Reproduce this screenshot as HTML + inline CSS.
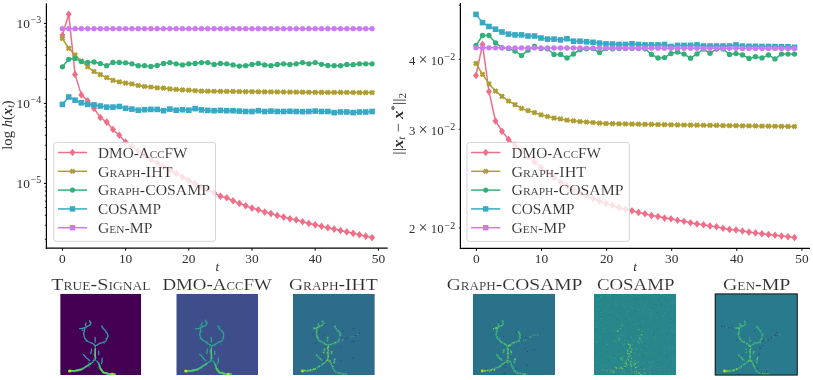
<!DOCTYPE html>
<html><head><meta charset="utf-8"><style>
html,body{margin:0;padding:0;background:#fff;width:813px;height:380px;overflow:hidden}
svg{display:block;filter:blur(0.3px)}
text{font-family:"Liberation Serif",serif;fill:#2e2e2e}
.tk{font-size:13.4px}
.sup{font-size:10px}
.lg{font-size:14.5px;stroke:#fff;stroke-width:0.1px}
.tt{font-size:17.2px;stroke:#fff;stroke-width:0.12px}
.xl{font-size:13px;font-style:italic}
.yl{font-size:15px}
.sc{font-size:10.5px}
.sct{font-size:11.6px}
</style></head><body>
<svg width="813" height="380" viewBox="0 0 813 380">
<line x1="46.4" y1="3.2" x2="46.4" y2="248.79999999999998" stroke="#000" stroke-width="1.2"/>
<line x1="45.8" y1="248.2" x2="387.7" y2="248.2" stroke="#000" stroke-width="1.2"/>
<line x1="62.40" y1="248.2" x2="62.40" y2="250.7" stroke="#000" stroke-width="1"/>
<text x="62.40" y="262.7" text-anchor="middle" class="tk">0</text>
<line x1="125.60" y1="248.2" x2="125.60" y2="250.7" stroke="#000" stroke-width="1"/>
<text x="125.60" y="262.7" text-anchor="middle" class="tk">10</text>
<line x1="188.80" y1="248.2" x2="188.80" y2="250.7" stroke="#000" stroke-width="1"/>
<text x="188.80" y="262.7" text-anchor="middle" class="tk">20</text>
<line x1="252.00" y1="248.2" x2="252.00" y2="250.7" stroke="#000" stroke-width="1"/>
<text x="252.00" y="262.7" text-anchor="middle" class="tk">30</text>
<line x1="315.20" y1="248.2" x2="315.20" y2="250.7" stroke="#000" stroke-width="1"/>
<text x="315.20" y="262.7" text-anchor="middle" class="tk">40</text>
<line x1="378.40" y1="248.2" x2="378.40" y2="250.7" stroke="#000" stroke-width="1"/>
<text x="378.40" y="262.7" text-anchor="middle" class="tk">50</text>
<line x1="43.9" y1="23.40" x2="46.4" y2="23.40" stroke="#000" stroke-width="1"/>
<line x1="43.9" y1="103.40" x2="46.4" y2="103.40" stroke="#000" stroke-width="1"/>
<line x1="43.9" y1="183.40" x2="46.4" y2="183.40" stroke="#000" stroke-width="1"/>
<line x1="44.8" y1="79.32" x2="46.4" y2="79.32" stroke="#000" stroke-width="0.8"/>
<line x1="44.8" y1="65.23" x2="46.4" y2="65.23" stroke="#000" stroke-width="0.8"/>
<line x1="44.8" y1="55.24" x2="46.4" y2="55.24" stroke="#000" stroke-width="0.8"/>
<line x1="44.8" y1="47.48" x2="46.4" y2="47.48" stroke="#000" stroke-width="0.8"/>
<line x1="44.8" y1="41.15" x2="46.4" y2="41.15" stroke="#000" stroke-width="0.8"/>
<line x1="44.8" y1="35.79" x2="46.4" y2="35.79" stroke="#000" stroke-width="0.8"/>
<line x1="44.8" y1="31.15" x2="46.4" y2="31.15" stroke="#000" stroke-width="0.8"/>
<line x1="44.8" y1="27.06" x2="46.4" y2="27.06" stroke="#000" stroke-width="0.8"/>
<line x1="44.8" y1="159.32" x2="46.4" y2="159.32" stroke="#000" stroke-width="0.8"/>
<line x1="44.8" y1="145.23" x2="46.4" y2="145.23" stroke="#000" stroke-width="0.8"/>
<line x1="44.8" y1="135.24" x2="46.4" y2="135.24" stroke="#000" stroke-width="0.8"/>
<line x1="44.8" y1="127.48" x2="46.4" y2="127.48" stroke="#000" stroke-width="0.8"/>
<line x1="44.8" y1="121.15" x2="46.4" y2="121.15" stroke="#000" stroke-width="0.8"/>
<line x1="44.8" y1="115.79" x2="46.4" y2="115.79" stroke="#000" stroke-width="0.8"/>
<line x1="44.8" y1="111.15" x2="46.4" y2="111.15" stroke="#000" stroke-width="0.8"/>
<line x1="44.8" y1="107.06" x2="46.4" y2="107.06" stroke="#000" stroke-width="0.8"/>
<line x1="44.8" y1="239.32" x2="46.4" y2="239.32" stroke="#000" stroke-width="0.8"/>
<line x1="44.8" y1="225.23" x2="46.4" y2="225.23" stroke="#000" stroke-width="0.8"/>
<line x1="44.8" y1="215.24" x2="46.4" y2="215.24" stroke="#000" stroke-width="0.8"/>
<line x1="44.8" y1="207.48" x2="46.4" y2="207.48" stroke="#000" stroke-width="0.8"/>
<line x1="44.8" y1="201.15" x2="46.4" y2="201.15" stroke="#000" stroke-width="0.8"/>
<line x1="44.8" y1="195.79" x2="46.4" y2="195.79" stroke="#000" stroke-width="0.8"/>
<line x1="44.8" y1="191.15" x2="46.4" y2="191.15" stroke="#000" stroke-width="0.8"/>
<line x1="44.8" y1="187.06" x2="46.4" y2="187.06" stroke="#000" stroke-width="0.8"/>
<text x="30" y="27.90" text-anchor="end" class="tk">10</text><text x="30.6" y="23.40" class="sup">−3</text>
<text x="30" y="107.90" text-anchor="end" class="tk">10</text><text x="30.6" y="103.40" class="sup">−4</text>
<text x="30" y="187.90" text-anchor="end" class="tk">10</text><text x="30.6" y="183.40" class="sup">−5</text>
<path d="M62.40 35.20L68.72 14.20L75.04 74.40L81.36 94.90L87.68 100.80L94.00 108.40L100.32 117.50L106.64 122.10L112.96 129.50L119.28 135.20L125.60 142.00L131.92 146.50L138.24 151.00L144.56 155.00L150.88 159.00L157.20 163.00L163.52 166.50L169.84 170.00L176.16 173.50L182.48 177.00L188.80 180.50L195.12 183.50L201.44 187.00L207.76 190.00L214.08 192.80L220.40 196.20L226.72 197.80L233.04 200.70L239.36 203.40L245.68 205.70L252.00 208.10L258.32 209.70L264.64 212.00L270.96 213.60L277.28 215.50L283.60 217.10L289.92 218.70L296.24 219.90L302.56 221.80L308.88 223.40L315.20 224.82L321.52 226.24L327.84 227.66L334.16 229.08L340.48 230.50L346.80 231.92L353.12 233.34L359.44 234.76L365.76 236.18L372.08 237.60" fill="none" stroke="#ef6f89" stroke-width="1.5" stroke-linejoin="round"/>
<path d="M62.40 31.39L65.42 35.20L62.40 39.01L59.38 35.20Z" fill="#ef6f89"/>
<path d="M68.72 10.39L71.74 14.20L68.72 18.01L65.70 14.20Z" fill="#ef6f89"/>
<path d="M75.04 70.59L78.06 74.40L75.04 78.21L72.02 74.40Z" fill="#ef6f89"/>
<path d="M81.36 91.09L84.38 94.90L81.36 98.71L78.34 94.90Z" fill="#ef6f89"/>
<path d="M87.68 96.99L90.70 100.80L87.68 104.61L84.66 100.80Z" fill="#ef6f89"/>
<path d="M94.00 104.59L97.02 108.40L94.00 112.21L90.98 108.40Z" fill="#ef6f89"/>
<path d="M100.32 113.69L103.34 117.50L100.32 121.31L97.30 117.50Z" fill="#ef6f89"/>
<path d="M106.64 118.29L109.66 122.10L106.64 125.91L103.62 122.10Z" fill="#ef6f89"/>
<path d="M112.96 125.69L115.98 129.50L112.96 133.31L109.94 129.50Z" fill="#ef6f89"/>
<path d="M119.28 131.39L122.30 135.20L119.28 139.01L116.26 135.20Z" fill="#ef6f89"/>
<path d="M125.60 138.19L128.62 142.00L125.60 145.81L122.58 142.00Z" fill="#ef6f89"/>
<path d="M131.92 142.69L134.94 146.50L131.92 150.31L128.90 146.50Z" fill="#ef6f89"/>
<path d="M138.24 147.19L141.26 151.00L138.24 154.81L135.22 151.00Z" fill="#ef6f89"/>
<path d="M144.56 151.19L147.58 155.00L144.56 158.81L141.54 155.00Z" fill="#ef6f89"/>
<path d="M150.88 155.19L153.90 159.00L150.88 162.81L147.86 159.00Z" fill="#ef6f89"/>
<path d="M157.20 159.19L160.22 163.00L157.20 166.81L154.18 163.00Z" fill="#ef6f89"/>
<path d="M163.52 162.69L166.54 166.50L163.52 170.31L160.50 166.50Z" fill="#ef6f89"/>
<path d="M169.84 166.19L172.86 170.00L169.84 173.81L166.82 170.00Z" fill="#ef6f89"/>
<path d="M176.16 169.69L179.18 173.50L176.16 177.31L173.14 173.50Z" fill="#ef6f89"/>
<path d="M182.48 173.19L185.50 177.00L182.48 180.81L179.46 177.00Z" fill="#ef6f89"/>
<path d="M188.80 176.69L191.82 180.50L188.80 184.31L185.78 180.50Z" fill="#ef6f89"/>
<path d="M195.12 179.69L198.14 183.50L195.12 187.31L192.10 183.50Z" fill="#ef6f89"/>
<path d="M201.44 183.19L204.46 187.00L201.44 190.81L198.42 187.00Z" fill="#ef6f89"/>
<path d="M207.76 186.19L210.78 190.00L207.76 193.81L204.74 190.00Z" fill="#ef6f89"/>
<path d="M214.08 188.99L217.10 192.80L214.08 196.61L211.06 192.80Z" fill="#ef6f89"/>
<path d="M220.40 192.39L223.42 196.20L220.40 200.01L217.38 196.20Z" fill="#ef6f89"/>
<path d="M226.72 193.99L229.74 197.80L226.72 201.61L223.70 197.80Z" fill="#ef6f89"/>
<path d="M233.04 196.89L236.06 200.70L233.04 204.51L230.02 200.70Z" fill="#ef6f89"/>
<path d="M239.36 199.59L242.38 203.40L239.36 207.21L236.34 203.40Z" fill="#ef6f89"/>
<path d="M245.68 201.89L248.70 205.70L245.68 209.51L242.66 205.70Z" fill="#ef6f89"/>
<path d="M252.00 204.29L255.02 208.10L252.00 211.91L248.98 208.10Z" fill="#ef6f89"/>
<path d="M258.32 205.89L261.34 209.70L258.32 213.51L255.30 209.70Z" fill="#ef6f89"/>
<path d="M264.64 208.19L267.66 212.00L264.64 215.81L261.62 212.00Z" fill="#ef6f89"/>
<path d="M270.96 209.79L273.98 213.60L270.96 217.41L267.94 213.60Z" fill="#ef6f89"/>
<path d="M277.28 211.69L280.30 215.50L277.28 219.31L274.26 215.50Z" fill="#ef6f89"/>
<path d="M283.60 213.29L286.62 217.10L283.60 220.91L280.58 217.10Z" fill="#ef6f89"/>
<path d="M289.92 214.89L292.94 218.70L289.92 222.51L286.90 218.70Z" fill="#ef6f89"/>
<path d="M296.24 216.09L299.26 219.90L296.24 223.71L293.22 219.90Z" fill="#ef6f89"/>
<path d="M302.56 217.99L305.58 221.80L302.56 225.61L299.54 221.80Z" fill="#ef6f89"/>
<path d="M308.88 219.59L311.90 223.40L308.88 227.21L305.86 223.40Z" fill="#ef6f89"/>
<path d="M315.20 221.01L318.22 224.82L315.20 228.63L312.18 224.82Z" fill="#ef6f89"/>
<path d="M321.52 222.43L324.54 226.24L321.52 230.05L318.50 226.24Z" fill="#ef6f89"/>
<path d="M327.84 223.85L330.86 227.66L327.84 231.47L324.82 227.66Z" fill="#ef6f89"/>
<path d="M334.16 225.27L337.18 229.08L334.16 232.89L331.14 229.08Z" fill="#ef6f89"/>
<path d="M340.48 226.69L343.50 230.50L340.48 234.31L337.46 230.50Z" fill="#ef6f89"/>
<path d="M346.80 228.11L349.82 231.92L346.80 235.73L343.78 231.92Z" fill="#ef6f89"/>
<path d="M353.12 229.53L356.14 233.34L353.12 237.15L350.10 233.34Z" fill="#ef6f89"/>
<path d="M359.44 230.95L362.46 234.76L359.44 238.57L356.42 234.76Z" fill="#ef6f89"/>
<path d="M365.76 232.37L368.78 236.18L365.76 239.99L362.74 236.18Z" fill="#ef6f89"/>
<path d="M372.08 233.79L375.10 237.60L372.08 241.41L369.06 237.60Z" fill="#ef6f89"/>
<path d="M62.40 38.40L68.72 48.30L75.04 54.90L81.36 61.20L87.68 66.80L94.00 71.50L100.32 74.60L106.64 77.60L112.96 80.30L119.28 81.90L125.60 83.10L131.92 83.90L138.24 85.50L144.56 86.50L150.88 87.00L157.20 87.80L163.52 88.10L169.84 88.90L176.16 89.40L182.48 89.90L188.80 90.20L195.12 90.70L201.44 91.10L207.76 91.17L214.08 91.25L220.40 91.33L226.72 91.40L233.04 91.47L239.36 91.55L245.68 91.62L252.00 91.70L258.32 91.76L264.64 91.82L270.96 91.88L277.28 91.94L283.60 92.00L289.92 92.06L296.24 92.12L302.56 92.18L308.88 92.24L315.20 92.30L321.52 92.33L327.84 92.37L334.16 92.40L340.48 92.43L346.80 92.47L353.12 92.50L359.44 92.53L365.76 92.57L372.08 92.60" fill="none" stroke="#ae9d31" stroke-width="1.5" stroke-linejoin="round"/>
<path d="M59.54 37.28L61.28 35.54L62.40 36.66L63.52 35.54L65.26 37.28L64.14 38.40L65.26 39.52L63.52 41.26L62.40 40.14L61.28 41.26L59.54 39.52L60.66 38.40Z" fill="#ae9d31"/>
<path d="M65.86 47.18L67.60 45.44L68.72 46.56L69.84 45.44L71.58 47.18L70.46 48.30L71.58 49.42L69.84 51.16L68.72 50.04L67.60 51.16L65.86 49.42L66.98 48.30Z" fill="#ae9d31"/>
<path d="M72.18 53.78L73.92 52.04L75.04 53.16L76.16 52.04L77.90 53.78L76.78 54.90L77.90 56.02L76.16 57.76L75.04 56.64L73.92 57.76L72.18 56.02L73.30 54.90Z" fill="#ae9d31"/>
<path d="M78.50 60.08L80.24 58.34L81.36 59.46L82.48 58.34L84.22 60.08L83.10 61.20L84.22 62.32L82.48 64.06L81.36 62.94L80.24 64.06L78.50 62.32L79.62 61.20Z" fill="#ae9d31"/>
<path d="M84.82 65.68L86.56 63.94L87.68 65.06L88.80 63.94L90.54 65.68L89.42 66.80L90.54 67.92L88.80 69.66L87.68 68.54L86.56 69.66L84.82 67.92L85.94 66.80Z" fill="#ae9d31"/>
<path d="M91.14 70.38L92.88 68.64L94.00 69.76L95.12 68.64L96.86 70.38L95.74 71.50L96.86 72.62L95.12 74.36L94.00 73.24L92.88 74.36L91.14 72.62L92.26 71.50Z" fill="#ae9d31"/>
<path d="M97.46 73.48L99.20 71.74L100.32 72.86L101.44 71.74L103.18 73.48L102.06 74.60L103.18 75.72L101.44 77.46L100.32 76.34L99.20 77.46L97.46 75.72L98.58 74.60Z" fill="#ae9d31"/>
<path d="M103.78 76.48L105.52 74.74L106.64 75.86L107.76 74.74L109.50 76.48L108.38 77.60L109.50 78.72L107.76 80.46L106.64 79.34L105.52 80.46L103.78 78.72L104.90 77.60Z" fill="#ae9d31"/>
<path d="M110.10 79.18L111.84 77.44L112.96 78.56L114.08 77.44L115.82 79.18L114.70 80.30L115.82 81.42L114.08 83.16L112.96 82.04L111.84 83.16L110.10 81.42L111.22 80.30Z" fill="#ae9d31"/>
<path d="M116.42 80.78L118.16 79.04L119.28 80.16L120.40 79.04L122.14 80.78L121.02 81.90L122.14 83.02L120.40 84.76L119.28 83.64L118.16 84.76L116.42 83.02L117.54 81.90Z" fill="#ae9d31"/>
<path d="M122.74 81.98L124.48 80.24L125.60 81.36L126.72 80.24L128.46 81.98L127.34 83.10L128.46 84.22L126.72 85.96L125.60 84.84L124.48 85.96L122.74 84.22L123.86 83.10Z" fill="#ae9d31"/>
<path d="M129.06 82.78L130.80 81.04L131.92 82.16L133.04 81.04L134.78 82.78L133.66 83.90L134.78 85.02L133.04 86.76L131.92 85.64L130.80 86.76L129.06 85.02L130.18 83.90Z" fill="#ae9d31"/>
<path d="M135.38 84.38L137.12 82.64L138.24 83.76L139.36 82.64L141.10 84.38L139.98 85.50L141.10 86.62L139.36 88.36L138.24 87.24L137.12 88.36L135.38 86.62L136.50 85.50Z" fill="#ae9d31"/>
<path d="M141.70 85.38L143.44 83.64L144.56 84.76L145.68 83.64L147.42 85.38L146.30 86.50L147.42 87.62L145.68 89.36L144.56 88.24L143.44 89.36L141.70 87.62L142.82 86.50Z" fill="#ae9d31"/>
<path d="M148.02 85.88L149.76 84.14L150.88 85.26L152.00 84.14L153.74 85.88L152.62 87.00L153.74 88.12L152.00 89.86L150.88 88.74L149.76 89.86L148.02 88.12L149.14 87.00Z" fill="#ae9d31"/>
<path d="M154.34 86.68L156.08 84.94L157.20 86.06L158.32 84.94L160.06 86.68L158.94 87.80L160.06 88.92L158.32 90.66L157.20 89.54L156.08 90.66L154.34 88.92L155.46 87.80Z" fill="#ae9d31"/>
<path d="M160.66 86.98L162.40 85.24L163.52 86.36L164.64 85.24L166.38 86.98L165.26 88.10L166.38 89.22L164.64 90.96L163.52 89.84L162.40 90.96L160.66 89.22L161.78 88.10Z" fill="#ae9d31"/>
<path d="M166.98 87.78L168.72 86.04L169.84 87.16L170.96 86.04L172.70 87.78L171.58 88.90L172.70 90.02L170.96 91.76L169.84 90.64L168.72 91.76L166.98 90.02L168.10 88.90Z" fill="#ae9d31"/>
<path d="M173.30 88.28L175.04 86.54L176.16 87.66L177.28 86.54L179.02 88.28L177.90 89.40L179.02 90.52L177.28 92.26L176.16 91.14L175.04 92.26L173.30 90.52L174.42 89.40Z" fill="#ae9d31"/>
<path d="M179.62 88.78L181.36 87.04L182.48 88.16L183.60 87.04L185.34 88.78L184.22 89.90L185.34 91.02L183.60 92.76L182.48 91.64L181.36 92.76L179.62 91.02L180.74 89.90Z" fill="#ae9d31"/>
<path d="M185.94 89.08L187.68 87.34L188.80 88.46L189.92 87.34L191.66 89.08L190.54 90.20L191.66 91.32L189.92 93.06L188.80 91.94L187.68 93.06L185.94 91.32L187.06 90.20Z" fill="#ae9d31"/>
<path d="M192.26 89.58L194.00 87.84L195.12 88.96L196.24 87.84L197.98 89.58L196.86 90.70L197.98 91.82L196.24 93.56L195.12 92.44L194.00 93.56L192.26 91.82L193.38 90.70Z" fill="#ae9d31"/>
<path d="M198.58 89.98L200.32 88.24L201.44 89.36L202.56 88.24L204.30 89.98L203.18 91.10L204.30 92.22L202.56 93.96L201.44 92.84L200.32 93.96L198.58 92.22L199.70 91.10Z" fill="#ae9d31"/>
<path d="M204.90 90.05L206.64 88.32L207.76 89.44L208.88 88.32L210.62 90.05L209.50 91.17L210.62 92.30L208.88 94.03L207.76 92.91L206.64 94.03L204.90 92.30L206.02 91.17Z" fill="#ae9d31"/>
<path d="M211.22 90.13L212.96 88.39L214.08 89.51L215.20 88.39L216.94 90.13L215.82 91.25L216.94 92.37L215.20 94.11L214.08 92.99L212.96 94.11L211.22 92.37L212.34 91.25Z" fill="#ae9d31"/>
<path d="M217.54 90.20L219.28 88.47L220.40 89.59L221.52 88.47L223.26 90.20L222.14 91.33L223.26 92.45L221.52 94.18L220.40 93.06L219.28 94.18L217.54 92.45L218.66 91.33Z" fill="#ae9d31"/>
<path d="M223.86 90.28L225.60 88.54L226.72 89.66L227.84 88.54L229.58 90.28L228.46 91.40L229.58 92.52L227.84 94.26L226.72 93.14L225.60 94.26L223.86 92.52L224.98 91.40Z" fill="#ae9d31"/>
<path d="M230.18 90.35L231.92 88.62L233.04 89.74L234.16 88.62L235.90 90.35L234.78 91.47L235.90 92.59L234.16 94.33L233.04 93.21L231.92 94.33L230.18 92.59L231.30 91.47Z" fill="#ae9d31"/>
<path d="M236.50 90.43L238.24 88.69L239.36 89.81L240.48 88.69L242.22 90.43L241.10 91.55L242.22 92.67L240.48 94.41L239.36 93.29L238.24 94.41L236.50 92.67L237.62 91.55Z" fill="#ae9d31"/>
<path d="M242.82 90.50L244.56 88.77L245.68 89.89L246.80 88.77L248.54 90.50L247.42 91.62L248.54 92.75L246.80 94.48L245.68 93.36L244.56 94.48L242.82 92.75L243.94 91.62Z" fill="#ae9d31"/>
<path d="M249.14 90.58L250.88 88.84L252.00 89.96L253.12 88.84L254.86 90.58L253.74 91.70L254.86 92.82L253.12 94.56L252.00 93.44L250.88 94.56L249.14 92.82L250.26 91.70Z" fill="#ae9d31"/>
<path d="M255.46 90.64L257.20 88.90L258.32 90.02L259.44 88.90L261.18 90.64L260.06 91.76L261.18 92.88L259.44 94.62L258.32 93.50L257.20 94.62L255.46 92.88L256.58 91.76Z" fill="#ae9d31"/>
<path d="M261.78 90.70L263.52 88.96L264.64 90.08L265.76 88.96L267.50 90.70L266.38 91.82L267.50 92.94L265.76 94.68L264.64 93.56L263.52 94.68L261.78 92.94L262.90 91.82Z" fill="#ae9d31"/>
<path d="M268.10 90.76L269.84 89.02L270.96 90.14L272.08 89.02L273.82 90.76L272.70 91.88L273.82 93.00L272.08 94.74L270.96 93.62L269.84 94.74L268.10 93.00L269.22 91.88Z" fill="#ae9d31"/>
<path d="M274.42 90.82L276.16 89.08L277.28 90.20L278.40 89.08L280.14 90.82L279.02 91.94L280.14 93.06L278.40 94.80L277.28 93.68L276.16 94.80L274.42 93.06L275.54 91.94Z" fill="#ae9d31"/>
<path d="M280.74 90.88L282.48 89.14L283.60 90.26L284.72 89.14L286.46 90.88L285.34 92.00L286.46 93.12L284.72 94.86L283.60 93.74L282.48 94.86L280.74 93.12L281.86 92.00Z" fill="#ae9d31"/>
<path d="M287.06 90.94L288.80 89.20L289.92 90.32L291.04 89.20L292.78 90.94L291.66 92.06L292.78 93.18L291.04 94.92L289.92 93.80L288.80 94.92L287.06 93.18L288.18 92.06Z" fill="#ae9d31"/>
<path d="M293.38 91.00L295.12 89.26L296.24 90.38L297.36 89.26L299.10 91.00L297.98 92.12L299.10 93.24L297.36 94.98L296.24 93.86L295.12 94.98L293.38 93.24L294.50 92.12Z" fill="#ae9d31"/>
<path d="M299.70 91.06L301.44 89.32L302.56 90.44L303.68 89.32L305.42 91.06L304.30 92.18L305.42 93.30L303.68 95.04L302.56 93.92L301.44 95.04L299.70 93.30L300.82 92.18Z" fill="#ae9d31"/>
<path d="M306.02 91.12L307.76 89.38L308.88 90.50L310.00 89.38L311.74 91.12L310.62 92.24L311.74 93.36L310.00 95.10L308.88 93.98L307.76 95.10L306.02 93.36L307.14 92.24Z" fill="#ae9d31"/>
<path d="M312.34 91.18L314.08 89.44L315.20 90.56L316.32 89.44L318.06 91.18L316.94 92.30L318.06 93.42L316.32 95.16L315.20 94.04L314.08 95.16L312.34 93.42L313.46 92.30Z" fill="#ae9d31"/>
<path d="M318.66 91.21L320.40 89.48L321.52 90.60L322.64 89.48L324.38 91.21L323.26 92.33L324.38 93.45L322.64 95.19L321.52 94.07L320.40 95.19L318.66 93.45L319.78 92.33Z" fill="#ae9d31"/>
<path d="M324.98 91.25L326.72 89.51L327.84 90.63L328.96 89.51L330.70 91.25L329.58 92.37L330.70 93.49L328.96 95.22L327.84 94.10L326.72 95.22L324.98 93.49L326.10 92.37Z" fill="#ae9d31"/>
<path d="M331.30 91.28L333.04 89.54L334.16 90.66L335.28 89.54L337.02 91.28L335.90 92.40L337.02 93.52L335.28 95.26L334.16 94.14L333.04 95.26L331.30 93.52L332.42 92.40Z" fill="#ae9d31"/>
<path d="M337.62 91.31L339.36 89.58L340.48 90.70L341.60 89.58L343.34 91.31L342.22 92.43L343.34 93.55L341.60 95.29L340.48 94.17L339.36 95.29L337.62 93.55L338.74 92.43Z" fill="#ae9d31"/>
<path d="M343.94 91.35L345.68 89.61L346.80 90.73L347.92 89.61L349.66 91.35L348.54 92.47L349.66 93.59L347.92 95.32L346.80 94.20L345.68 95.32L343.94 93.59L345.06 92.47Z" fill="#ae9d31"/>
<path d="M350.26 91.38L352.00 89.64L353.12 90.76L354.24 89.64L355.98 91.38L354.86 92.50L355.98 93.62L354.24 95.36L353.12 94.24L352.00 95.36L350.26 93.62L351.38 92.50Z" fill="#ae9d31"/>
<path d="M356.58 91.41L358.32 89.68L359.44 90.80L360.56 89.68L362.30 91.41L361.18 92.53L362.30 93.65L360.56 95.39L359.44 94.27L358.32 95.39L356.58 93.65L357.70 92.53Z" fill="#ae9d31"/>
<path d="M362.90 91.45L364.64 89.71L365.76 90.83L366.88 89.71L368.62 91.45L367.50 92.57L368.62 93.69L366.88 95.42L365.76 94.30L364.64 95.42L362.90 93.69L364.02 92.57Z" fill="#ae9d31"/>
<path d="M369.22 91.48L370.96 89.74L372.08 90.86L373.20 89.74L374.94 91.48L373.82 92.60L374.94 93.72L373.20 95.46L372.08 94.34L370.96 95.46L369.22 93.72L370.34 92.60Z" fill="#ae9d31"/>
<path d="M62.40 66.80L68.72 59.30L75.04 58.40L81.36 61.60L87.68 62.50L94.00 62.00L100.32 63.60L106.64 65.70L112.96 62.50L119.28 62.50L125.60 62.80L131.92 63.80L138.24 65.70L144.56 65.70L150.88 66.50L157.20 65.40L163.52 63.40L169.84 62.60L176.16 63.80L182.48 64.90L188.80 63.80L195.12 63.40L201.44 62.60L207.76 62.60L214.08 64.50L220.40 63.40L226.72 63.80L233.04 64.90L239.36 66.10L245.68 65.70L252.00 64.50L258.32 63.40L264.64 64.90L270.96 65.70L277.28 64.50L283.60 63.80L289.92 64.50L296.24 63.80L302.56 62.60L308.88 63.80L315.20 62.60L321.52 64.30L327.84 65.50L334.16 65.70L340.48 65.70L346.80 64.50L353.12 64.70L359.44 63.80L365.76 63.80L372.08 63.80" fill="none" stroke="#33b07a" stroke-width="1.5" stroke-linejoin="round"/>
<circle cx="62.40" cy="66.80" r="2.66" fill="#33b07a"/>
<circle cx="68.72" cy="59.30" r="2.66" fill="#33b07a"/>
<circle cx="75.04" cy="58.40" r="2.66" fill="#33b07a"/>
<circle cx="81.36" cy="61.60" r="2.66" fill="#33b07a"/>
<circle cx="87.68" cy="62.50" r="2.66" fill="#33b07a"/>
<circle cx="94.00" cy="62.00" r="2.66" fill="#33b07a"/>
<circle cx="100.32" cy="63.60" r="2.66" fill="#33b07a"/>
<circle cx="106.64" cy="65.70" r="2.66" fill="#33b07a"/>
<circle cx="112.96" cy="62.50" r="2.66" fill="#33b07a"/>
<circle cx="119.28" cy="62.50" r="2.66" fill="#33b07a"/>
<circle cx="125.60" cy="62.80" r="2.66" fill="#33b07a"/>
<circle cx="131.92" cy="63.80" r="2.66" fill="#33b07a"/>
<circle cx="138.24" cy="65.70" r="2.66" fill="#33b07a"/>
<circle cx="144.56" cy="65.70" r="2.66" fill="#33b07a"/>
<circle cx="150.88" cy="66.50" r="2.66" fill="#33b07a"/>
<circle cx="157.20" cy="65.40" r="2.66" fill="#33b07a"/>
<circle cx="163.52" cy="63.40" r="2.66" fill="#33b07a"/>
<circle cx="169.84" cy="62.60" r="2.66" fill="#33b07a"/>
<circle cx="176.16" cy="63.80" r="2.66" fill="#33b07a"/>
<circle cx="182.48" cy="64.90" r="2.66" fill="#33b07a"/>
<circle cx="188.80" cy="63.80" r="2.66" fill="#33b07a"/>
<circle cx="195.12" cy="63.40" r="2.66" fill="#33b07a"/>
<circle cx="201.44" cy="62.60" r="2.66" fill="#33b07a"/>
<circle cx="207.76" cy="62.60" r="2.66" fill="#33b07a"/>
<circle cx="214.08" cy="64.50" r="2.66" fill="#33b07a"/>
<circle cx="220.40" cy="63.40" r="2.66" fill="#33b07a"/>
<circle cx="226.72" cy="63.80" r="2.66" fill="#33b07a"/>
<circle cx="233.04" cy="64.90" r="2.66" fill="#33b07a"/>
<circle cx="239.36" cy="66.10" r="2.66" fill="#33b07a"/>
<circle cx="245.68" cy="65.70" r="2.66" fill="#33b07a"/>
<circle cx="252.00" cy="64.50" r="2.66" fill="#33b07a"/>
<circle cx="258.32" cy="63.40" r="2.66" fill="#33b07a"/>
<circle cx="264.64" cy="64.90" r="2.66" fill="#33b07a"/>
<circle cx="270.96" cy="65.70" r="2.66" fill="#33b07a"/>
<circle cx="277.28" cy="64.50" r="2.66" fill="#33b07a"/>
<circle cx="283.60" cy="63.80" r="2.66" fill="#33b07a"/>
<circle cx="289.92" cy="64.50" r="2.66" fill="#33b07a"/>
<circle cx="296.24" cy="63.80" r="2.66" fill="#33b07a"/>
<circle cx="302.56" cy="62.60" r="2.66" fill="#33b07a"/>
<circle cx="308.88" cy="63.80" r="2.66" fill="#33b07a"/>
<circle cx="315.20" cy="62.60" r="2.66" fill="#33b07a"/>
<circle cx="321.52" cy="64.30" r="2.66" fill="#33b07a"/>
<circle cx="327.84" cy="65.50" r="2.66" fill="#33b07a"/>
<circle cx="334.16" cy="65.70" r="2.66" fill="#33b07a"/>
<circle cx="340.48" cy="65.70" r="2.66" fill="#33b07a"/>
<circle cx="346.80" cy="64.50" r="2.66" fill="#33b07a"/>
<circle cx="353.12" cy="64.70" r="2.66" fill="#33b07a"/>
<circle cx="359.44" cy="63.80" r="2.66" fill="#33b07a"/>
<circle cx="365.76" cy="63.80" r="2.66" fill="#33b07a"/>
<circle cx="372.08" cy="63.80" r="2.66" fill="#33b07a"/>
<path d="M62.40 104.40L68.72 97.00L75.04 100.20L81.36 102.80L87.68 104.40L94.00 104.90L100.32 106.00L106.64 107.10L112.96 107.10L119.28 106.50L125.60 108.30L131.92 109.10L138.24 110.20L144.56 109.70L150.88 109.40L157.20 109.40L163.52 110.70L169.84 109.10L176.16 110.20L182.48 109.70L188.80 110.20L195.12 108.60L201.44 109.90L207.76 110.40L214.08 110.70L220.40 110.40L226.72 110.70L233.04 110.70L239.36 111.10L245.68 111.50L252.00 111.50L258.32 110.70L264.64 111.50L270.96 111.10L277.28 111.50L283.60 111.50L289.92 111.30L296.24 111.50L302.56 111.70L308.88 111.50L315.20 111.10L321.52 111.50L327.84 111.50L334.16 112.60L340.48 112.00L346.80 112.00L353.12 112.60L359.44 112.00L365.76 112.00L372.08 111.50" fill="none" stroke="#38a9c5" stroke-width="1.5" stroke-linejoin="round"/>
<rect x="59.60" y="101.60" width="5.60" height="5.60" fill="#38a9c5"/>
<rect x="65.92" y="94.20" width="5.60" height="5.60" fill="#38a9c5"/>
<rect x="72.24" y="97.40" width="5.60" height="5.60" fill="#38a9c5"/>
<rect x="78.56" y="100.00" width="5.60" height="5.60" fill="#38a9c5"/>
<rect x="84.88" y="101.60" width="5.60" height="5.60" fill="#38a9c5"/>
<rect x="91.20" y="102.10" width="5.60" height="5.60" fill="#38a9c5"/>
<rect x="97.52" y="103.20" width="5.60" height="5.60" fill="#38a9c5"/>
<rect x="103.84" y="104.30" width="5.60" height="5.60" fill="#38a9c5"/>
<rect x="110.16" y="104.30" width="5.60" height="5.60" fill="#38a9c5"/>
<rect x="116.48" y="103.70" width="5.60" height="5.60" fill="#38a9c5"/>
<rect x="122.80" y="105.50" width="5.60" height="5.60" fill="#38a9c5"/>
<rect x="129.12" y="106.30" width="5.60" height="5.60" fill="#38a9c5"/>
<rect x="135.44" y="107.40" width="5.60" height="5.60" fill="#38a9c5"/>
<rect x="141.76" y="106.90" width="5.60" height="5.60" fill="#38a9c5"/>
<rect x="148.08" y="106.60" width="5.60" height="5.60" fill="#38a9c5"/>
<rect x="154.40" y="106.60" width="5.60" height="5.60" fill="#38a9c5"/>
<rect x="160.72" y="107.90" width="5.60" height="5.60" fill="#38a9c5"/>
<rect x="167.04" y="106.30" width="5.60" height="5.60" fill="#38a9c5"/>
<rect x="173.36" y="107.40" width="5.60" height="5.60" fill="#38a9c5"/>
<rect x="179.68" y="106.90" width="5.60" height="5.60" fill="#38a9c5"/>
<rect x="186.00" y="107.40" width="5.60" height="5.60" fill="#38a9c5"/>
<rect x="192.32" y="105.80" width="5.60" height="5.60" fill="#38a9c5"/>
<rect x="198.64" y="107.10" width="5.60" height="5.60" fill="#38a9c5"/>
<rect x="204.96" y="107.60" width="5.60" height="5.60" fill="#38a9c5"/>
<rect x="211.28" y="107.90" width="5.60" height="5.60" fill="#38a9c5"/>
<rect x="217.60" y="107.60" width="5.60" height="5.60" fill="#38a9c5"/>
<rect x="223.92" y="107.90" width="5.60" height="5.60" fill="#38a9c5"/>
<rect x="230.24" y="107.90" width="5.60" height="5.60" fill="#38a9c5"/>
<rect x="236.56" y="108.30" width="5.60" height="5.60" fill="#38a9c5"/>
<rect x="242.88" y="108.70" width="5.60" height="5.60" fill="#38a9c5"/>
<rect x="249.20" y="108.70" width="5.60" height="5.60" fill="#38a9c5"/>
<rect x="255.52" y="107.90" width="5.60" height="5.60" fill="#38a9c5"/>
<rect x="261.84" y="108.70" width="5.60" height="5.60" fill="#38a9c5"/>
<rect x="268.16" y="108.30" width="5.60" height="5.60" fill="#38a9c5"/>
<rect x="274.48" y="108.70" width="5.60" height="5.60" fill="#38a9c5"/>
<rect x="280.80" y="108.70" width="5.60" height="5.60" fill="#38a9c5"/>
<rect x="287.12" y="108.50" width="5.60" height="5.60" fill="#38a9c5"/>
<rect x="293.44" y="108.70" width="5.60" height="5.60" fill="#38a9c5"/>
<rect x="299.76" y="108.90" width="5.60" height="5.60" fill="#38a9c5"/>
<rect x="306.08" y="108.70" width="5.60" height="5.60" fill="#38a9c5"/>
<rect x="312.40" y="108.30" width="5.60" height="5.60" fill="#38a9c5"/>
<rect x="318.72" y="108.70" width="5.60" height="5.60" fill="#38a9c5"/>
<rect x="325.04" y="108.70" width="5.60" height="5.60" fill="#38a9c5"/>
<rect x="331.36" y="109.80" width="5.60" height="5.60" fill="#38a9c5"/>
<rect x="337.68" y="109.20" width="5.60" height="5.60" fill="#38a9c5"/>
<rect x="344.00" y="109.20" width="5.60" height="5.60" fill="#38a9c5"/>
<rect x="350.32" y="109.80" width="5.60" height="5.60" fill="#38a9c5"/>
<rect x="356.64" y="109.20" width="5.60" height="5.60" fill="#38a9c5"/>
<rect x="362.96" y="109.20" width="5.60" height="5.60" fill="#38a9c5"/>
<rect x="369.28" y="108.70" width="5.60" height="5.60" fill="#38a9c5"/>
<path d="M62.40 28.70L68.72 28.70L75.04 28.70L81.36 28.70L87.68 28.70L94.00 28.70L100.32 28.70L106.64 28.70L112.96 28.70L119.28 28.70L125.60 28.70L131.92 28.70L138.24 28.70L144.56 28.70L150.88 28.70L157.20 28.70L163.52 28.70L169.84 28.70L176.16 28.70L182.48 28.70L188.80 28.70L195.12 28.70L201.44 28.70L207.76 28.70L214.08 28.70L220.40 28.70L226.72 28.70L233.04 28.70L239.36 28.70L245.68 28.70L252.00 28.70L258.32 28.70L264.64 28.70L270.96 28.70L277.28 28.70L283.60 28.70L289.92 28.70L296.24 28.70L302.56 28.70L308.88 28.70L315.20 28.70L321.52 28.70L327.84 28.70L334.16 28.70L340.48 28.70L346.80 28.70L353.12 28.70L359.44 28.70L365.76 28.70L372.08 28.70" fill="none" stroke="#cc7af4" stroke-width="1.5" stroke-linejoin="round"/>
<circle cx="62.40" cy="28.70" r="2.66" fill="#cc7af4"/>
<circle cx="68.72" cy="28.70" r="2.66" fill="#cc7af4"/>
<circle cx="75.04" cy="28.70" r="2.66" fill="#cc7af4"/>
<circle cx="81.36" cy="28.70" r="2.66" fill="#cc7af4"/>
<circle cx="87.68" cy="28.70" r="2.66" fill="#cc7af4"/>
<circle cx="94.00" cy="28.70" r="2.66" fill="#cc7af4"/>
<circle cx="100.32" cy="28.70" r="2.66" fill="#cc7af4"/>
<circle cx="106.64" cy="28.70" r="2.66" fill="#cc7af4"/>
<circle cx="112.96" cy="28.70" r="2.66" fill="#cc7af4"/>
<circle cx="119.28" cy="28.70" r="2.66" fill="#cc7af4"/>
<circle cx="125.60" cy="28.70" r="2.66" fill="#cc7af4"/>
<circle cx="131.92" cy="28.70" r="2.66" fill="#cc7af4"/>
<circle cx="138.24" cy="28.70" r="2.66" fill="#cc7af4"/>
<circle cx="144.56" cy="28.70" r="2.66" fill="#cc7af4"/>
<circle cx="150.88" cy="28.70" r="2.66" fill="#cc7af4"/>
<circle cx="157.20" cy="28.70" r="2.66" fill="#cc7af4"/>
<circle cx="163.52" cy="28.70" r="2.66" fill="#cc7af4"/>
<circle cx="169.84" cy="28.70" r="2.66" fill="#cc7af4"/>
<circle cx="176.16" cy="28.70" r="2.66" fill="#cc7af4"/>
<circle cx="182.48" cy="28.70" r="2.66" fill="#cc7af4"/>
<circle cx="188.80" cy="28.70" r="2.66" fill="#cc7af4"/>
<circle cx="195.12" cy="28.70" r="2.66" fill="#cc7af4"/>
<circle cx="201.44" cy="28.70" r="2.66" fill="#cc7af4"/>
<circle cx="207.76" cy="28.70" r="2.66" fill="#cc7af4"/>
<circle cx="214.08" cy="28.70" r="2.66" fill="#cc7af4"/>
<circle cx="220.40" cy="28.70" r="2.66" fill="#cc7af4"/>
<circle cx="226.72" cy="28.70" r="2.66" fill="#cc7af4"/>
<circle cx="233.04" cy="28.70" r="2.66" fill="#cc7af4"/>
<circle cx="239.36" cy="28.70" r="2.66" fill="#cc7af4"/>
<circle cx="245.68" cy="28.70" r="2.66" fill="#cc7af4"/>
<circle cx="252.00" cy="28.70" r="2.66" fill="#cc7af4"/>
<circle cx="258.32" cy="28.70" r="2.66" fill="#cc7af4"/>
<circle cx="264.64" cy="28.70" r="2.66" fill="#cc7af4"/>
<circle cx="270.96" cy="28.70" r="2.66" fill="#cc7af4"/>
<circle cx="277.28" cy="28.70" r="2.66" fill="#cc7af4"/>
<circle cx="283.60" cy="28.70" r="2.66" fill="#cc7af4"/>
<circle cx="289.92" cy="28.70" r="2.66" fill="#cc7af4"/>
<circle cx="296.24" cy="28.70" r="2.66" fill="#cc7af4"/>
<circle cx="302.56" cy="28.70" r="2.66" fill="#cc7af4"/>
<circle cx="308.88" cy="28.70" r="2.66" fill="#cc7af4"/>
<circle cx="315.20" cy="28.70" r="2.66" fill="#cc7af4"/>
<circle cx="321.52" cy="28.70" r="2.66" fill="#cc7af4"/>
<circle cx="327.84" cy="28.70" r="2.66" fill="#cc7af4"/>
<circle cx="334.16" cy="28.70" r="2.66" fill="#cc7af4"/>
<circle cx="340.48" cy="28.70" r="2.66" fill="#cc7af4"/>
<circle cx="346.80" cy="28.70" r="2.66" fill="#cc7af4"/>
<circle cx="353.12" cy="28.70" r="2.66" fill="#cc7af4"/>
<circle cx="359.44" cy="28.70" r="2.66" fill="#cc7af4"/>
<circle cx="365.76" cy="28.70" r="2.66" fill="#cc7af4"/>
<circle cx="372.08" cy="28.70" r="2.66" fill="#cc7af4"/>
<rect x="53.8" y="142.4" width="161.7" height="98.9" rx="2.5" fill="#fff" fill-opacity="0.8" stroke="#d0d0d0" stroke-width="0.9"/>
<line x1="57.90" y1="152.50" x2="87.10" y2="152.50" stroke="#ef6f89" stroke-width="1.5"/>
<path d="M72.50 148.83L75.42 152.50L72.50 156.17L69.58 152.50Z" fill="#ef6f89"/>
<text x="98.00" y="157.70" class="lg" textLength="89.5" lengthAdjust="spacingAndGlyphs">DMO-A<tspan class="sc">CC</tspan>FW</text>
<line x1="57.90" y1="171.30" x2="87.10" y2="171.30" stroke="#ae9d31" stroke-width="1.5"/>
<path d="M69.75 170.22L71.42 168.55L72.50 169.63L73.58 168.55L75.25 170.22L74.17 171.30L75.25 172.38L73.58 174.05L72.50 172.97L71.42 174.05L69.75 172.38L70.83 171.30Z" fill="#ae9d31"/>
<text x="98.00" y="176.50" class="lg" textLength="74.5" lengthAdjust="spacingAndGlyphs">G<tspan class="sc">RAPH</tspan>-IHT</text>
<line x1="57.90" y1="190.10" x2="87.10" y2="190.10" stroke="#33b07a" stroke-width="1.5"/>
<circle cx="72.50" cy="190.10" r="2.56" fill="#33b07a"/>
<text x="98.00" y="195.30" class="lg" textLength="112" lengthAdjust="spacingAndGlyphs">G<tspan class="sc">RAPH</tspan>-COSAMP</text>
<line x1="57.90" y1="208.90" x2="87.10" y2="208.90" stroke="#38a9c5" stroke-width="1.5"/>
<rect x="69.80" y="206.20" width="5.40" height="5.40" fill="#38a9c5"/>
<text x="98.00" y="214.10" class="lg" textLength="63" lengthAdjust="spacingAndGlyphs">COSAMP</text>
<line x1="57.90" y1="227.70" x2="87.10" y2="227.70" stroke="#cc7af4" stroke-width="1.5"/>
<rect x="69.80" y="225.00" width="5.40" height="5.40" fill="#cc7af4"/>
<text x="98.00" y="232.90" class="lg" textLength="54.5" lengthAdjust="spacingAndGlyphs">G<tspan class="sc">EN</tspan>-MP</text>
<text x="217.2" y="270.5" text-anchor="middle" class="xl">t</text>
<text transform="translate(12.2 125.0) rotate(-90)" text-anchor="middle" class="yl" textLength="49.5" lengthAdjust="spacingAndGlyphs">log <tspan font-style="italic">h</tspan>(<tspan font-weight="bold" font-style="italic">x</tspan><tspan font-style="italic" font-size="10" dy="2">t</tspan><tspan dy="-2">)</tspan></text>
<line x1="460.4" y1="3.0" x2="460.4" y2="249.0" stroke="#000" stroke-width="1.2"/>
<line x1="459.79999999999995" y1="248.4" x2="810.0" y2="248.4" stroke="#000" stroke-width="1.2"/>
<line x1="476.40" y1="248.4" x2="476.40" y2="250.9" stroke="#000" stroke-width="1"/>
<text x="476.40" y="262.7" text-anchor="middle" class="tk">0</text>
<line x1="541.50" y1="248.4" x2="541.50" y2="250.9" stroke="#000" stroke-width="1"/>
<text x="541.50" y="262.7" text-anchor="middle" class="tk">10</text>
<line x1="606.60" y1="248.4" x2="606.60" y2="250.9" stroke="#000" stroke-width="1"/>
<text x="606.60" y="262.7" text-anchor="middle" class="tk">20</text>
<line x1="671.70" y1="248.4" x2="671.70" y2="250.9" stroke="#000" stroke-width="1"/>
<text x="671.70" y="262.7" text-anchor="middle" class="tk">30</text>
<line x1="736.80" y1="248.4" x2="736.80" y2="250.9" stroke="#000" stroke-width="1"/>
<text x="736.80" y="262.7" text-anchor="middle" class="tk">40</text>
<line x1="801.90" y1="248.4" x2="801.90" y2="250.9" stroke="#000" stroke-width="1"/>
<text x="801.90" y="262.7" text-anchor="middle" class="tk">50</text>
<line x1="458.79999999999995" y1="227.90" x2="460.4" y2="227.90" stroke="#000" stroke-width="0.8"/>
<line x1="458.79999999999995" y1="129.29" x2="460.4" y2="129.29" stroke="#000" stroke-width="0.8"/>
<line x1="458.79999999999995" y1="59.32" x2="460.4" y2="59.32" stroke="#000" stroke-width="0.8"/>
<line x1="458.79999999999995" y1="5.05" x2="460.4" y2="5.05" stroke="#000" stroke-width="0.8"/>
<text x="409" y="64.72" class="tk" textLength="34.6" lengthAdjust="spacingAndGlyphs">4 <tspan font-size="17">×</tspan> 10</text><text x="444.6" y="60.02" class="sup">−2</text>
<text x="409" y="134.69" class="tk" textLength="34.6" lengthAdjust="spacingAndGlyphs">3 <tspan font-size="17">×</tspan> 10</text><text x="444.6" y="129.99" class="sup">−2</text>
<text x="409" y="233.30" class="tk" textLength="34.6" lengthAdjust="spacingAndGlyphs">2 <tspan font-size="17">×</tspan> 10</text><text x="444.6" y="228.60" class="sup">−2</text>
<path d="M476.00 75.50L482.50 44.40L489.00 91.60L495.50 121.00L502.00 131.20L508.50 139.40L515.00 145.10L521.50 151.00L528.00 156.50L534.50 162.00L541.00 167.50L547.50 172.50L554.00 177.50L560.50 182.00L567.00 186.00L573.50 189.50L580.00 192.50L586.50 195.50L593.00 198.50L599.50 201.00L606.00 203.50L612.50 205.50L619.00 207.50L625.50 209.20L632.00 210.80L638.50 212.40L645.00 213.70L651.50 215.60L658.00 216.50L664.50 218.10L671.00 218.70L677.50 220.30L684.00 221.30L690.50 222.80L697.00 223.90L703.50 224.70L710.00 226.00L716.50 226.80L723.00 228.20L729.50 229.40L736.00 230.00L742.50 231.00L749.00 232.10L755.50 232.90L762.00 233.70L768.50 234.50L775.00 235.20L781.50 236.00L788.00 236.80L794.50 237.60" fill="none" stroke="#ef6f89" stroke-width="1.5" stroke-linejoin="round"/>
<path d="M476.00 71.69L479.02 75.50L476.00 79.31L472.98 75.50Z" fill="#ef6f89"/>
<path d="M482.50 40.59L485.52 44.40L482.50 48.21L479.48 44.40Z" fill="#ef6f89"/>
<path d="M489.00 87.79L492.02 91.60L489.00 95.41L485.98 91.60Z" fill="#ef6f89"/>
<path d="M495.50 117.19L498.52 121.00L495.50 124.81L492.48 121.00Z" fill="#ef6f89"/>
<path d="M502.00 127.39L505.02 131.20L502.00 135.01L498.98 131.20Z" fill="#ef6f89"/>
<path d="M508.50 135.59L511.52 139.40L508.50 143.21L505.48 139.40Z" fill="#ef6f89"/>
<path d="M515.00 141.29L518.02 145.10L515.00 148.91L511.98 145.10Z" fill="#ef6f89"/>
<path d="M521.50 147.19L524.52 151.00L521.50 154.81L518.48 151.00Z" fill="#ef6f89"/>
<path d="M528.00 152.69L531.02 156.50L528.00 160.31L524.98 156.50Z" fill="#ef6f89"/>
<path d="M534.50 158.19L537.52 162.00L534.50 165.81L531.48 162.00Z" fill="#ef6f89"/>
<path d="M541.00 163.69L544.02 167.50L541.00 171.31L537.98 167.50Z" fill="#ef6f89"/>
<path d="M547.50 168.69L550.52 172.50L547.50 176.31L544.48 172.50Z" fill="#ef6f89"/>
<path d="M554.00 173.69L557.02 177.50L554.00 181.31L550.98 177.50Z" fill="#ef6f89"/>
<path d="M560.50 178.19L563.52 182.00L560.50 185.81L557.48 182.00Z" fill="#ef6f89"/>
<path d="M567.00 182.19L570.02 186.00L567.00 189.81L563.98 186.00Z" fill="#ef6f89"/>
<path d="M573.50 185.69L576.52 189.50L573.50 193.31L570.48 189.50Z" fill="#ef6f89"/>
<path d="M580.00 188.69L583.02 192.50L580.00 196.31L576.98 192.50Z" fill="#ef6f89"/>
<path d="M586.50 191.69L589.52 195.50L586.50 199.31L583.48 195.50Z" fill="#ef6f89"/>
<path d="M593.00 194.69L596.02 198.50L593.00 202.31L589.98 198.50Z" fill="#ef6f89"/>
<path d="M599.50 197.19L602.52 201.00L599.50 204.81L596.48 201.00Z" fill="#ef6f89"/>
<path d="M606.00 199.69L609.02 203.50L606.00 207.31L602.98 203.50Z" fill="#ef6f89"/>
<path d="M612.50 201.69L615.52 205.50L612.50 209.31L609.48 205.50Z" fill="#ef6f89"/>
<path d="M619.00 203.69L622.02 207.50L619.00 211.31L615.98 207.50Z" fill="#ef6f89"/>
<path d="M625.50 205.39L628.52 209.20L625.50 213.01L622.48 209.20Z" fill="#ef6f89"/>
<path d="M632.00 206.99L635.02 210.80L632.00 214.61L628.98 210.80Z" fill="#ef6f89"/>
<path d="M638.50 208.59L641.52 212.40L638.50 216.21L635.48 212.40Z" fill="#ef6f89"/>
<path d="M645.00 209.89L648.02 213.70L645.00 217.51L641.98 213.70Z" fill="#ef6f89"/>
<path d="M651.50 211.79L654.52 215.60L651.50 219.41L648.48 215.60Z" fill="#ef6f89"/>
<path d="M658.00 212.69L661.02 216.50L658.00 220.31L654.98 216.50Z" fill="#ef6f89"/>
<path d="M664.50 214.29L667.52 218.10L664.50 221.91L661.48 218.10Z" fill="#ef6f89"/>
<path d="M671.00 214.89L674.02 218.70L671.00 222.51L667.98 218.70Z" fill="#ef6f89"/>
<path d="M677.50 216.49L680.52 220.30L677.50 224.11L674.48 220.30Z" fill="#ef6f89"/>
<path d="M684.00 217.49L687.02 221.30L684.00 225.11L680.98 221.30Z" fill="#ef6f89"/>
<path d="M690.50 218.99L693.52 222.80L690.50 226.61L687.48 222.80Z" fill="#ef6f89"/>
<path d="M697.00 220.09L700.02 223.90L697.00 227.71L693.98 223.90Z" fill="#ef6f89"/>
<path d="M703.50 220.89L706.52 224.70L703.50 228.51L700.48 224.70Z" fill="#ef6f89"/>
<path d="M710.00 222.19L713.02 226.00L710.00 229.81L706.98 226.00Z" fill="#ef6f89"/>
<path d="M716.50 222.99L719.52 226.80L716.50 230.61L713.48 226.80Z" fill="#ef6f89"/>
<path d="M723.00 224.39L726.02 228.20L723.00 232.01L719.98 228.20Z" fill="#ef6f89"/>
<path d="M729.50 225.59L732.52 229.40L729.50 233.21L726.48 229.40Z" fill="#ef6f89"/>
<path d="M736.00 226.19L739.02 230.00L736.00 233.81L732.98 230.00Z" fill="#ef6f89"/>
<path d="M742.50 227.19L745.52 231.00L742.50 234.81L739.48 231.00Z" fill="#ef6f89"/>
<path d="M749.00 228.29L752.02 232.10L749.00 235.91L745.98 232.10Z" fill="#ef6f89"/>
<path d="M755.50 229.09L758.52 232.90L755.50 236.71L752.48 232.90Z" fill="#ef6f89"/>
<path d="M762.00 229.89L765.02 233.70L762.00 237.51L758.98 233.70Z" fill="#ef6f89"/>
<path d="M768.50 230.69L771.52 234.50L768.50 238.31L765.48 234.50Z" fill="#ef6f89"/>
<path d="M775.00 231.39L778.02 235.20L775.00 239.01L771.98 235.20Z" fill="#ef6f89"/>
<path d="M781.50 232.19L784.52 236.00L781.50 239.81L778.48 236.00Z" fill="#ef6f89"/>
<path d="M788.00 232.99L791.02 236.80L788.00 240.61L784.98 236.80Z" fill="#ef6f89"/>
<path d="M794.50 233.79L797.52 237.60L794.50 241.41L791.48 237.60Z" fill="#ef6f89"/>
<path d="M476.00 63.40L482.50 74.40L489.00 83.90L495.50 91.10L502.00 96.30L508.50 101.00L515.00 104.70L521.50 108.40L528.00 110.70L534.50 112.60L541.00 114.80L547.50 116.50L554.00 118.10L560.50 118.90L567.00 120.20L573.50 120.80L580.00 121.60L586.50 122.00L593.00 122.50L599.50 123.10L606.00 123.60L612.50 123.72L619.00 123.84L625.50 123.95L632.00 124.07L638.50 124.19L645.00 124.31L651.50 124.43L658.00 124.55L664.50 124.66L671.00 124.78L677.50 124.90L684.00 124.99L690.50 125.08L697.00 125.17L703.50 125.26L710.00 125.34L716.50 125.43L723.00 125.52L729.50 125.61L736.00 125.70L742.50 125.79L749.00 125.88L755.50 125.97L762.00 126.06L768.50 126.14L775.00 126.23L781.50 126.32L788.00 126.41L794.50 126.50" fill="none" stroke="#ae9d31" stroke-width="1.5" stroke-linejoin="round"/>
<path d="M473.14 62.28L474.88 60.54L476.00 61.66L477.12 60.54L478.86 62.28L477.74 63.40L478.86 64.52L477.12 66.26L476.00 65.14L474.88 66.26L473.14 64.52L474.26 63.40Z" fill="#ae9d31"/>
<path d="M479.64 73.28L481.38 71.54L482.50 72.66L483.62 71.54L485.36 73.28L484.24 74.40L485.36 75.52L483.62 77.26L482.50 76.14L481.38 77.26L479.64 75.52L480.76 74.40Z" fill="#ae9d31"/>
<path d="M486.14 82.78L487.88 81.04L489.00 82.16L490.12 81.04L491.86 82.78L490.74 83.90L491.86 85.02L490.12 86.76L489.00 85.64L487.88 86.76L486.14 85.02L487.26 83.90Z" fill="#ae9d31"/>
<path d="M492.64 89.98L494.38 88.24L495.50 89.36L496.62 88.24L498.36 89.98L497.24 91.10L498.36 92.22L496.62 93.96L495.50 92.84L494.38 93.96L492.64 92.22L493.76 91.10Z" fill="#ae9d31"/>
<path d="M499.14 95.18L500.88 93.44L502.00 94.56L503.12 93.44L504.86 95.18L503.74 96.30L504.86 97.42L503.12 99.16L502.00 98.04L500.88 99.16L499.14 97.42L500.26 96.30Z" fill="#ae9d31"/>
<path d="M505.64 99.88L507.38 98.14L508.50 99.26L509.62 98.14L511.36 99.88L510.24 101.00L511.36 102.12L509.62 103.86L508.50 102.74L507.38 103.86L505.64 102.12L506.76 101.00Z" fill="#ae9d31"/>
<path d="M512.14 103.58L513.88 101.84L515.00 102.96L516.12 101.84L517.86 103.58L516.74 104.70L517.86 105.82L516.12 107.56L515.00 106.44L513.88 107.56L512.14 105.82L513.26 104.70Z" fill="#ae9d31"/>
<path d="M518.64 107.28L520.38 105.54L521.50 106.66L522.62 105.54L524.36 107.28L523.24 108.40L524.36 109.52L522.62 111.26L521.50 110.14L520.38 111.26L518.64 109.52L519.76 108.40Z" fill="#ae9d31"/>
<path d="M525.14 109.58L526.88 107.84L528.00 108.96L529.12 107.84L530.86 109.58L529.74 110.70L530.86 111.82L529.12 113.56L528.00 112.44L526.88 113.56L525.14 111.82L526.26 110.70Z" fill="#ae9d31"/>
<path d="M531.64 111.48L533.38 109.74L534.50 110.86L535.62 109.74L537.36 111.48L536.24 112.60L537.36 113.72L535.62 115.46L534.50 114.34L533.38 115.46L531.64 113.72L532.76 112.60Z" fill="#ae9d31"/>
<path d="M538.14 113.68L539.88 111.94L541.00 113.06L542.12 111.94L543.86 113.68L542.74 114.80L543.86 115.92L542.12 117.66L541.00 116.54L539.88 117.66L538.14 115.92L539.26 114.80Z" fill="#ae9d31"/>
<path d="M544.64 115.38L546.38 113.64L547.50 114.76L548.62 113.64L550.36 115.38L549.24 116.50L550.36 117.62L548.62 119.36L547.50 118.24L546.38 119.36L544.64 117.62L545.76 116.50Z" fill="#ae9d31"/>
<path d="M551.14 116.98L552.88 115.24L554.00 116.36L555.12 115.24L556.86 116.98L555.74 118.10L556.86 119.22L555.12 120.96L554.00 119.84L552.88 120.96L551.14 119.22L552.26 118.10Z" fill="#ae9d31"/>
<path d="M557.64 117.78L559.38 116.04L560.50 117.16L561.62 116.04L563.36 117.78L562.24 118.90L563.36 120.02L561.62 121.76L560.50 120.64L559.38 121.76L557.64 120.02L558.76 118.90Z" fill="#ae9d31"/>
<path d="M564.14 119.08L565.88 117.34L567.00 118.46L568.12 117.34L569.86 119.08L568.74 120.20L569.86 121.32L568.12 123.06L567.00 121.94L565.88 123.06L564.14 121.32L565.26 120.20Z" fill="#ae9d31"/>
<path d="M570.64 119.68L572.38 117.94L573.50 119.06L574.62 117.94L576.36 119.68L575.24 120.80L576.36 121.92L574.62 123.66L573.50 122.54L572.38 123.66L570.64 121.92L571.76 120.80Z" fill="#ae9d31"/>
<path d="M577.14 120.48L578.88 118.74L580.00 119.86L581.12 118.74L582.86 120.48L581.74 121.60L582.86 122.72L581.12 124.46L580.00 123.34L578.88 124.46L577.14 122.72L578.26 121.60Z" fill="#ae9d31"/>
<path d="M583.64 120.88L585.38 119.14L586.50 120.26L587.62 119.14L589.36 120.88L588.24 122.00L589.36 123.12L587.62 124.86L586.50 123.74L585.38 124.86L583.64 123.12L584.76 122.00Z" fill="#ae9d31"/>
<path d="M590.14 121.38L591.88 119.64L593.00 120.76L594.12 119.64L595.86 121.38L594.74 122.50L595.86 123.62L594.12 125.36L593.00 124.24L591.88 125.36L590.14 123.62L591.26 122.50Z" fill="#ae9d31"/>
<path d="M596.64 121.98L598.38 120.24L599.50 121.36L600.62 120.24L602.36 121.98L601.24 123.10L602.36 124.22L600.62 125.96L599.50 124.84L598.38 125.96L596.64 124.22L597.76 123.10Z" fill="#ae9d31"/>
<path d="M603.14 122.48L604.88 120.74L606.00 121.86L607.12 120.74L608.86 122.48L607.74 123.60L608.86 124.72L607.12 126.46L606.00 125.34L604.88 126.46L603.14 124.72L604.26 123.60Z" fill="#ae9d31"/>
<path d="M609.64 122.60L611.38 120.86L612.50 121.98L613.62 120.86L615.36 122.60L614.24 123.72L615.36 124.84L613.62 126.57L612.50 125.45L611.38 126.57L609.64 124.84L610.76 123.72Z" fill="#ae9d31"/>
<path d="M616.14 122.72L617.88 120.98L619.00 122.10L620.12 120.98L621.86 122.72L620.74 123.84L621.86 124.96L620.12 126.69L619.00 125.57L617.88 126.69L616.14 124.96L617.26 123.84Z" fill="#ae9d31"/>
<path d="M622.64 122.83L624.38 121.10L625.50 122.22L626.62 121.10L628.36 122.83L627.24 123.95L628.36 125.07L626.62 126.81L625.50 125.69L624.38 126.81L622.64 125.07L623.76 123.95Z" fill="#ae9d31"/>
<path d="M629.14 122.95L630.88 121.22L632.00 122.34L633.12 121.22L634.86 122.95L633.74 124.07L634.86 125.19L633.12 126.93L632.00 125.81L630.88 126.93L629.14 125.19L630.26 124.07Z" fill="#ae9d31"/>
<path d="M635.64 123.07L637.38 121.33L638.50 122.45L639.62 121.33L641.36 123.07L640.24 124.19L641.36 125.31L639.62 127.05L638.50 125.93L637.38 127.05L635.64 125.31L636.76 124.19Z" fill="#ae9d31"/>
<path d="M642.14 123.19L643.88 121.45L645.00 122.57L646.12 121.45L647.86 123.19L646.74 124.31L647.86 125.43L646.12 127.17L645.00 126.05L643.88 127.17L642.14 125.43L643.26 124.31Z" fill="#ae9d31"/>
<path d="M648.64 123.31L650.38 121.57L651.50 122.69L652.62 121.57L654.36 123.31L653.24 124.43L654.36 125.55L652.62 127.28L651.50 126.16L650.38 127.28L648.64 125.55L649.76 124.43Z" fill="#ae9d31"/>
<path d="M655.14 123.43L656.88 121.69L658.00 122.81L659.12 121.69L660.86 123.43L659.74 124.55L660.86 125.67L659.12 127.40L658.00 126.28L656.88 127.40L655.14 125.67L656.26 124.55Z" fill="#ae9d31"/>
<path d="M661.64 123.54L663.38 121.81L664.50 122.93L665.62 121.81L667.36 123.54L666.24 124.66L667.36 125.78L665.62 127.52L664.50 126.40L663.38 127.52L661.64 125.78L662.76 124.66Z" fill="#ae9d31"/>
<path d="M668.14 123.66L669.88 121.93L671.00 123.05L672.12 121.93L673.86 123.66L672.74 124.78L673.86 125.90L672.12 127.64L671.00 126.52L669.88 127.64L668.14 125.90L669.26 124.78Z" fill="#ae9d31"/>
<path d="M674.64 123.78L676.38 122.04L677.50 123.16L678.62 122.04L680.36 123.78L679.24 124.90L680.36 126.02L678.62 127.76L677.50 126.64L676.38 127.76L674.64 126.02L675.76 124.90Z" fill="#ae9d31"/>
<path d="M681.14 123.87L682.88 122.13L684.00 123.25L685.12 122.13L686.86 123.87L685.74 124.99L686.86 126.11L685.12 127.84L684.00 126.72L682.88 127.84L681.14 126.11L682.26 124.99Z" fill="#ae9d31"/>
<path d="M687.64 123.96L689.38 122.22L690.50 123.34L691.62 122.22L693.36 123.96L692.24 125.08L693.36 126.20L691.62 127.93L690.50 126.81L689.38 127.93L687.64 126.20L688.76 125.08Z" fill="#ae9d31"/>
<path d="M694.14 124.05L695.88 122.31L697.00 123.43L698.12 122.31L699.86 124.05L698.74 125.17L699.86 126.29L698.12 128.02L697.00 126.90L695.88 128.02L694.14 126.29L695.26 125.17Z" fill="#ae9d31"/>
<path d="M700.64 124.14L702.38 122.40L703.50 123.52L704.62 122.40L706.36 124.14L705.24 125.26L706.36 126.38L704.62 128.11L703.50 126.99L702.38 128.11L700.64 126.38L701.76 125.26Z" fill="#ae9d31"/>
<path d="M707.14 124.22L708.88 122.49L710.00 123.61L711.12 122.49L712.86 124.22L711.74 125.34L712.86 126.46L711.12 128.20L710.00 127.08L708.88 128.20L707.14 126.46L708.26 125.34Z" fill="#ae9d31"/>
<path d="M713.64 124.31L715.38 122.58L716.50 123.70L717.62 122.58L719.36 124.31L718.24 125.43L719.36 126.55L717.62 128.29L716.50 127.17L715.38 128.29L713.64 126.55L714.76 125.43Z" fill="#ae9d31"/>
<path d="M720.14 124.40L721.88 122.67L723.00 123.79L724.12 122.67L725.86 124.40L724.74 125.52L725.86 126.64L724.12 128.38L723.00 127.26L721.88 128.38L720.14 126.64L721.26 125.52Z" fill="#ae9d31"/>
<path d="M726.64 124.49L728.38 122.76L729.50 123.88L730.62 122.76L732.36 124.49L731.24 125.61L732.36 126.73L730.62 128.47L729.50 127.35L728.38 128.47L726.64 126.73L727.76 125.61Z" fill="#ae9d31"/>
<path d="M733.14 124.58L734.88 122.84L736.00 123.96L737.12 122.84L738.86 124.58L737.74 125.70L738.86 126.82L737.12 128.56L736.00 127.44L734.88 128.56L733.14 126.82L734.26 125.70Z" fill="#ae9d31"/>
<path d="M739.64 124.67L741.38 122.93L742.50 124.05L743.62 122.93L745.36 124.67L744.24 125.79L745.36 126.91L743.62 128.64L742.50 127.52L741.38 128.64L739.64 126.91L740.76 125.79Z" fill="#ae9d31"/>
<path d="M746.14 124.76L747.88 123.02L749.00 124.14L750.12 123.02L751.86 124.76L750.74 125.88L751.86 127.00L750.12 128.73L749.00 127.61L747.88 128.73L746.14 127.00L747.26 125.88Z" fill="#ae9d31"/>
<path d="M752.64 124.85L754.38 123.11L755.50 124.23L756.62 123.11L758.36 124.85L757.24 125.97L758.36 127.09L756.62 128.82L755.50 127.70L754.38 128.82L752.64 127.09L753.76 125.97Z" fill="#ae9d31"/>
<path d="M759.14 124.94L760.88 123.20L762.00 124.32L763.12 123.20L764.86 124.94L763.74 126.06L764.86 127.18L763.12 128.91L762.00 127.79L760.88 128.91L759.14 127.18L760.26 126.06Z" fill="#ae9d31"/>
<path d="M765.64 125.02L767.38 123.29L768.50 124.41L769.62 123.29L771.36 125.02L770.24 126.14L771.36 127.26L769.62 129.00L768.50 127.88L767.38 129.00L765.64 127.26L766.76 126.14Z" fill="#ae9d31"/>
<path d="M772.14 125.11L773.88 123.38L775.00 124.50L776.12 123.38L777.86 125.11L776.74 126.23L777.86 127.35L776.12 129.09L775.00 127.97L773.88 129.09L772.14 127.35L773.26 126.23Z" fill="#ae9d31"/>
<path d="M778.64 125.20L780.38 123.47L781.50 124.59L782.62 123.47L784.36 125.20L783.24 126.32L784.36 127.44L782.62 129.18L781.50 128.06L780.38 129.18L778.64 127.44L779.76 126.32Z" fill="#ae9d31"/>
<path d="M785.14 125.29L786.88 123.56L788.00 124.68L789.12 123.56L790.86 125.29L789.74 126.41L790.86 127.53L789.12 129.27L788.00 128.15L786.88 129.27L785.14 127.53L786.26 126.41Z" fill="#ae9d31"/>
<path d="M791.64 125.38L793.38 123.64L794.50 124.76L795.62 123.64L797.36 125.38L796.24 126.50L797.36 127.62L795.62 129.36L794.50 128.24L793.38 129.36L791.64 127.62L792.76 126.50Z" fill="#ae9d31"/>
<path d="M476.00 45.50L482.50 35.50L489.00 35.50L495.50 42.80L502.00 47.80L508.50 48.60L515.00 51.00L521.50 55.60L528.00 50.20L534.50 46.50L541.00 48.60L547.50 48.80L554.00 54.50L560.50 54.50L567.00 58.00L573.50 54.00L580.00 49.70L586.50 48.80L593.00 48.50L599.50 52.60L606.00 48.50L612.50 48.80L619.00 48.50L625.50 48.50L632.00 48.50L638.50 48.50L645.00 48.80L651.50 54.40L658.00 58.00L664.50 57.60L671.00 53.60L677.50 52.00L684.00 54.10L690.50 58.20L697.00 53.90L703.50 49.00L710.00 53.30L716.50 49.00L723.00 49.00L729.50 54.40L736.00 53.60L742.50 54.90L749.00 58.50L755.50 56.70L762.00 57.90L768.50 55.00L775.00 58.90L781.50 54.10L788.00 54.10L794.50 54.10" fill="none" stroke="#33b07a" stroke-width="1.5" stroke-linejoin="round"/>
<circle cx="476.00" cy="45.50" r="2.66" fill="#33b07a"/>
<circle cx="482.50" cy="35.50" r="2.66" fill="#33b07a"/>
<circle cx="489.00" cy="35.50" r="2.66" fill="#33b07a"/>
<circle cx="495.50" cy="42.80" r="2.66" fill="#33b07a"/>
<circle cx="502.00" cy="47.80" r="2.66" fill="#33b07a"/>
<circle cx="508.50" cy="48.60" r="2.66" fill="#33b07a"/>
<circle cx="515.00" cy="51.00" r="2.66" fill="#33b07a"/>
<circle cx="521.50" cy="55.60" r="2.66" fill="#33b07a"/>
<circle cx="528.00" cy="50.20" r="2.66" fill="#33b07a"/>
<circle cx="534.50" cy="46.50" r="2.66" fill="#33b07a"/>
<circle cx="541.00" cy="48.60" r="2.66" fill="#33b07a"/>
<circle cx="547.50" cy="48.80" r="2.66" fill="#33b07a"/>
<circle cx="554.00" cy="54.50" r="2.66" fill="#33b07a"/>
<circle cx="560.50" cy="54.50" r="2.66" fill="#33b07a"/>
<circle cx="567.00" cy="58.00" r="2.66" fill="#33b07a"/>
<circle cx="573.50" cy="54.00" r="2.66" fill="#33b07a"/>
<circle cx="580.00" cy="49.70" r="2.66" fill="#33b07a"/>
<circle cx="586.50" cy="48.80" r="2.66" fill="#33b07a"/>
<circle cx="593.00" cy="48.50" r="2.66" fill="#33b07a"/>
<circle cx="599.50" cy="52.60" r="2.66" fill="#33b07a"/>
<circle cx="606.00" cy="48.50" r="2.66" fill="#33b07a"/>
<circle cx="612.50" cy="48.80" r="2.66" fill="#33b07a"/>
<circle cx="619.00" cy="48.50" r="2.66" fill="#33b07a"/>
<circle cx="625.50" cy="48.50" r="2.66" fill="#33b07a"/>
<circle cx="632.00" cy="48.50" r="2.66" fill="#33b07a"/>
<circle cx="638.50" cy="48.50" r="2.66" fill="#33b07a"/>
<circle cx="645.00" cy="48.80" r="2.66" fill="#33b07a"/>
<circle cx="651.50" cy="54.40" r="2.66" fill="#33b07a"/>
<circle cx="658.00" cy="58.00" r="2.66" fill="#33b07a"/>
<circle cx="664.50" cy="57.60" r="2.66" fill="#33b07a"/>
<circle cx="671.00" cy="53.60" r="2.66" fill="#33b07a"/>
<circle cx="677.50" cy="52.00" r="2.66" fill="#33b07a"/>
<circle cx="684.00" cy="54.10" r="2.66" fill="#33b07a"/>
<circle cx="690.50" cy="58.20" r="2.66" fill="#33b07a"/>
<circle cx="697.00" cy="53.90" r="2.66" fill="#33b07a"/>
<circle cx="703.50" cy="49.00" r="2.66" fill="#33b07a"/>
<circle cx="710.00" cy="53.30" r="2.66" fill="#33b07a"/>
<circle cx="716.50" cy="49.00" r="2.66" fill="#33b07a"/>
<circle cx="723.00" cy="49.00" r="2.66" fill="#33b07a"/>
<circle cx="729.50" cy="54.40" r="2.66" fill="#33b07a"/>
<circle cx="736.00" cy="53.60" r="2.66" fill="#33b07a"/>
<circle cx="742.50" cy="54.90" r="2.66" fill="#33b07a"/>
<circle cx="749.00" cy="58.50" r="2.66" fill="#33b07a"/>
<circle cx="755.50" cy="56.70" r="2.66" fill="#33b07a"/>
<circle cx="762.00" cy="57.90" r="2.66" fill="#33b07a"/>
<circle cx="768.50" cy="55.00" r="2.66" fill="#33b07a"/>
<circle cx="775.00" cy="58.90" r="2.66" fill="#33b07a"/>
<circle cx="781.50" cy="54.10" r="2.66" fill="#33b07a"/>
<circle cx="788.00" cy="54.10" r="2.66" fill="#33b07a"/>
<circle cx="794.50" cy="54.10" r="2.66" fill="#33b07a"/>
<path d="M476.00 14.40L482.50 22.60L489.00 26.50L495.50 29.20L502.00 32.00L508.50 34.10L515.00 34.90L521.50 34.90L528.00 36.00L534.50 36.00L541.00 38.00L547.50 39.10L554.00 39.10L560.50 39.90L567.00 38.70L573.50 41.20L580.00 41.20L586.50 41.80L593.00 42.30L599.50 43.10L606.00 43.90L612.50 44.00L619.00 44.50L625.50 44.50L632.00 43.80L638.50 44.50L645.00 44.90L651.50 44.90L658.00 44.90L664.50 44.50L671.00 46.50L677.50 45.40L684.00 45.40L690.50 45.40L697.00 44.90L703.50 46.00L710.00 46.00L716.50 46.00L723.00 46.00L729.50 46.00L736.00 44.90L742.50 46.10L749.00 46.30L755.50 46.30L762.00 46.50L768.50 46.50L775.00 46.60L781.50 46.70L788.00 46.80L794.50 47.30" fill="none" stroke="#38a9c5" stroke-width="1.5" stroke-linejoin="round"/>
<rect x="473.20" y="11.60" width="5.60" height="5.60" fill="#38a9c5"/>
<rect x="479.70" y="19.80" width="5.60" height="5.60" fill="#38a9c5"/>
<rect x="486.20" y="23.70" width="5.60" height="5.60" fill="#38a9c5"/>
<rect x="492.70" y="26.40" width="5.60" height="5.60" fill="#38a9c5"/>
<rect x="499.20" y="29.20" width="5.60" height="5.60" fill="#38a9c5"/>
<rect x="505.70" y="31.30" width="5.60" height="5.60" fill="#38a9c5"/>
<rect x="512.20" y="32.10" width="5.60" height="5.60" fill="#38a9c5"/>
<rect x="518.70" y="32.10" width="5.60" height="5.60" fill="#38a9c5"/>
<rect x="525.20" y="33.20" width="5.60" height="5.60" fill="#38a9c5"/>
<rect x="531.70" y="33.20" width="5.60" height="5.60" fill="#38a9c5"/>
<rect x="538.20" y="35.20" width="5.60" height="5.60" fill="#38a9c5"/>
<rect x="544.70" y="36.30" width="5.60" height="5.60" fill="#38a9c5"/>
<rect x="551.20" y="36.30" width="5.60" height="5.60" fill="#38a9c5"/>
<rect x="557.70" y="37.10" width="5.60" height="5.60" fill="#38a9c5"/>
<rect x="564.20" y="35.90" width="5.60" height="5.60" fill="#38a9c5"/>
<rect x="570.70" y="38.40" width="5.60" height="5.60" fill="#38a9c5"/>
<rect x="577.20" y="38.40" width="5.60" height="5.60" fill="#38a9c5"/>
<rect x="583.70" y="39.00" width="5.60" height="5.60" fill="#38a9c5"/>
<rect x="590.20" y="39.50" width="5.60" height="5.60" fill="#38a9c5"/>
<rect x="596.70" y="40.30" width="5.60" height="5.60" fill="#38a9c5"/>
<rect x="603.20" y="41.10" width="5.60" height="5.60" fill="#38a9c5"/>
<rect x="609.70" y="41.20" width="5.60" height="5.60" fill="#38a9c5"/>
<rect x="616.20" y="41.70" width="5.60" height="5.60" fill="#38a9c5"/>
<rect x="622.70" y="41.70" width="5.60" height="5.60" fill="#38a9c5"/>
<rect x="629.20" y="41.00" width="5.60" height="5.60" fill="#38a9c5"/>
<rect x="635.70" y="41.70" width="5.60" height="5.60" fill="#38a9c5"/>
<rect x="642.20" y="42.10" width="5.60" height="5.60" fill="#38a9c5"/>
<rect x="648.70" y="42.10" width="5.60" height="5.60" fill="#38a9c5"/>
<rect x="655.20" y="42.10" width="5.60" height="5.60" fill="#38a9c5"/>
<rect x="661.70" y="41.70" width="5.60" height="5.60" fill="#38a9c5"/>
<rect x="668.20" y="43.70" width="5.60" height="5.60" fill="#38a9c5"/>
<rect x="674.70" y="42.60" width="5.60" height="5.60" fill="#38a9c5"/>
<rect x="681.20" y="42.60" width="5.60" height="5.60" fill="#38a9c5"/>
<rect x="687.70" y="42.60" width="5.60" height="5.60" fill="#38a9c5"/>
<rect x="694.20" y="42.10" width="5.60" height="5.60" fill="#38a9c5"/>
<rect x="700.70" y="43.20" width="5.60" height="5.60" fill="#38a9c5"/>
<rect x="707.20" y="43.20" width="5.60" height="5.60" fill="#38a9c5"/>
<rect x="713.70" y="43.20" width="5.60" height="5.60" fill="#38a9c5"/>
<rect x="720.20" y="43.20" width="5.60" height="5.60" fill="#38a9c5"/>
<rect x="726.70" y="43.20" width="5.60" height="5.60" fill="#38a9c5"/>
<rect x="733.20" y="42.10" width="5.60" height="5.60" fill="#38a9c5"/>
<rect x="739.70" y="43.30" width="5.60" height="5.60" fill="#38a9c5"/>
<rect x="746.20" y="43.50" width="5.60" height="5.60" fill="#38a9c5"/>
<rect x="752.70" y="43.50" width="5.60" height="5.60" fill="#38a9c5"/>
<rect x="759.20" y="43.70" width="5.60" height="5.60" fill="#38a9c5"/>
<rect x="765.70" y="43.70" width="5.60" height="5.60" fill="#38a9c5"/>
<rect x="772.20" y="43.80" width="5.60" height="5.60" fill="#38a9c5"/>
<rect x="778.70" y="43.90" width="5.60" height="5.60" fill="#38a9c5"/>
<rect x="785.20" y="44.00" width="5.60" height="5.60" fill="#38a9c5"/>
<rect x="791.70" y="44.50" width="5.60" height="5.60" fill="#38a9c5"/>
<path d="M476.00 47.80L482.50 47.81L489.00 47.83L495.50 47.84L502.00 47.86L508.50 47.87L515.00 47.89L521.50 47.90L528.00 47.91L534.50 47.93L541.00 47.94L547.50 47.96L554.00 47.97L560.50 47.99L567.00 48.00L573.50 48.01L580.00 48.03L586.50 48.04L593.00 48.06L599.50 48.07L606.00 48.09L612.50 48.10L619.00 48.11L625.50 48.13L632.00 48.14L638.50 48.16L645.00 48.17L651.50 48.19L658.00 48.20L664.50 48.21L671.00 48.23L677.50 48.24L684.00 48.26L690.50 48.27L697.00 48.29L703.50 48.30L710.00 48.31L716.50 48.33L723.00 48.34L729.50 48.36L736.00 48.37L742.50 48.39L749.00 48.40L755.50 48.41L762.00 48.43L768.50 48.44L775.00 48.46L781.50 48.47L788.00 48.49L794.50 48.50" fill="none" stroke="#cc7af4" stroke-width="1.5" stroke-linejoin="round"/>
<circle cx="476.00" cy="47.80" r="2.66" fill="#cc7af4"/>
<circle cx="482.50" cy="47.81" r="2.66" fill="#cc7af4"/>
<circle cx="489.00" cy="47.83" r="2.66" fill="#cc7af4"/>
<circle cx="495.50" cy="47.84" r="2.66" fill="#cc7af4"/>
<circle cx="502.00" cy="47.86" r="2.66" fill="#cc7af4"/>
<circle cx="508.50" cy="47.87" r="2.66" fill="#cc7af4"/>
<circle cx="515.00" cy="47.89" r="2.66" fill="#cc7af4"/>
<circle cx="521.50" cy="47.90" r="2.66" fill="#cc7af4"/>
<circle cx="528.00" cy="47.91" r="2.66" fill="#cc7af4"/>
<circle cx="534.50" cy="47.93" r="2.66" fill="#cc7af4"/>
<circle cx="541.00" cy="47.94" r="2.66" fill="#cc7af4"/>
<circle cx="547.50" cy="47.96" r="2.66" fill="#cc7af4"/>
<circle cx="554.00" cy="47.97" r="2.66" fill="#cc7af4"/>
<circle cx="560.50" cy="47.99" r="2.66" fill="#cc7af4"/>
<circle cx="567.00" cy="48.00" r="2.66" fill="#cc7af4"/>
<circle cx="573.50" cy="48.01" r="2.66" fill="#cc7af4"/>
<circle cx="580.00" cy="48.03" r="2.66" fill="#cc7af4"/>
<circle cx="586.50" cy="48.04" r="2.66" fill="#cc7af4"/>
<circle cx="593.00" cy="48.06" r="2.66" fill="#cc7af4"/>
<circle cx="599.50" cy="48.07" r="2.66" fill="#cc7af4"/>
<circle cx="606.00" cy="48.09" r="2.66" fill="#cc7af4"/>
<circle cx="612.50" cy="48.10" r="2.66" fill="#cc7af4"/>
<circle cx="619.00" cy="48.11" r="2.66" fill="#cc7af4"/>
<circle cx="625.50" cy="48.13" r="2.66" fill="#cc7af4"/>
<circle cx="632.00" cy="48.14" r="2.66" fill="#cc7af4"/>
<circle cx="638.50" cy="48.16" r="2.66" fill="#cc7af4"/>
<circle cx="645.00" cy="48.17" r="2.66" fill="#cc7af4"/>
<circle cx="651.50" cy="48.19" r="2.66" fill="#cc7af4"/>
<circle cx="658.00" cy="48.20" r="2.66" fill="#cc7af4"/>
<circle cx="664.50" cy="48.21" r="2.66" fill="#cc7af4"/>
<circle cx="671.00" cy="48.23" r="2.66" fill="#cc7af4"/>
<circle cx="677.50" cy="48.24" r="2.66" fill="#cc7af4"/>
<circle cx="684.00" cy="48.26" r="2.66" fill="#cc7af4"/>
<circle cx="690.50" cy="48.27" r="2.66" fill="#cc7af4"/>
<circle cx="697.00" cy="48.29" r="2.66" fill="#cc7af4"/>
<circle cx="703.50" cy="48.30" r="2.66" fill="#cc7af4"/>
<circle cx="710.00" cy="48.31" r="2.66" fill="#cc7af4"/>
<circle cx="716.50" cy="48.33" r="2.66" fill="#cc7af4"/>
<circle cx="723.00" cy="48.34" r="2.66" fill="#cc7af4"/>
<circle cx="729.50" cy="48.36" r="2.66" fill="#cc7af4"/>
<circle cx="736.00" cy="48.37" r="2.66" fill="#cc7af4"/>
<circle cx="742.50" cy="48.39" r="2.66" fill="#cc7af4"/>
<circle cx="749.00" cy="48.40" r="2.66" fill="#cc7af4"/>
<circle cx="755.50" cy="48.41" r="2.66" fill="#cc7af4"/>
<circle cx="762.00" cy="48.43" r="2.66" fill="#cc7af4"/>
<circle cx="768.50" cy="48.44" r="2.66" fill="#cc7af4"/>
<circle cx="775.00" cy="48.46" r="2.66" fill="#cc7af4"/>
<circle cx="781.50" cy="48.47" r="2.66" fill="#cc7af4"/>
<circle cx="788.00" cy="48.49" r="2.66" fill="#cc7af4"/>
<circle cx="794.50" cy="48.50" r="2.66" fill="#cc7af4"/>
<rect x="467.0" y="142.4" width="162.3" height="99.0" rx="2.5" fill="#fff" fill-opacity="0.8" stroke="#d0d0d0" stroke-width="0.9"/>
<line x1="471.10" y1="152.50" x2="500.30" y2="152.50" stroke="#ef6f89" stroke-width="1.5"/>
<path d="M485.70 148.83L488.62 152.50L485.70 156.17L482.78 152.50Z" fill="#ef6f89"/>
<text x="511.50" y="157.70" class="lg" textLength="89.5" lengthAdjust="spacingAndGlyphs">DMO-A<tspan class="sc">CC</tspan>FW</text>
<line x1="471.10" y1="171.30" x2="500.30" y2="171.30" stroke="#ae9d31" stroke-width="1.5"/>
<path d="M482.95 170.22L484.62 168.55L485.70 169.63L486.78 168.55L488.45 170.22L487.37 171.30L488.45 172.38L486.78 174.05L485.70 172.97L484.62 174.05L482.95 172.38L484.03 171.30Z" fill="#ae9d31"/>
<text x="511.50" y="176.50" class="lg" textLength="74.5" lengthAdjust="spacingAndGlyphs">G<tspan class="sc">RAPH</tspan>-IHT</text>
<line x1="471.10" y1="190.10" x2="500.30" y2="190.10" stroke="#33b07a" stroke-width="1.5"/>
<circle cx="485.70" cy="190.10" r="2.56" fill="#33b07a"/>
<text x="511.50" y="195.30" class="lg" textLength="112" lengthAdjust="spacingAndGlyphs">G<tspan class="sc">RAPH</tspan>-COSAMP</text>
<line x1="471.10" y1="208.90" x2="500.30" y2="208.90" stroke="#38a9c5" stroke-width="1.5"/>
<rect x="483.00" y="206.20" width="5.40" height="5.40" fill="#38a9c5"/>
<text x="511.50" y="214.10" class="lg" textLength="63" lengthAdjust="spacingAndGlyphs">COSAMP</text>
<line x1="471.10" y1="227.70" x2="500.30" y2="227.70" stroke="#cc7af4" stroke-width="1.5"/>
<rect x="483.00" y="225.00" width="5.40" height="5.40" fill="#cc7af4"/>
<text x="511.50" y="232.90" class="lg" textLength="54.5" lengthAdjust="spacingAndGlyphs">G<tspan class="sc">EN</tspan>-MP</text>
<text x="635" y="270.5" text-anchor="middle" class="xl">t</text>
<text transform="translate(403.2 123.8) rotate(-90)" text-anchor="middle" class="yl" textLength="61.8" lengthAdjust="spacingAndGlyphs">||<tspan font-weight="bold" font-style="italic">x</tspan><tspan font-style="italic" font-size="10" dy="2">t</tspan><tspan dy="-2"> − </tspan><tspan font-weight="bold" font-style="italic">x</tspan><tspan font-size="10" dy="-5">*</tspan><tspan dy="5">||</tspan><tspan font-size="10" dy="3">2</tspan></text>
<defs><filter id="bl" x="-5%" y="-5%" width="110%" height="110%"><feGaussianBlur stdDeviation="0.45"/></filter><clipPath id="cp0"><rect x="0" y="0" width="1" height="1"/></clipPath></defs>
<text x="51.3" y="289.8" class="tt" textLength="99.2" lengthAdjust="spacingAndGlyphs">T<tspan class="sct">RUE</tspan>-S<tspan class="sct">IGNAL</tspan></text>
<clipPath id="c0"><rect x="60.2" y="293.8" width="81.0" height="81.2"/></clipPath>
<g clip-path="url(#c0)"><rect x="60.2" y="293.8" width="81.0" height="81.2" fill="#440154"/><g filter="url(#bl)"><path d="M89.5 320.7L91.1 323.1L89.9 325.1L86.7 326.7L84.4 327.8L84.4 331.0L83.6 334.2L84.4 337.3L85.2 339.0L86.7 340.5L88.5 341.8L90.7 342.8L92.8 343.4L94.6 345.2L95.3 345.6" fill="none" stroke="#3a97a6" stroke-width="1.25" stroke-linecap="round" stroke-linejoin="round"/>
<path d="M84.4 327.8L81.3 328.7L79.6 328.6" fill="none" stroke="#3a97a6" stroke-width="1.25" stroke-linecap="round" stroke-linejoin="round"/>
<path d="M86.7 326.7L85.2 324.8L86.2 322.8" fill="none" stroke="#3a97a6" stroke-width="1.25" stroke-linecap="round" stroke-linejoin="round"/>
<path d="M101.7 325.9L103.3 328.6L105.7 331.0L106.3 332.2L107.6 334.2L108.1 336.1L107.2 338.1L105.7 341.3L103.8 342.2L100.9 343.2L99.1 343.7L97.0 345.2L95.3 345.6" fill="none" stroke="#3a97a6" stroke-width="1.25" stroke-linecap="round" stroke-linejoin="round"/>
<path d="M95.0 337.3L95.2 340.2L95.0 342.0" fill="none" stroke="#3a97a6" stroke-width="1.25" stroke-linecap="round" stroke-linejoin="round"/>
<path d="M95.3 345.6L95.3 348.0L95.4 349.1L95.1 351.8L95.5 354.0L94.9 355.2L95.8 357.8L95.3 359.9" fill="none" stroke="#3a97a6" stroke-width="1.25" stroke-linecap="round" stroke-linejoin="round"/>
<path d="M91.5 349.2L91.4 351.9L90.6 353.6" fill="none" stroke="#3a97a6" stroke-width="1.25" stroke-linecap="round" stroke-linejoin="round"/>
<path d="M83.5 354.5L85.3 356.6L86.3 357.9L87.9 359.0L89.7 360.8" fill="none" stroke="#3a97a6" stroke-width="1.25" stroke-linecap="round" stroke-linejoin="round"/>
<path d="M98.7 351.0L98.7 354.5" fill="none" stroke="#3a97a6" stroke-width="1.25" stroke-linecap="round" stroke-linejoin="round"/>
<path d="M102.3 358.1L101.9 360.5L102.2 361.1L101.4 363.5" fill="none" stroke="#3a97a6" stroke-width="1.25" stroke-linecap="round" stroke-linejoin="round"/>
<path d="M95.3 359.9L93.3 360.7L93.0 362.2L90.8 363.5L89.2 364.4L87.3 365.7L85.5 367.0L83.5 368.3L81.9 369.3L79.9 370.3L78.0 370.8L75.6 370.7L74.0 371.5L71.6 370.4L69.3 371.0" fill="none" stroke="#3a97a6" stroke-width="1.25" stroke-linecap="round" stroke-linejoin="round"/>
<path d="M96.9 360.8L98.5 363.3L99.1 364.4L100.4 366.7L100.5 368.8L102.1 370.2L103.2 372.4L105.4 373.0L106.4 372.7L108.5 373.8L111.1 374.6L112.1 374.5L114.8 374.2" fill="none" stroke="#3a97a6" stroke-width="1.25" stroke-linecap="round" stroke-linejoin="round"/>
<path d="M89.6 321.1l0.6 2.2" stroke="#3a97a6" stroke-width="0.9" opacity="0.75"/>
<path d="M90.9 323.6l0.0 -0.3" stroke="#3a97a6" stroke-width="0.9" opacity="0.75"/>
<path d="M88.6 325.7l1.1 -1.3" stroke="#3a97a6" stroke-width="0.9" opacity="0.75"/>
<path d="M86.5 327.2l-1.0 2.4" stroke="#3a97a6" stroke-width="0.9" opacity="0.75"/>
<path d="M84.7 328.5l0.1 0.2" stroke="#3a97a6" stroke-width="0.9" opacity="0.75"/>
<path d="M84.4 330.8l-2.4 -0.4" stroke="#3a97a6" stroke-width="0.9" opacity="0.75"/>
<path d="M83.6 334.6l0.4 -2.4" stroke="#3a97a6" stroke-width="0.9" opacity="0.75"/>
<path d="M84.3 337.8l0.6 0.7" stroke="#3a97a6" stroke-width="0.9" opacity="0.75"/>
<path d="M87.6 341.1l-2.2 0.6" stroke="#3a97a6" stroke-width="0.9" opacity="0.75"/>
<path d="M91.4 343.3l-0.2 0.9" stroke="#3a97a6" stroke-width="0.9" opacity="0.75"/>
<path d="M94.9 345.4l-0.7 1.0" stroke="#3a97a6" stroke-width="0.9" opacity="0.75"/>
<path d="M102.0 326.6l-0.3 1.0" stroke="#3a97a6" stroke-width="0.9" opacity="0.75"/>
<path d="M104.4 329.3l-2.0 -0.9" stroke="#3a97a6" stroke-width="0.9" opacity="0.75"/>
<path d="M106.2 331.6l-0.8 1.7" stroke="#3a97a6" stroke-width="0.9" opacity="0.75"/>
<path d="M107.4 334.8l-0.3 1.8" stroke="#3a97a6" stroke-width="0.9" opacity="0.75"/>
<path d="M106.6 339.0l-1.7 -0.8" stroke="#3a97a6" stroke-width="0.9" opacity="0.75"/>
<path d="M103.6 342.1l0.8 1.9" stroke="#3a97a6" stroke-width="0.9" opacity="0.75"/>
<path d="M99.4 343.8l-0.2 -1.4" stroke="#3a97a6" stroke-width="0.9" opacity="0.75"/>
<path d="M96.2 345.2l-1.9 0.1" stroke="#3a97a6" stroke-width="0.9" opacity="0.75"/>
<path d="M95.5 346.1l-1.1 -0.8" stroke="#3a97a6" stroke-width="0.9" opacity="0.75"/>
<path d="M95.1 349.2l-0.4 -0.4" stroke="#3a97a6" stroke-width="0.9" opacity="0.75"/>
<path d="M95.3 353.0l-0.5 2.1" stroke="#3a97a6" stroke-width="0.9" opacity="0.75"/>
<path d="M95.1 356.3l-1.7 -2.5" stroke="#3a97a6" stroke-width="0.9" opacity="0.75"/>
<path d="M82.4 328.5l-0.3 2.3" stroke="#3a97a6" stroke-width="0.9" opacity="0.75"/>
<path d="M97.8 362.6l2.0 0.4" stroke="#3a97a6" stroke-width="0.9" opacity="0.75"/>
<path d="M99.8 366.3l-2.4 1.2" stroke="#3a97a6" stroke-width="0.9" opacity="0.75"/>
<path d="M100.8 369.2l-1.6 -1.0" stroke="#3a97a6" stroke-width="0.9" opacity="0.75"/>
<path d="M103.4 372.3l0.8 0.1" stroke="#3a97a6" stroke-width="0.9" opacity="0.75"/>
<path d="M109.5 374.1l-0.4 2.2" stroke="#3a97a6" stroke-width="0.9" opacity="0.75"/>
<path d="M113.0 374.3l0.6 -0.8" stroke="#3a97a6" stroke-width="0.9" opacity="0.75"/>
<path d="M94.9 360.3l-2.2 -1.9" stroke="#3a97a6" stroke-width="0.9" opacity="0.75"/>
<path d="M89.7 364.0l-1.9 -2.2" stroke="#3a97a6" stroke-width="0.9" opacity="0.75"/>
<path d="M87.6 365.5l2.4 1.8" stroke="#3a97a6" stroke-width="0.9" opacity="0.75"/>
<path d="M84.3 368.1l-2.1 0.0" stroke="#3a97a6" stroke-width="0.9" opacity="0.75"/>
<path d="M80.3 369.7l-0.9 -0.9" stroke="#3a97a6" stroke-width="0.9" opacity="0.75"/>
<path d="M77.1 370.2l-0.7 0.7" stroke="#3a97a6" stroke-width="0.9" opacity="0.75"/>
<path d="M75.2 370.7l0.4 -0.7" stroke="#3a97a6" stroke-width="0.9" opacity="0.75"/>
<path d="M71.9 370.6l-1.5 -0.9" stroke="#3a97a6" stroke-width="0.9" opacity="0.75"/>
<path d="M95.1 348.8L95.2 353.8L95.3 358.8" fill="none" stroke="#5ec962" stroke-width="1.5"/>
<path d="M90.8 363.5L85.5 367.0L81.9 369.3L75.6 370.7L69.3 371.0" fill="none" stroke="#3fb67a" stroke-width="1.7" stroke-linecap="round"/>
<path d="M81.9 369.3L75.6 370.7L69.3 371.0" fill="none" stroke="#5ec962" stroke-width="1.8" stroke-linecap="round"/>
<path d="M99.1 364.4L100.5 368.8L103.2 372.4L108.5 373.8L114.8 374.2" fill="none" stroke="#3fb67a" stroke-width="1.7" stroke-linecap="round"/>
<path d="M100.5 368.8L103.2 372.4L108.5 373.8L114.8 374.2" fill="none" stroke="#5ec962" stroke-width="1.8" stroke-linecap="round"/>
<circle cx="69.7" cy="371.0" r="1.5" fill="#c8e020"/>
<circle cx="112.2" cy="374.0" r="1.2" fill="#c8e020"/></g></g>
<text x="162.4" y="289.8" class="tt" textLength="109.4" lengthAdjust="spacingAndGlyphs">DMO-A<tspan class="sct">CC</tspan>FW</text>
<clipPath id="c1"><rect x="176.3" y="293.8" width="81.7" height="81.2"/></clipPath>
<g clip-path="url(#c1)"><rect x="176.3" y="293.8" width="81.7" height="81.2" fill="#3d4e8a"/><g filter="url(#bl)"><path d="M205.6 320.7L207.2 323.1L206.0 325.1L202.8 326.7L200.5 327.8L200.5 331.0L199.7 334.2L200.5 337.3L201.3 338.3L202.8 340.5L204.7 341.2L206.8 342.8L208.1 343.9L210.7 345.2L211.4 345.6" fill="none" stroke="#2aa68c" stroke-width="1.25" stroke-linecap="round" stroke-linejoin="round"/>
<path d="M200.5 327.8L198.7 328.6L195.7 328.6" fill="none" stroke="#2aa68c" stroke-width="1.25" stroke-linecap="round" stroke-linejoin="round"/>
<path d="M202.8 326.7L201.3 324.8L202.3 322.8" fill="none" stroke="#2aa68c" stroke-width="1.25" stroke-linecap="round" stroke-linejoin="round"/>
<path d="M217.8 325.9L219.4 328.6L221.8 331.0L223.1 332.2L223.7 334.2L223.6 335.8L223.3 338.1L221.8 341.3L218.9 341.7L217.0 343.2L214.7 344.8L213.1 345.2L211.4 345.6" fill="none" stroke="#2aa68c" stroke-width="1.25" stroke-linecap="round" stroke-linejoin="round"/>
<path d="M211.1 337.3L211.6 340.1L211.1 342.0" fill="none" stroke="#2aa68c" stroke-width="1.25" stroke-linecap="round" stroke-linejoin="round"/>
<path d="M211.4 345.6L211.8 347.2L211.0 349.9L211.2 351.8L211.6 354.3L211.8 355.3L211.5 358.1L211.4 359.9" fill="none" stroke="#2aa68c" stroke-width="1.25" stroke-linecap="round" stroke-linejoin="round"/>
<path d="M207.6 349.2L207.2 350.9L206.7 353.6" fill="none" stroke="#2aa68c" stroke-width="1.25" stroke-linecap="round" stroke-linejoin="round"/>
<path d="M199.6 354.5L201.0 355.4L203.1 358.0L204.0 359.0L205.8 360.8" fill="none" stroke="#2aa68c" stroke-width="1.25" stroke-linecap="round" stroke-linejoin="round"/>
<path d="M214.8 351.0L214.8 354.5" fill="none" stroke="#2aa68c" stroke-width="1.25" stroke-linecap="round" stroke-linejoin="round"/>
<path d="M218.4 358.1L218.2 359.6L218.4 361.8L217.5 363.5" fill="none" stroke="#2aa68c" stroke-width="1.25" stroke-linecap="round" stroke-linejoin="round"/>
<path d="M211.4 359.9L210.4 361.6L208.4 362.2L206.9 363.5L205.3 364.6L202.9 365.6L201.6 367.0L200.2 367.5L198.0 369.3L195.3 369.9L193.5 370.3L191.7 370.7L189.6 370.6L188.2 370.5L185.4 371.0" fill="none" stroke="#2aa68c" stroke-width="1.25" stroke-linecap="round" stroke-linejoin="round"/>
<path d="M213.0 360.8L214.0 362.2L215.2 364.4L216.1 366.3L216.6 368.8L217.7 370.9L219.3 372.4L220.8 372.9L223.4 372.8L224.6 373.8L226.1 373.6L229.2 374.2L230.9 374.2" fill="none" stroke="#2aa68c" stroke-width="1.25" stroke-linecap="round" stroke-linejoin="round"/>
<path d="M205.7 320.8l-0.4 -1.5" stroke="#2aa68c" stroke-width="0.9" opacity="0.75"/>
<path d="M206.7 323.7l-2.2 -2.2" stroke="#2aa68c" stroke-width="0.9" opacity="0.75"/>
<path d="M204.8 326.0l-1.7 0.9" stroke="#2aa68c" stroke-width="0.9" opacity="0.75"/>
<path d="M201.4 327.1l-1.8 -2.3" stroke="#2aa68c" stroke-width="0.9" opacity="0.75"/>
<path d="M200.7 329.3l-0.0 -1.3" stroke="#2aa68c" stroke-width="0.9" opacity="0.75"/>
<path d="M200.2 332.7l2.5 -1.9" stroke="#2aa68c" stroke-width="0.9" opacity="0.75"/>
<path d="M199.6 334.6l0.1 1.4" stroke="#2aa68c" stroke-width="0.9" opacity="0.75"/>
<path d="M200.6 337.8l-0.5 2.4" stroke="#2aa68c" stroke-width="0.9" opacity="0.75"/>
<path d="M203.2 340.6l-0.1 -1.3" stroke="#2aa68c" stroke-width="0.9" opacity="0.75"/>
<path d="M207.3 342.9l-0.4 -2.3" stroke="#2aa68c" stroke-width="0.9" opacity="0.75"/>
<path d="M210.6 345.5l-0.4 -1.3" stroke="#2aa68c" stroke-width="0.9" opacity="0.75"/>
<path d="M218.7 327.1l2.1 -0.8" stroke="#2aa68c" stroke-width="0.9" opacity="0.75"/>
<path d="M219.3 328.5l0.8 1.5" stroke="#2aa68c" stroke-width="0.9" opacity="0.75"/>
<path d="M221.8 331.6l0.7 1.6" stroke="#2aa68c" stroke-width="0.9" opacity="0.75"/>
<path d="M223.4 334.7l0.1 0.8" stroke="#2aa68c" stroke-width="0.9" opacity="0.75"/>
<path d="M223.2 338.9l0.9 -1.2" stroke="#2aa68c" stroke-width="0.9" opacity="0.75"/>
<path d="M219.7 342.3l2.1 2.3" stroke="#2aa68c" stroke-width="0.9" opacity="0.75"/>
<path d="M215.5 343.7l-2.1 2.4" stroke="#2aa68c" stroke-width="0.9" opacity="0.75"/>
<path d="M213.1 345.5l2.3 0.8" stroke="#2aa68c" stroke-width="0.9" opacity="0.75"/>
<path d="M211.6 345.4l-2.5 2.1" stroke="#2aa68c" stroke-width="0.9" opacity="0.75"/>
<path d="M211.4 349.9l-2.4 1.9" stroke="#2aa68c" stroke-width="0.9" opacity="0.75"/>
<path d="M211.3 352.2l-1.9 1.5" stroke="#2aa68c" stroke-width="0.9" opacity="0.75"/>
<path d="M211.6 357.2l1.4 1.9" stroke="#2aa68c" stroke-width="0.9" opacity="0.75"/>
<path d="M199.4 327.8l0.9 -0.8" stroke="#2aa68c" stroke-width="0.9" opacity="0.75"/>
<path d="M214.1 362.4l0.2 -0.6" stroke="#2aa68c" stroke-width="0.9" opacity="0.75"/>
<path d="M215.3 365.3l1.4 -0.9" stroke="#2aa68c" stroke-width="0.9" opacity="0.75"/>
<path d="M217.4 370.1l-1.3 -0.1" stroke="#2aa68c" stroke-width="0.9" opacity="0.75"/>
<path d="M220.7 372.7l2.3 -2.0" stroke="#2aa68c" stroke-width="0.9" opacity="0.75"/>
<path d="M225.8 373.6l-1.9 0.6" stroke="#2aa68c" stroke-width="0.9" opacity="0.75"/>
<path d="M229.3 373.8l1.9 0.1" stroke="#2aa68c" stroke-width="0.9" opacity="0.75"/>
<path d="M210.6 360.8l-0.1 -2.1" stroke="#2aa68c" stroke-width="0.9" opacity="0.75"/>
<path d="M207.0 363.4l-1.3 1.7" stroke="#2aa68c" stroke-width="0.9" opacity="0.75"/>
<path d="M204.1 365.5l-0.7 1.3" stroke="#2aa68c" stroke-width="0.9" opacity="0.75"/>
<path d="M200.0 368.1l2.4 0.6" stroke="#2aa68c" stroke-width="0.9" opacity="0.75"/>
<path d="M197.5 369.4l0.9 0.5" stroke="#2aa68c" stroke-width="0.9" opacity="0.75"/>
<path d="M194.3 370.4l-0.9 2.1" stroke="#2aa68c" stroke-width="0.9" opacity="0.75"/>
<path d="M190.3 370.6l-0.2 2.1" stroke="#2aa68c" stroke-width="0.9" opacity="0.75"/>
<path d="M187.7 371.0l-1.0 1.8" stroke="#2aa68c" stroke-width="0.9" opacity="0.75"/>
<path d="M211.2 348.8L211.3 353.8L211.4 358.8" fill="none" stroke="#52c569" stroke-width="1.5"/>
<path d="M206.9 363.5L201.6 367.0L198.0 369.3L191.7 370.7L185.4 371.0" fill="none" stroke="#3fb67a" stroke-width="1.7" stroke-linecap="round"/>
<path d="M198.0 369.3L191.7 370.7L185.4 371.0" fill="none" stroke="#52c569" stroke-width="1.8" stroke-linecap="round"/>
<path d="M215.2 364.4L216.6 368.8L219.3 372.4L224.6 373.8L230.9 374.2" fill="none" stroke="#3fb67a" stroke-width="1.7" stroke-linecap="round"/>
<path d="M216.6 368.8L219.3 372.4L224.6 373.8L230.9 374.2" fill="none" stroke="#52c569" stroke-width="1.8" stroke-linecap="round"/>
<circle cx="185.8" cy="371.0" r="1.5" fill="#c8e020"/>
<circle cx="228.3" cy="374.0" r="1.2" fill="#c8e020"/></g></g>
<text x="288.9" y="289.8" class="tt" textLength="88.9" lengthAdjust="spacingAndGlyphs">G<tspan class="sct">RAPH</tspan>-IHT</text>
<clipPath id="c2"><rect x="292.9" y="293.8" width="81.9" height="81.2"/></clipPath>
<g clip-path="url(#c2)"><rect x="292.9" y="293.8" width="81.9" height="81.2" fill="#2e6c8c"/><g filter="url(#bl)"><path d="M322.2 320.7L323.8 323.1L322.6 325.1L319.4 326.7L317.1 327.8L317.1 331.0L316.3 334.2L317.1 337.3L318.4 339.1L319.4 340.5L321.7 342.1L323.4 342.8L325.6 344.4L327.3 345.2L328.0 345.6" fill="none" stroke="#48b97a" stroke-width="1.5" stroke-dasharray="2.2 0.7 1.2 0.9" opacity="0.85"/>
<rect x="321.6" y="320.8" width="1.2" height="1.2" fill="#35b779" opacity="0.9"/>
<rect x="323.5" y="322.5" width="1.2" height="1.2" fill="#3fbc73" opacity="0.9"/>
<rect x="321.2" y="324.8" width="1.2" height="1.2" fill="#7ad151" opacity="0.9"/>
<rect x="319.2" y="325.1" width="1.2" height="1.2" fill="#4ec36b" opacity="0.9"/>
<rect x="319.1" y="326.7" width="1.2" height="1.2" fill="#2fb47c" opacity="0.9"/>
<rect x="317.0" y="326.7" width="1.2" height="1.2" fill="#7ad151" opacity="0.9"/>
<rect x="315.9" y="328.5" width="1.2" height="1.2" fill="#3fbc73" opacity="0.9"/>
<rect x="315.9" y="330.6" width="1.2" height="1.2" fill="#7ad151" opacity="0.9"/>
<rect x="316.5" y="332.4" width="1.2" height="1.2" fill="#2fb47c" opacity="0.9"/>
<rect x="316.0" y="334.6" width="1.2" height="1.2" fill="#4ec36b" opacity="0.9"/>
<rect x="316.8" y="335.6" width="1.2" height="1.2" fill="#7ad151" opacity="0.9"/>
<rect x="317.7" y="337.2" width="1.2" height="1.2" fill="#4ec36b" opacity="0.9"/>
<rect x="317.3" y="338.0" width="1.2" height="1.2" fill="#35b779" opacity="0.9"/>
<rect x="318.5" y="340.1" width="1.2" height="1.2" fill="#5ec962" opacity="0.9"/>
<rect x="321.1" y="340.8" width="1.2" height="1.2" fill="#2fb47c" opacity="0.9"/>
<rect x="323.6" y="342.4" width="1.2" height="1.2" fill="#5ec962" opacity="0.9"/>
<rect x="325.0" y="343.9" width="1.2" height="1.2" fill="#4ec36b" opacity="0.9"/>
<rect x="327.5" y="343.8" width="1.2" height="1.2" fill="#5ec962" opacity="0.9"/>
<path d="M317.1 327.8L315.1 328.6L312.3 328.6" fill="none" stroke="#48b97a" stroke-width="1.5" stroke-dasharray="2.2 0.7 1.2 0.9" opacity="0.85"/>
<rect x="316.0" y="327.3" width="1.2" height="1.2" fill="#4ec36b" opacity="0.9"/>
<rect x="313.7" y="328.0" width="1.2" height="1.2" fill="#5ec962" opacity="0.9"/>
<rect x="313.2" y="327.1" width="1.2" height="1.2" fill="#3fbc73" opacity="0.9"/>
<path d="M319.4 326.7L317.9 324.8L318.9 322.8" fill="none" stroke="#48b97a" stroke-width="1.5" stroke-dasharray="2.2 0.7 1.2 0.9" opacity="0.85"/>
<rect x="318.2" y="325.0" width="1.2" height="1.2" fill="#35b779" opacity="0.9"/>
<rect x="317.8" y="323.3" width="1.2" height="1.2" fill="#3fbc73" opacity="0.9"/>
<path d="M334.4 325.9L336.0 328.6L338.4 331.0L339.2 332.9L340.3 334.2L340.2 336.4L339.9 338.1L338.4 341.3L335.8 342.2L333.6 343.2L331.9 343.8L329.7 345.2L328.0 345.6" fill="none" stroke="#48b97a" stroke-width="1.5" stroke-dasharray="2.2 0.7 1.2 0.9" opacity="0.85"/>
<rect x="335.0" y="325.4" width="1.2" height="1.2" fill="#3fbc73" opacity="0.9"/>
<rect x="335.6" y="328.0" width="1.2" height="1.2" fill="#35b779" opacity="0.9"/>
<rect x="336.4" y="330.4" width="1.2" height="1.2" fill="#2fb47c" opacity="0.9"/>
<rect x="338.6" y="330.6" width="1.2" height="1.2" fill="#35b779" opacity="0.9"/>
<rect x="339.6" y="332.3" width="1.2" height="1.2" fill="#4ec36b" opacity="0.9"/>
<rect x="340.3" y="333.6" width="1.2" height="1.2" fill="#3fbc73" opacity="0.9"/>
<rect x="339.3" y="335.0" width="1.2" height="1.2" fill="#3fbc73" opacity="0.9"/>
<rect x="338.6" y="338.5" width="1.2" height="1.2" fill="#2fb47c" opacity="0.9"/>
<rect x="337.8" y="339.6" width="1.2" height="1.2" fill="#35b779" opacity="0.9"/>
<rect x="337.3" y="340.7" width="1.2" height="1.2" fill="#35b779" opacity="0.9"/>
<rect x="335.9" y="342.1" width="1.2" height="1.2" fill="#3fbc73" opacity="0.9"/>
<rect x="335.0" y="342.1" width="1.2" height="1.2" fill="#7ad151" opacity="0.9"/>
<rect x="333.5" y="343.3" width="1.2" height="1.2" fill="#3fbc73" opacity="0.9"/>
<rect x="330.9" y="343.7" width="1.2" height="1.2" fill="#35b779" opacity="0.9"/>
<rect x="328.6" y="344.0" width="1.2" height="1.2" fill="#35b779" opacity="0.9"/>
<path d="M327.7 337.3L327.5 340.1L327.7 342.0" fill="none" stroke="#48b97a" stroke-width="1.5" stroke-dasharray="2.2 0.7 1.2 0.9" opacity="0.85"/>
<rect x="327.2" y="336.7" width="1.2" height="1.2" fill="#7ad151" opacity="0.9"/>
<rect x="326.7" y="340.0" width="1.2" height="1.2" fill="#3fbc73" opacity="0.9"/>
<path d="M328.0 345.6L328.3 347.8L328.2 349.6L327.8 351.8L328.0 354.1L328.2 355.7L328.3 358.2L328.0 359.9" fill="none" stroke="#48b97a" stroke-width="1.5" stroke-dasharray="2.2 0.7 1.2 0.9" opacity="0.85"/>
<rect x="328.1" y="346.4" width="1.2" height="1.2" fill="#35b779" opacity="0.9"/>
<rect x="327.4" y="347.1" width="1.2" height="1.2" fill="#5ec962" opacity="0.9"/>
<rect x="327.9" y="350.0" width="1.2" height="1.2" fill="#5ec962" opacity="0.9"/>
<rect x="327.6" y="352.1" width="1.2" height="1.2" fill="#35b779" opacity="0.9"/>
<rect x="327.7" y="353.1" width="1.2" height="1.2" fill="#5ec962" opacity="0.9"/>
<rect x="327.2" y="355.2" width="1.2" height="1.2" fill="#35b779" opacity="0.9"/>
<rect x="327.6" y="357.0" width="1.2" height="1.2" fill="#35b779" opacity="0.9"/>
<rect x="326.8" y="357.6" width="1.2" height="1.2" fill="#4ec36b" opacity="0.9"/>
<path d="M324.2 349.2L324.2 351.9L323.3 353.6" fill="none" stroke="#48b97a" stroke-width="1.5" stroke-dasharray="2.2 0.7 1.2 0.9" opacity="0.85"/>
<rect x="324.2" y="348.2" width="1.2" height="1.2" fill="#7ad151" opacity="0.9"/>
<rect x="322.9" y="351.9" width="1.2" height="1.2" fill="#7ad151" opacity="0.9"/>
<path d="M316.2 354.5L317.5 356.2L318.7 357.2L320.6 359.0L322.4 360.8" fill="none" stroke="#48b97a" stroke-width="1.5" stroke-dasharray="2.2 0.7 1.2 0.9" opacity="0.85"/>
<rect x="315.9" y="354.2" width="1.2" height="1.2" fill="#2fb47c" opacity="0.9"/>
<rect x="318.3" y="356.7" width="1.2" height="1.2" fill="#3fbc73" opacity="0.9"/>
<rect x="319.1" y="358.2" width="1.2" height="1.2" fill="#2fb47c" opacity="0.9"/>
<rect x="320.2" y="358.6" width="1.2" height="1.2" fill="#3fbc73" opacity="0.9"/>
<path d="M331.4 351.0L331.4 354.5" fill="none" stroke="#48b97a" stroke-width="1.5" stroke-dasharray="2.2 0.7 1.2 0.9" opacity="0.85"/>
<rect x="331.3" y="351.1" width="1.2" height="1.2" fill="#5ec962" opacity="0.9"/>
<rect x="331.0" y="352.7" width="1.2" height="1.2" fill="#5ec962" opacity="0.9"/>
<path d="M335.0 358.1L334.8 360.0L334.9 362.2L334.1 363.5" fill="none" stroke="#48b97a" stroke-width="1.5" stroke-dasharray="2.2 0.7 1.2 0.9" opacity="0.85"/>
<rect x="334.1" y="358.7" width="1.2" height="1.2" fill="#2fb47c" opacity="0.9"/>
<rect x="333.5" y="359.4" width="1.2" height="1.2" fill="#7ad151" opacity="0.9"/>
<rect x="333.1" y="361.9" width="1.2" height="1.2" fill="#7ad151" opacity="0.9"/>
<path d="M328.0 359.9L326.4 360.8L324.8 362.8L323.5 363.5L321.6 365.1L320.4 365.9L318.2 367.0L316.2 368.6L314.6 369.3L312.5 369.7L310.2 370.7L308.3 370.7L306.2 370.6L304.1 370.5L302.0 371.0" fill="none" stroke="#48b97a" stroke-width="1.5" stroke-dasharray="2.2 0.7 1.2 0.9" opacity="0.85"/>
<rect x="326.8" y="359.3" width="1.2" height="1.2" fill="#7ad151" opacity="0.9"/>
<rect x="325.8" y="360.2" width="1.2" height="1.2" fill="#7ad151" opacity="0.9"/>
<rect x="323.6" y="362.7" width="1.2" height="1.2" fill="#7ad151" opacity="0.9"/>
<rect x="321.8" y="363.0" width="1.2" height="1.2" fill="#35b779" opacity="0.9"/>
<rect x="321.8" y="363.8" width="1.2" height="1.2" fill="#35b779" opacity="0.9"/>
<rect x="318.8" y="365.8" width="1.2" height="1.2" fill="#5ec962" opacity="0.9"/>
<rect x="317.4" y="366.1" width="1.2" height="1.2" fill="#3fbc73" opacity="0.9"/>
<rect x="314.8" y="368.0" width="1.2" height="1.2" fill="#7ad151" opacity="0.9"/>
<rect x="313.4" y="368.8" width="1.2" height="1.2" fill="#4ec36b" opacity="0.9"/>
<rect x="311.8" y="369.5" width="1.2" height="1.2" fill="#3fbc73" opacity="0.9"/>
<rect x="309.6" y="369.1" width="1.2" height="1.2" fill="#4ec36b" opacity="0.9"/>
<rect x="309.6" y="370.5" width="1.2" height="1.2" fill="#35b779" opacity="0.9"/>
<rect x="306.4" y="370.6" width="1.2" height="1.2" fill="#7ad151" opacity="0.9"/>
<rect x="305.3" y="370.6" width="1.2" height="1.2" fill="#2fb47c" opacity="0.9"/>
<rect x="302.8" y="371.0" width="1.2" height="1.2" fill="#3fbc73" opacity="0.9"/>
<path d="M329.6 360.8L330.8 362.6L331.8 364.4L332.3 366.3L333.2 368.8L334.7 371.0L335.9 372.4L338.1 372.9L339.4 373.4L341.2 373.8L342.8 374.2L345.2 373.7L347.5 374.2" fill="none" stroke="#48b97a" stroke-width="1.5" stroke-dasharray="2.2 0.7 1.2 0.9" opacity="0.85"/>
<rect x="329.7" y="360.0" width="1.2" height="1.2" fill="#5ec962" opacity="0.9"/>
<rect x="329.6" y="362.2" width="1.2" height="1.2" fill="#35b779" opacity="0.9"/>
<rect x="330.8" y="363.7" width="1.2" height="1.2" fill="#3fbc73" opacity="0.9"/>
<rect x="332.6" y="366.1" width="1.2" height="1.2" fill="#5ec962" opacity="0.9"/>
<rect x="334.0" y="369.3" width="1.2" height="1.2" fill="#2fb47c" opacity="0.9"/>
<rect x="333.7" y="369.9" width="1.2" height="1.2" fill="#35b779" opacity="0.9"/>
<rect x="335.3" y="371.5" width="1.2" height="1.2" fill="#35b779" opacity="0.9"/>
<rect x="337.8" y="372.8" width="1.2" height="1.2" fill="#2fb47c" opacity="0.9"/>
<rect x="339.2" y="372.2" width="1.2" height="1.2" fill="#3fbc73" opacity="0.9"/>
<rect x="341.2" y="372.4" width="1.2" height="1.2" fill="#2fb47c" opacity="0.9"/>
<rect x="343.1" y="373.3" width="1.2" height="1.2" fill="#2fb47c" opacity="0.9"/>
<rect x="345.4" y="374.2" width="1.2" height="1.2" fill="#2fb47c" opacity="0.9"/>
<rect x="336.4" y="341.3" width="1.2" height="1.2" fill="#4a6fa0" opacity="0.8"/>
<rect x="339.2" y="341.6" width="1.2" height="1.2" fill="#3aa69a" opacity="0.8"/>
<rect x="342.0" y="340.0" width="1.2" height="1.2" fill="#3aa69a" opacity="0.8"/>
<rect x="342.4" y="338.8" width="1.2" height="1.2" fill="#3aa69a" opacity="0.8"/>
<rect x="344.9" y="338.1" width="1.2" height="1.2" fill="#2d3f78" opacity="0.8"/>
<rect x="347.2" y="337.6" width="1.2" height="1.2" fill="#2d3f78" opacity="0.8"/>
<rect x="348.5" y="337.7" width="1.2" height="1.2" fill="#4a6fa0" opacity="0.8"/>
<rect x="350.2" y="336.2" width="1.2" height="1.2" fill="#3aa69a" opacity="0.8"/>
<rect x="352.9" y="335.9" width="1.2" height="1.2" fill="#3aa69a" opacity="0.8"/>
<rect x="354.9" y="334.8" width="1.2" height="1.2" fill="#2d3f78" opacity="0.8"/>
<rect x="356.8" y="333.8" width="1.2" height="1.2" fill="#3aa69a" opacity="0.8"/>
<rect x="358.7" y="332.8" width="1.2" height="1.2" fill="#26456f" opacity="0.8"/>
<rect x="327.5" y="346.3" width="1.3" height="1.3" fill="#a0da39" opacity="0.7"/>
<rect x="326.6" y="348.0" width="1.3" height="1.3" fill="#a0da39" opacity="0.7"/>
<rect x="326.5" y="352.2" width="1.3" height="1.3" fill="#a0da39" opacity="0.7"/>
<rect x="327.7" y="355.4" width="1.3" height="1.3" fill="#a0da39" opacity="0.7"/>
<rect x="328.2" y="360.4" width="1.3" height="1.3" fill="#a0da39" opacity="0.7"/>
<rect x="313.3" y="368.4" width="1.3" height="1.3" fill="#b0dd2f" opacity="0.8"/>
<rect x="310.2" y="369.3" width="1.3" height="1.3" fill="#b0dd2f" opacity="0.8"/>
<rect x="307.5" y="369.7" width="1.3" height="1.3" fill="#b0dd2f" opacity="0.8"/>
<rect x="303.9" y="369.9" width="1.3" height="1.3" fill="#b0dd2f" opacity="0.8"/>
<circle cx="302.4" cy="371.0" r="1.4" fill="#b8de29"/>
<rect x="323.5" y="334.0" width="1.2" height="1.2" fill="#2d3f78" opacity="0.75"/>
<rect x="332.1" y="323.5" width="1.2" height="1.2" fill="#2d3f78" opacity="0.75"/>
<rect x="351.6" y="341.0" width="1.2" height="1.2" fill="#2d3f78" opacity="0.75"/>
<rect x="352.2" y="357.6" width="1.2" height="1.2" fill="#2d3f78" opacity="0.75"/>
<rect x="340.5" y="346.3" width="1.2" height="1.2" fill="#2d3f78" opacity="0.75"/>
<rect x="352.5" y="327.9" width="1.2" height="1.2" fill="#2d3f78" opacity="0.75"/>
<rect x="340.3" y="336.9" width="1.2" height="1.2" fill="#2d3f78" opacity="0.75"/>
<rect x="340.6" y="359.7" width="1.2" height="1.2" fill="#2d3f78" opacity="0.75"/>
<rect x="318.1" y="332.3" width="1.2" height="1.2" fill="#2d3f78" opacity="0.75"/>
<rect x="312.0" y="333.8" width="1.2" height="1.2" fill="#2d3f78" opacity="0.75"/>
<rect x="314.3" y="342.7" width="1.2" height="1.2" fill="#2d3f78" opacity="0.75"/>
<rect x="353.7" y="340.7" width="1.2" height="1.2" fill="#2d3f78" opacity="0.75"/>
<rect x="324.6" y="346.1" width="1.2" height="1.2" fill="#2d3f78" opacity="0.75"/>
<rect x="323.4" y="359.9" width="1.2" height="1.2" fill="#2d3f78" opacity="0.75"/>
<rect x="342.5" y="330.3" width="1.2" height="1.2" fill="#2d3f78" opacity="0.75"/>
<rect x="321.5" y="356.8" width="1.2" height="1.2" fill="#2d3f78" opacity="0.75"/></g></g>
<text x="446.7" y="289.8" class="tt" textLength="135.7" lengthAdjust="spacingAndGlyphs">G<tspan class="sct">RAPH</tspan>-COSAMP</text>
<clipPath id="c3"><rect x="472.8" y="293.8" width="82.3" height="81.2"/></clipPath>
<g clip-path="url(#c3)"><rect x="472.8" y="293.8" width="82.3" height="81.2" fill="#2a728a"/><g filter="url(#bl)"><path d="M502.1 320.7L503.7 323.1L502.5 325.1L499.3 326.7L497.0 327.8L497.0 331.0L496.2 334.2L497.0 337.3L498.4 339.2L499.3 340.5L501.3 341.4L503.3 342.8L504.8 344.2L507.2 345.2L507.9 345.6" fill="none" stroke="#45b882" stroke-width="1.5" stroke-dasharray="2.2 0.7 1.2 0.9" opacity="0.85"/>
<rect x="502.3" y="320.5" width="1.2" height="1.2" fill="#35b779" opacity="0.9"/>
<rect x="502.3" y="323.8" width="1.2" height="1.2" fill="#2fb47c" opacity="0.9"/>
<rect x="501.2" y="324.9" width="1.2" height="1.2" fill="#4ec36b" opacity="0.9"/>
<rect x="499.3" y="325.7" width="1.2" height="1.2" fill="#5ec962" opacity="0.9"/>
<rect x="497.4" y="327.0" width="1.2" height="1.2" fill="#5ec962" opacity="0.9"/>
<rect x="497.0" y="327.5" width="1.2" height="1.2" fill="#4ec36b" opacity="0.9"/>
<rect x="496.9" y="329.4" width="1.2" height="1.2" fill="#35b779" opacity="0.9"/>
<rect x="495.7" y="330.3" width="1.2" height="1.2" fill="#3fbc73" opacity="0.9"/>
<rect x="495.5" y="333.2" width="1.2" height="1.2" fill="#2fb47c" opacity="0.9"/>
<rect x="495.2" y="334.3" width="1.2" height="1.2" fill="#35b779" opacity="0.9"/>
<rect x="496.8" y="336.1" width="1.2" height="1.2" fill="#2fb47c" opacity="0.9"/>
<rect x="496.9" y="337.4" width="1.2" height="1.2" fill="#2fb47c" opacity="0.9"/>
<rect x="498.8" y="338.2" width="1.2" height="1.2" fill="#3fbc73" opacity="0.9"/>
<rect x="499.2" y="339.8" width="1.2" height="1.2" fill="#3fbc73" opacity="0.9"/>
<rect x="500.6" y="342.0" width="1.2" height="1.2" fill="#7ad151" opacity="0.9"/>
<rect x="502.6" y="342.8" width="1.2" height="1.2" fill="#2fb47c" opacity="0.9"/>
<rect x="504.5" y="343.6" width="1.2" height="1.2" fill="#7ad151" opacity="0.9"/>
<rect x="506.2" y="345.2" width="1.2" height="1.2" fill="#3fbc73" opacity="0.9"/>
<path d="M497.0 327.8L494.2 328.7L492.2 328.6" fill="none" stroke="#45b882" stroke-width="1.5" stroke-dasharray="2.2 0.7 1.2 0.9" opacity="0.85"/>
<rect x="496.2" y="327.6" width="1.2" height="1.2" fill="#7ad151" opacity="0.9"/>
<rect x="495.3" y="327.1" width="1.2" height="1.2" fill="#7ad151" opacity="0.9"/>
<rect x="493.0" y="328.1" width="1.2" height="1.2" fill="#7ad151" opacity="0.9"/>
<path d="M499.3 326.7L497.8 324.8L498.8 322.8" fill="none" stroke="#45b882" stroke-width="1.5" stroke-dasharray="2.2 0.7 1.2 0.9" opacity="0.85"/>
<rect x="498.1" y="325.3" width="1.2" height="1.2" fill="#35b779" opacity="0.9"/>
<rect x="497.4" y="322.8" width="1.2" height="1.2" fill="#35b779" opacity="0.9"/>
<path d="M518.3 331.0L519.0 332.6L520.2 334.2L520.3 335.8L519.8 338.1L518.3 341.3L515.4 341.9L513.5 343.2L511.6 344.1L509.6 345.2L507.9 345.6" fill="none" stroke="#45b882" stroke-width="1.5" stroke-dasharray="2.2 0.7 1.2 0.9" opacity="0.85"/>
<rect x="517.7" y="331.3" width="1.2" height="1.2" fill="#4ec36b" opacity="0.9"/>
<rect x="518.6" y="332.8" width="1.2" height="1.2" fill="#5ec962" opacity="0.9"/>
<rect x="519.2" y="334.2" width="1.2" height="1.2" fill="#5ec962" opacity="0.9"/>
<rect x="518.8" y="335.8" width="1.2" height="1.2" fill="#3fbc73" opacity="0.9"/>
<rect x="519.6" y="337.5" width="1.2" height="1.2" fill="#2fb47c" opacity="0.9"/>
<rect x="519.0" y="340.3" width="1.2" height="1.2" fill="#4ec36b" opacity="0.9"/>
<rect x="517.6" y="340.5" width="1.2" height="1.2" fill="#7ad151" opacity="0.9"/>
<rect x="515.8" y="341.9" width="1.2" height="1.2" fill="#2fb47c" opacity="0.9"/>
<rect x="513.4" y="341.5" width="1.2" height="1.2" fill="#7ad151" opacity="0.9"/>
<rect x="511.8" y="342.1" width="1.2" height="1.2" fill="#4ec36b" opacity="0.9"/>
<rect x="509.6" y="344.3" width="1.2" height="1.2" fill="#7ad151" opacity="0.9"/>
<rect x="509.4" y="345.2" width="1.2" height="1.2" fill="#5ec962" opacity="0.9"/>
<path d="M507.9 345.6L507.4 347.5L507.4 349.9L507.7 351.8L507.9 353.5L507.9 355.4L507.5 358.0L507.9 359.9" fill="none" stroke="#45b882" stroke-width="1.5" stroke-dasharray="2.2 0.7 1.2 0.9" opacity="0.85"/>
<rect x="507.9" y="345.7" width="1.2" height="1.2" fill="#3fbc73" opacity="0.9"/>
<rect x="506.6" y="348.3" width="1.2" height="1.2" fill="#3fbc73" opacity="0.9"/>
<rect x="507.4" y="349.9" width="1.2" height="1.2" fill="#3fbc73" opacity="0.9"/>
<rect x="507.7" y="351.9" width="1.2" height="1.2" fill="#4ec36b" opacity="0.9"/>
<rect x="507.6" y="352.8" width="1.2" height="1.2" fill="#4ec36b" opacity="0.9"/>
<rect x="507.9" y="355.1" width="1.2" height="1.2" fill="#2fb47c" opacity="0.9"/>
<rect x="507.2" y="356.3" width="1.2" height="1.2" fill="#3fbc73" opacity="0.9"/>
<rect x="506.6" y="358.7" width="1.2" height="1.2" fill="#3fbc73" opacity="0.9"/>
<path d="M504.1 349.2L503.4 351.4L503.2 353.6" fill="none" stroke="#45b882" stroke-width="1.5" stroke-dasharray="2.2 0.7 1.2 0.9" opacity="0.85"/>
<rect x="503.2" y="349.4" width="1.2" height="1.2" fill="#35b779" opacity="0.9"/>
<rect x="503.2" y="350.7" width="1.2" height="1.2" fill="#4ec36b" opacity="0.9"/>
<path d="M496.1 354.5L497.8 355.8L498.6 358.0L500.5 359.0L502.3 360.8" fill="none" stroke="#45b882" stroke-width="1.5" stroke-dasharray="2.2 0.7 1.2 0.9" opacity="0.85"/>
<rect x="496.4" y="354.0" width="1.2" height="1.2" fill="#3fbc73" opacity="0.9"/>
<rect x="497.9" y="355.2" width="1.2" height="1.2" fill="#2fb47c" opacity="0.9"/>
<rect x="498.8" y="356.8" width="1.2" height="1.2" fill="#4ec36b" opacity="0.9"/>
<rect x="500.8" y="358.5" width="1.2" height="1.2" fill="#5ec962" opacity="0.9"/>
<path d="M511.3 351.0L511.3 354.5" fill="none" stroke="#45b882" stroke-width="1.5" stroke-dasharray="2.2 0.7 1.2 0.9" opacity="0.85"/>
<rect x="510.1" y="350.5" width="1.2" height="1.2" fill="#5ec962" opacity="0.9"/>
<rect x="510.8" y="352.1" width="1.2" height="1.2" fill="#5ec962" opacity="0.9"/>
<path d="M514.9 358.1L514.8 360.1L513.9 361.9L514.0 363.5" fill="none" stroke="#45b882" stroke-width="1.5" stroke-dasharray="2.2 0.7 1.2 0.9" opacity="0.85"/>
<rect x="515.0" y="358.3" width="1.2" height="1.2" fill="#4ec36b" opacity="0.9"/>
<rect x="514.5" y="359.1" width="1.2" height="1.2" fill="#7ad151" opacity="0.9"/>
<rect x="514.2" y="361.8" width="1.2" height="1.2" fill="#2fb47c" opacity="0.9"/>
<path d="M507.9 359.9L506.5 361.3L505.1 362.4L503.4 363.5L501.9 364.5L500.0 366.3L498.1 367.0L496.0 368.3L494.5 369.3L492.3 369.3L489.8 370.5L488.2 370.7L485.7 371.0L483.6 370.8L481.9 371.0" fill="none" stroke="#45b882" stroke-width="1.5" stroke-dasharray="2.2 0.7 1.2 0.9" opacity="0.85"/>
<rect x="507.3" y="359.8" width="1.2" height="1.2" fill="#7ad151" opacity="0.9"/>
<rect x="505.7" y="361.3" width="1.2" height="1.2" fill="#35b779" opacity="0.9"/>
<rect x="504.0" y="362.2" width="1.2" height="1.2" fill="#4ec36b" opacity="0.9"/>
<rect x="501.5" y="363.7" width="1.2" height="1.2" fill="#3fbc73" opacity="0.9"/>
<rect x="500.3" y="364.9" width="1.2" height="1.2" fill="#5ec962" opacity="0.9"/>
<rect x="499.9" y="365.7" width="1.2" height="1.2" fill="#4ec36b" opacity="0.9"/>
<rect x="497.3" y="367.0" width="1.2" height="1.2" fill="#4ec36b" opacity="0.9"/>
<rect x="495.4" y="367.2" width="1.2" height="1.2" fill="#3fbc73" opacity="0.9"/>
<rect x="493.7" y="369.3" width="1.2" height="1.2" fill="#4ec36b" opacity="0.9"/>
<rect x="492.3" y="368.7" width="1.2" height="1.2" fill="#7ad151" opacity="0.9"/>
<rect x="490.5" y="370.3" width="1.2" height="1.2" fill="#4ec36b" opacity="0.9"/>
<rect x="488.9" y="370.3" width="1.2" height="1.2" fill="#7ad151" opacity="0.9"/>
<rect x="487.7" y="369.4" width="1.2" height="1.2" fill="#3fbc73" opacity="0.9"/>
<rect x="484.5" y="370.9" width="1.2" height="1.2" fill="#4ec36b" opacity="0.9"/>
<rect x="484.0" y="371.0" width="1.2" height="1.2" fill="#35b779" opacity="0.9"/>
<path d="M509.5 360.8L510.7 362.4L511.7 364.4L512.0 366.5L513.1 368.8L514.1 371.1L515.8 372.4L517.5 373.0L519.4 373.5L521.1 373.8L523.2 373.7L524.9 374.5L527.4 374.2" fill="none" stroke="#45b882" stroke-width="1.5" stroke-dasharray="2.2 0.7 1.2 0.9" opacity="0.85"/>
<rect x="508.9" y="360.9" width="1.2" height="1.2" fill="#5ec962" opacity="0.9"/>
<rect x="511.0" y="363.0" width="1.2" height="1.2" fill="#2fb47c" opacity="0.9"/>
<rect x="510.7" y="364.5" width="1.2" height="1.2" fill="#4ec36b" opacity="0.9"/>
<rect x="512.5" y="366.6" width="1.2" height="1.2" fill="#2fb47c" opacity="0.9"/>
<rect x="513.5" y="368.8" width="1.2" height="1.2" fill="#2fb47c" opacity="0.9"/>
<rect x="515.1" y="370.2" width="1.2" height="1.2" fill="#7ad151" opacity="0.9"/>
<rect x="516.6" y="372.6" width="1.2" height="1.2" fill="#3fbc73" opacity="0.9"/>
<rect x="516.9" y="371.8" width="1.2" height="1.2" fill="#3fbc73" opacity="0.9"/>
<rect x="519.6" y="372.6" width="1.2" height="1.2" fill="#35b779" opacity="0.9"/>
<rect x="520.2" y="372.5" width="1.2" height="1.2" fill="#2fb47c" opacity="0.9"/>
<rect x="523.7" y="374.1" width="1.2" height="1.2" fill="#7ad151" opacity="0.9"/>
<rect x="524.6" y="372.9" width="1.2" height="1.2" fill="#3fbc73" opacity="0.9"/>
<rect x="517.9" y="340.9" width="1.2" height="1.2" fill="#3aa69a" opacity="0.8"/>
<rect x="518.2" y="341.2" width="1.2" height="1.2" fill="#3aa69a" opacity="0.8"/>
<rect x="520.7" y="340.2" width="1.2" height="1.2" fill="#2d5f88" opacity="0.8"/>
<rect x="522.9" y="340.1" width="1.2" height="1.2" fill="#3aa69a" opacity="0.8"/>
<rect x="525.2" y="339.2" width="1.2" height="1.2" fill="#48b98a" opacity="0.8"/>
<rect x="526.1" y="337.5" width="1.2" height="1.2" fill="#2d5f88" opacity="0.8"/>
<rect x="529.4" y="336.3" width="1.2" height="1.2" fill="#48b98a" opacity="0.8"/>
<rect x="530.3" y="336.7" width="1.2" height="1.2" fill="#48b98a" opacity="0.8"/>
<rect x="532.5" y="334.4" width="1.2" height="1.2" fill="#3aa69a" opacity="0.8"/>
<rect x="534.5" y="334.8" width="1.2" height="1.2" fill="#3aa69a" opacity="0.8"/>
<rect x="537.0" y="334.3" width="1.2" height="1.2" fill="#48b98a" opacity="0.8"/>
<rect x="539.4" y="332.5" width="1.2" height="1.2" fill="#2d5f88" opacity="0.8"/>
<rect x="508.0" y="344.9" width="1.3" height="1.3" fill="#a0da39" opacity="0.7"/>
<rect x="507.7" y="348.7" width="1.3" height="1.3" fill="#a0da39" opacity="0.7"/>
<rect x="506.9" y="353.1" width="1.3" height="1.3" fill="#a0da39" opacity="0.7"/>
<rect x="507.7" y="357.5" width="1.3" height="1.3" fill="#a0da39" opacity="0.7"/>
<rect x="507.1" y="361.8" width="1.3" height="1.3" fill="#a0da39" opacity="0.7"/>
<rect x="493.8" y="369.4" width="1.3" height="1.3" fill="#b0dd2f" opacity="0.8"/>
<rect x="490.6" y="369.2" width="1.3" height="1.3" fill="#b0dd2f" opacity="0.8"/>
<rect x="486.7" y="369.8" width="1.3" height="1.3" fill="#b0dd2f" opacity="0.8"/>
<rect x="484.2" y="369.9" width="1.3" height="1.3" fill="#b0dd2f" opacity="0.8"/>
<circle cx="482.3" cy="371.0" r="1.4" fill="#b8de29"/>
<rect x="505.4" y="363.5" width="1.2" height="1.2" fill="#2d3f78" opacity="0.75"/>
<rect x="524.9" y="337.1" width="1.2" height="1.2" fill="#2d3f78" opacity="0.75"/>
<rect x="521.1" y="336.0" width="1.2" height="1.2" fill="#2d3f78" opacity="0.75"/>
<rect x="515.3" y="367.7" width="1.2" height="1.2" fill="#2d3f78" opacity="0.75"/>
<rect x="524.7" y="347.8" width="1.2" height="1.2" fill="#2d3f78" opacity="0.75"/>
<rect x="501.8" y="373.0" width="1.2" height="1.2" fill="#2d3f78" opacity="0.75"/>
<rect x="533.5" y="349.2" width="1.2" height="1.2" fill="#2d3f78" opacity="0.75"/>
<rect x="526.8" y="350.8" width="1.2" height="1.2" fill="#2d3f78" opacity="0.75"/>
<rect x="502.0" y="365.7" width="1.2" height="1.2" fill="#2d3f78" opacity="0.75"/>
<rect x="504.9" y="366.5" width="1.2" height="1.2" fill="#2d3f78" opacity="0.75"/>
<rect x="515.9" y="331.7" width="1.2" height="1.2" fill="#2d3f78" opacity="0.75"/>
<rect x="503.0" y="336.0" width="1.2" height="1.2" fill="#2d3f78" opacity="0.75"/>
<rect x="504.1" y="372.9" width="1.2" height="1.2" fill="#2d3f78" opacity="0.75"/>
<rect x="507.3" y="358.6" width="1.2" height="1.2" fill="#2d3f78" opacity="0.75"/>
<rect x="498.3" y="321.9" width="1.2" height="1.2" fill="#2d3f78" opacity="0.75"/>
<rect x="526.7" y="364.8" width="1.2" height="1.2" fill="#2d3f78" opacity="0.75"/></g></g>
<text x="596.9" y="289.8" class="tt" textLength="77.6" lengthAdjust="spacingAndGlyphs">COSAMP</text>
<clipPath id="c4"><rect x="593.9" y="293.8" width="82.1" height="81.2"/></clipPath>
<g clip-path="url(#c4)"><rect x="593.9" y="293.8" width="82.1" height="81.2" fill="#27878b"/><g filter="url(#bl)"><rect x="619.8" y="305.9" width="1" height="1" fill="#3a6d8c" opacity="0.55"/>
<rect x="599.7" y="336.7" width="1" height="1" fill="#3fa08a" opacity="0.55"/>
<rect x="640.5" y="366.6" width="1" height="1" fill="#2f5f8c" opacity="0.55"/>
<rect x="596.9" y="328.5" width="1" height="1" fill="#3a6d8c" opacity="0.55"/>
<rect x="613.2" y="337.9" width="1" height="1" fill="#3a6d8c" opacity="0.55"/>
<rect x="660.0" y="303.7" width="1" height="1" fill="#2f5f8c" opacity="0.55"/>
<rect x="644.4" y="340.4" width="1" height="1" fill="#3a6d8c" opacity="0.55"/>
<rect x="640.1" y="325.5" width="1" height="1" fill="#2f5f8c" opacity="0.55"/>
<rect x="597.6" y="362.5" width="1" height="1" fill="#3fa08a" opacity="0.55"/>
<rect x="627.4" y="337.1" width="1" height="1" fill="#2a7a8d" opacity="0.55"/>
<rect x="618.6" y="359.1" width="1" height="1" fill="#2f5f8c" opacity="0.55"/>
<rect x="602.1" y="339.5" width="1" height="1" fill="#2f5f8c" opacity="0.55"/>
<rect x="623.7" y="337.6" width="1" height="1" fill="#3a6d8c" opacity="0.55"/>
<rect x="639.0" y="343.3" width="1" height="1" fill="#4aab84" opacity="0.55"/>
<rect x="648.3" y="328.0" width="1" height="1" fill="#3fa08a" opacity="0.55"/>
<rect x="631.1" y="367.7" width="1" height="1" fill="#3fa08a" opacity="0.55"/>
<rect x="617.9" y="357.4" width="1" height="1" fill="#2f5f8c" opacity="0.55"/>
<rect x="600.4" y="317.8" width="1" height="1" fill="#4aab84" opacity="0.55"/>
<rect x="663.9" y="352.2" width="1" height="1" fill="#3fa08a" opacity="0.55"/>
<rect x="642.6" y="299.7" width="1" height="1" fill="#2a7a8d" opacity="0.55"/>
<rect x="627.3" y="354.4" width="1" height="1" fill="#2f5f8c" opacity="0.55"/>
<rect x="668.6" y="327.5" width="1" height="1" fill="#3a6d8c" opacity="0.55"/>
<rect x="655.1" y="339.6" width="1" height="1" fill="#3fa08a" opacity="0.55"/>
<rect x="621.1" y="321.8" width="1" height="1" fill="#4aab84" opacity="0.55"/>
<rect x="640.3" y="330.3" width="1" height="1" fill="#3a6d8c" opacity="0.55"/>
<rect x="669.5" y="331.7" width="1" height="1" fill="#3a6d8c" opacity="0.55"/>
<rect x="598.8" y="349.9" width="1" height="1" fill="#2a7a8d" opacity="0.55"/>
<rect x="673.3" y="359.6" width="1" height="1" fill="#3fa08a" opacity="0.55"/>
<rect x="651.2" y="364.8" width="1" height="1" fill="#3fa08a" opacity="0.55"/>
<rect x="595.7" y="330.7" width="1" height="1" fill="#2f5f8c" opacity="0.55"/>
<rect x="642.8" y="333.3" width="1" height="1" fill="#2f5f8c" opacity="0.55"/>
<rect x="655.4" y="304.1" width="1" height="1" fill="#2f5f8c" opacity="0.55"/>
<rect x="625.7" y="367.1" width="1" height="1" fill="#4aab84" opacity="0.55"/>
<rect x="600.3" y="329.7" width="1" height="1" fill="#2a7a8d" opacity="0.55"/>
<rect x="616.1" y="304.8" width="1" height="1" fill="#4aab84" opacity="0.55"/>
<rect x="663.0" y="316.1" width="1" height="1" fill="#4aab84" opacity="0.55"/>
<rect x="672.8" y="348.4" width="1" height="1" fill="#4aab84" opacity="0.55"/>
<rect x="670.5" y="305.9" width="1" height="1" fill="#2f5f8c" opacity="0.55"/>
<rect x="606.0" y="346.5" width="1" height="1" fill="#3a6d8c" opacity="0.55"/>
<rect x="632.7" y="340.9" width="1" height="1" fill="#3fa08a" opacity="0.55"/>
<rect x="616.5" y="305.5" width="1" height="1" fill="#2a7a8d" opacity="0.55"/>
<rect x="623.4" y="339.1" width="1" height="1" fill="#2f5f8c" opacity="0.55"/>
<rect x="649.1" y="335.0" width="1" height="1" fill="#2a7a8d" opacity="0.55"/>
<rect x="646.3" y="353.0" width="1" height="1" fill="#4aab84" opacity="0.55"/>
<rect x="665.9" y="356.2" width="1" height="1" fill="#2a7a8d" opacity="0.55"/>
<rect x="625.3" y="325.7" width="1" height="1" fill="#3a6d8c" opacity="0.55"/>
<rect x="632.4" y="325.8" width="1" height="1" fill="#2f5f8c" opacity="0.55"/>
<rect x="599.3" y="310.5" width="1" height="1" fill="#2f5f8c" opacity="0.55"/>
<rect x="602.7" y="341.9" width="1" height="1" fill="#3a6d8c" opacity="0.55"/>
<rect x="593.9" y="305.9" width="1" height="1" fill="#3a6d8c" opacity="0.55"/>
<rect x="669.8" y="342.9" width="1" height="1" fill="#3a6d8c" opacity="0.55"/>
<rect x="663.8" y="342.9" width="1" height="1" fill="#2f5f8c" opacity="0.55"/>
<rect x="644.7" y="370.2" width="1" height="1" fill="#2a7a8d" opacity="0.55"/>
<rect x="623.0" y="303.6" width="1" height="1" fill="#4aab84" opacity="0.55"/>
<rect x="673.3" y="331.1" width="1" height="1" fill="#4aab84" opacity="0.55"/>
<rect x="618.8" y="305.3" width="1" height="1" fill="#3fa08a" opacity="0.55"/>
<rect x="653.1" y="332.1" width="1" height="1" fill="#2f5f8c" opacity="0.55"/>
<rect x="635.2" y="310.2" width="1" height="1" fill="#2a7a8d" opacity="0.55"/>
<rect x="622.8" y="349.0" width="1" height="1" fill="#3a6d8c" opacity="0.55"/>
<rect x="654.6" y="317.6" width="1" height="1" fill="#3a6d8c" opacity="0.55"/>
<rect x="649.6" y="314.7" width="1" height="1" fill="#3fa08a" opacity="0.55"/>
<rect x="666.6" y="322.3" width="1" height="1" fill="#2f5f8c" opacity="0.55"/>
<rect x="636.5" y="356.1" width="1" height="1" fill="#3fa08a" opacity="0.55"/>
<rect x="644.8" y="342.9" width="1" height="1" fill="#2f5f8c" opacity="0.55"/>
<rect x="658.4" y="359.3" width="1" height="1" fill="#2f5f8c" opacity="0.55"/>
<rect x="609.9" y="333.2" width="1" height="1" fill="#3a6d8c" opacity="0.55"/>
<rect x="673.1" y="357.0" width="1" height="1" fill="#4aab84" opacity="0.55"/>
<rect x="614.6" y="349.2" width="1" height="1" fill="#3fa08a" opacity="0.55"/>
<rect x="629.7" y="368.8" width="1" height="1" fill="#3fa08a" opacity="0.55"/>
<rect x="670.3" y="323.0" width="1" height="1" fill="#2f5f8c" opacity="0.55"/>
<rect x="602.1" y="331.4" width="1" height="1" fill="#3fa08a" opacity="0.55"/>
<rect x="610.2" y="343.7" width="1" height="1" fill="#2a7a8d" opacity="0.55"/>
<rect x="661.1" y="332.2" width="1" height="1" fill="#3fa08a" opacity="0.55"/>
<rect x="657.9" y="300.6" width="1" height="1" fill="#3a6d8c" opacity="0.55"/>
<rect x="666.7" y="356.4" width="1" height="1" fill="#2f5f8c" opacity="0.55"/>
<rect x="632.1" y="308.1" width="1" height="1" fill="#3fa08a" opacity="0.55"/>
<rect x="600.8" y="369.5" width="1" height="1" fill="#4aab84" opacity="0.55"/>
<rect x="631.0" y="353.3" width="1" height="1" fill="#3a6d8c" opacity="0.55"/>
<rect x="651.9" y="307.4" width="1" height="1" fill="#2f5f8c" opacity="0.55"/>
<rect x="596.1" y="341.1" width="1" height="1" fill="#4aab84" opacity="0.55"/>
<rect x="658.4" y="305.5" width="1" height="1" fill="#2a7a8d" opacity="0.55"/>
<rect x="672.3" y="346.4" width="1" height="1" fill="#3fa08a" opacity="0.55"/>
<rect x="606.4" y="337.7" width="1" height="1" fill="#3a6d8c" opacity="0.55"/>
<rect x="595.0" y="371.5" width="1" height="1" fill="#3a6d8c" opacity="0.55"/>
<rect x="636.0" y="368.5" width="1" height="1" fill="#4aab84" opacity="0.55"/>
<rect x="672.8" y="309.4" width="1" height="1" fill="#2f5f8c" opacity="0.55"/>
<rect x="596.1" y="310.8" width="1" height="1" fill="#2a7a8d" opacity="0.55"/>
<rect x="613.1" y="340.7" width="1" height="1" fill="#3fa08a" opacity="0.55"/>
<rect x="637.4" y="360.5" width="1" height="1" fill="#3a6d8c" opacity="0.55"/>
<rect x="666.7" y="322.1" width="1" height="1" fill="#4aab84" opacity="0.55"/>
<rect x="646.9" y="359.0" width="1" height="1" fill="#2a7a8d" opacity="0.55"/>
<rect x="627.6" y="367.2" width="1" height="1" fill="#2a7a8d" opacity="0.55"/>
<rect x="604.4" y="305.9" width="1" height="1" fill="#2a7a8d" opacity="0.55"/>
<rect x="595.4" y="329.0" width="1" height="1" fill="#2f5f8c" opacity="0.55"/>
<rect x="642.6" y="355.9" width="1" height="1" fill="#2f5f8c" opacity="0.55"/>
<rect x="607.7" y="331.7" width="1" height="1" fill="#3a6d8c" opacity="0.55"/>
<rect x="638.4" y="319.9" width="1" height="1" fill="#2a7a8d" opacity="0.55"/>
<rect x="636.4" y="332.4" width="1" height="1" fill="#3a6d8c" opacity="0.55"/>
<rect x="664.6" y="298.3" width="1" height="1" fill="#2f5f8c" opacity="0.55"/>
<rect x="616.1" y="355.6" width="1" height="1" fill="#2a7a8d" opacity="0.55"/>
<rect x="630.1" y="296.0" width="1" height="1" fill="#3a6d8c" opacity="0.55"/>
<rect x="629.4" y="342.8" width="1" height="1" fill="#2a7a8d" opacity="0.55"/>
<rect x="642.4" y="309.8" width="1" height="1" fill="#3fa08a" opacity="0.55"/>
<rect x="630.1" y="336.5" width="1" height="1" fill="#4aab84" opacity="0.55"/>
<rect x="634.5" y="313.6" width="1" height="1" fill="#2a7a8d" opacity="0.55"/>
<rect x="664.0" y="369.2" width="1" height="1" fill="#3fa08a" opacity="0.55"/>
<rect x="667.7" y="365.2" width="1" height="1" fill="#2f5f8c" opacity="0.55"/>
<rect x="661.1" y="304.8" width="1" height="1" fill="#3a6d8c" opacity="0.55"/>
<rect x="625.3" y="319.1" width="1" height="1" fill="#2f5f8c" opacity="0.55"/>
<rect x="628.2" y="310.8" width="1" height="1" fill="#3fa08a" opacity="0.55"/>
<rect x="656.6" y="365.6" width="1" height="1" fill="#2f5f8c" opacity="0.55"/>
<rect x="669.1" y="345.3" width="1" height="1" fill="#3fa08a" opacity="0.55"/>
<rect x="605.3" y="364.4" width="1" height="1" fill="#4aab84" opacity="0.55"/>
<rect x="611.5" y="370.0" width="1" height="1" fill="#4aab84" opacity="0.55"/>
<rect x="664.7" y="306.8" width="1" height="1" fill="#2f5f8c" opacity="0.55"/>
<rect x="606.8" y="328.3" width="1" height="1" fill="#2a7a8d" opacity="0.55"/>
<rect x="626.2" y="327.5" width="1" height="1" fill="#3fa08a" opacity="0.55"/>
<rect x="619.4" y="351.6" width="1" height="1" fill="#3a6d8c" opacity="0.55"/>
<rect x="620.9" y="330.5" width="1" height="1" fill="#3a6d8c" opacity="0.55"/>
<rect x="624.6" y="335.2" width="1" height="1" fill="#3fa08a" opacity="0.55"/>
<rect x="634.9" y="298.9" width="1" height="1" fill="#2f5f8c" opacity="0.55"/>
<rect x="671.6" y="302.2" width="1" height="1" fill="#3fa08a" opacity="0.55"/>
<rect x="615.7" y="366.3" width="1" height="1" fill="#2f5f8c" opacity="0.55"/>
<rect x="615.5" y="304.2" width="1" height="1" fill="#4aab84" opacity="0.55"/>
<rect x="661.9" y="347.9" width="1" height="1" fill="#3fa08a" opacity="0.55"/>
<rect x="626.4" y="336.7" width="1" height="1" fill="#2a7a8d" opacity="0.55"/>
<rect x="639.5" y="349.8" width="1" height="1" fill="#3a6d8c" opacity="0.55"/>
<rect x="616.2" y="357.8" width="1" height="1" fill="#2f5f8c" opacity="0.55"/>
<rect x="627.9" y="299.6" width="1" height="1" fill="#3a6d8c" opacity="0.55"/>
<rect x="644.7" y="357.9" width="1" height="1" fill="#3a6d8c" opacity="0.55"/>
<rect x="642.6" y="311.6" width="1" height="1" fill="#3fa08a" opacity="0.55"/>
<rect x="662.9" y="330.1" width="1" height="1" fill="#3fa08a" opacity="0.55"/>
<rect x="673.4" y="327.2" width="1" height="1" fill="#3fa08a" opacity="0.55"/>
<rect x="643.6" y="297.3" width="1" height="1" fill="#2f5f8c" opacity="0.55"/>
<rect x="669.0" y="371.3" width="1" height="1" fill="#3fa08a" opacity="0.55"/>
<rect x="597.9" y="309.9" width="1" height="1" fill="#3fa08a" opacity="0.55"/>
<rect x="644.2" y="336.3" width="1" height="1" fill="#2f5f8c" opacity="0.55"/>
<rect x="617.1" y="333.8" width="1" height="1" fill="#2f5f8c" opacity="0.55"/>
<rect x="615.5" y="358.1" width="1" height="1" fill="#3fa08a" opacity="0.55"/>
<rect x="596.9" y="295.3" width="1" height="1" fill="#2a7a8d" opacity="0.55"/>
<rect x="638.0" y="309.0" width="1" height="1" fill="#4aab84" opacity="0.55"/>
<rect x="613.6" y="329.6" width="1" height="1" fill="#4aab84" opacity="0.55"/>
<rect x="646.4" y="337.5" width="1" height="1" fill="#4aab84" opacity="0.55"/>
<rect x="671.5" y="318.4" width="1" height="1" fill="#2f5f8c" opacity="0.55"/>
<rect x="672.5" y="321.2" width="1" height="1" fill="#2f5f8c" opacity="0.55"/>
<rect x="626.3" y="321.6" width="1" height="1" fill="#3a6d8c" opacity="0.55"/>
<rect x="660.9" y="294.9" width="1" height="1" fill="#3fa08a" opacity="0.55"/>
<rect x="628.4" y="298.2" width="1" height="1" fill="#4aab84" opacity="0.55"/>
<rect x="663.5" y="347.4" width="1" height="1" fill="#3fa08a" opacity="0.55"/>
<rect x="641.8" y="349.2" width="1" height="1" fill="#3a6d8c" opacity="0.55"/>
<rect x="630.7" y="306.4" width="1" height="1" fill="#4aab84" opacity="0.55"/>
<rect x="594.2" y="322.9" width="1" height="1" fill="#3fa08a" opacity="0.55"/>
<rect x="671.7" y="337.6" width="1" height="1" fill="#2f5f8c" opacity="0.55"/>
<rect x="596.7" y="364.4" width="1" height="1" fill="#2f5f8c" opacity="0.55"/>
<rect x="622.4" y="293.9" width="1" height="1" fill="#4aab84" opacity="0.55"/>
<rect x="600.6" y="316.1" width="1" height="1" fill="#2f5f8c" opacity="0.55"/>
<rect x="613.8" y="355.9" width="1" height="1" fill="#3a6d8c" opacity="0.55"/>
<rect x="615.0" y="301.0" width="1" height="1" fill="#4aab84" opacity="0.55"/>
<rect x="640.8" y="325.3" width="1" height="1" fill="#3fa08a" opacity="0.55"/>
<rect x="618.2" y="312.4" width="1" height="1" fill="#2a7a8d" opacity="0.55"/>
<rect x="670.5" y="362.1" width="1" height="1" fill="#2f5f8c" opacity="0.55"/>
<rect x="646.5" y="351.1" width="1" height="1" fill="#2a7a8d" opacity="0.55"/>
<rect x="625.1" y="319.9" width="1" height="1" fill="#4aab84" opacity="0.55"/>
<rect x="605.9" y="351.7" width="1" height="1" fill="#2f5f8c" opacity="0.55"/>
<rect x="597.4" y="360.6" width="1" height="1" fill="#2a7a8d" opacity="0.55"/>
<rect x="644.1" y="352.5" width="1" height="1" fill="#2a7a8d" opacity="0.55"/>
<rect x="605.0" y="335.7" width="1" height="1" fill="#2a7a8d" opacity="0.55"/>
<rect x="639.4" y="358.8" width="1" height="1" fill="#3a6d8c" opacity="0.55"/>
<rect x="660.0" y="340.5" width="1" height="1" fill="#2f5f8c" opacity="0.55"/>
<rect x="600.7" y="297.1" width="1" height="1" fill="#3fa08a" opacity="0.55"/>
<rect x="670.7" y="323.9" width="1" height="1" fill="#4aab84" opacity="0.55"/>
<rect x="638.6" y="344.0" width="1" height="1" fill="#2a7a8d" opacity="0.55"/>
<rect x="648.4" y="332.9" width="1" height="1" fill="#3a6d8c" opacity="0.55"/>
<rect x="630.5" y="299.4" width="1" height="1" fill="#2a7a8d" opacity="0.55"/>
<rect x="665.7" y="301.2" width="1" height="1" fill="#2a7a8d" opacity="0.55"/>
<rect x="599.2" y="352.7" width="1" height="1" fill="#3fa08a" opacity="0.55"/>
<rect x="658.6" y="361.5" width="1" height="1" fill="#2f5f8c" opacity="0.55"/>
<rect x="652.2" y="310.2" width="1" height="1" fill="#4aab84" opacity="0.55"/>
<rect x="633.4" y="324.4" width="1" height="1" fill="#4aab84" opacity="0.55"/>
<rect x="666.7" y="316.8" width="1" height="1" fill="#3a6d8c" opacity="0.55"/>
<rect x="643.3" y="345.2" width="1" height="1" fill="#3a6d8c" opacity="0.55"/>
<rect x="641.9" y="320.3" width="1" height="1" fill="#3fa08a" opacity="0.55"/>
<rect x="643.6" y="304.5" width="1" height="1" fill="#4aab84" opacity="0.55"/>
<rect x="598.8" y="315.3" width="1" height="1" fill="#3a6d8c" opacity="0.55"/>
<rect x="649.3" y="347.9" width="1" height="1" fill="#3fa08a" opacity="0.55"/>
<rect x="650.6" y="316.6" width="1" height="1" fill="#4aab84" opacity="0.55"/>
<rect x="631.2" y="303.3" width="1" height="1" fill="#2a7a8d" opacity="0.55"/>
<rect x="609.8" y="372.1" width="1" height="1" fill="#4aab84" opacity="0.55"/>
<rect x="595.3" y="330.5" width="1" height="1" fill="#2a7a8d" opacity="0.55"/>
<rect x="671.3" y="329.8" width="1" height="1" fill="#3fa08a" opacity="0.55"/>
<rect x="624.8" y="367.1" width="1" height="1" fill="#2f5f8c" opacity="0.55"/>
<rect x="599.9" y="301.0" width="1" height="1" fill="#2a7a8d" opacity="0.55"/>
<rect x="614.8" y="322.6" width="1" height="1" fill="#2a7a8d" opacity="0.55"/>
<rect x="659.5" y="334.5" width="1" height="1" fill="#3a6d8c" opacity="0.55"/>
<rect x="650.2" y="312.3" width="1" height="1" fill="#4aab84" opacity="0.55"/>
<rect x="625.4" y="306.5" width="1" height="1" fill="#4aab84" opacity="0.55"/>
<rect x="648.4" y="326.2" width="1" height="1" fill="#2f5f8c" opacity="0.55"/>
<rect x="627.2" y="323.9" width="1" height="1" fill="#3a6d8c" opacity="0.55"/>
<rect x="661.1" y="293.9" width="1" height="1" fill="#3fa08a" opacity="0.55"/>
<rect x="661.0" y="303.4" width="1" height="1" fill="#2f5f8c" opacity="0.55"/>
<rect x="650.9" y="365.9" width="1" height="1" fill="#3fa08a" opacity="0.55"/>
<rect x="614.2" y="299.0" width="1" height="1" fill="#4aab84" opacity="0.55"/>
<rect x="673.8" y="340.9" width="1" height="1" fill="#3fa08a" opacity="0.55"/>
<rect x="667.9" y="354.3" width="1" height="1" fill="#3a6d8c" opacity="0.55"/>
<rect x="616.4" y="297.9" width="1" height="1" fill="#3fa08a" opacity="0.55"/>
<rect x="644.7" y="305.7" width="1" height="1" fill="#3fa08a" opacity="0.55"/>
<rect x="628.8" y="319.0" width="1" height="1" fill="#3fa08a" opacity="0.55"/>
<rect x="656.7" y="328.0" width="1" height="1" fill="#3a6d8c" opacity="0.55"/>
<rect x="658.9" y="344.3" width="1" height="1" fill="#2a7a8d" opacity="0.55"/>
<rect x="637.8" y="351.4" width="1" height="1" fill="#3a6d8c" opacity="0.55"/>
<rect x="668.6" y="326.7" width="1" height="1" fill="#2a7a8d" opacity="0.55"/>
<rect x="654.1" y="345.4" width="1" height="1" fill="#3fa08a" opacity="0.55"/>
<rect x="632.7" y="366.8" width="1" height="1" fill="#2a7a8d" opacity="0.55"/>
<rect x="604.1" y="331.6" width="1" height="1" fill="#3fa08a" opacity="0.55"/>
<rect x="616.4" y="314.3" width="1" height="1" fill="#3fa08a" opacity="0.55"/>
<rect x="626.4" y="312.9" width="1" height="1" fill="#4aab84" opacity="0.55"/>
<rect x="638.5" y="325.3" width="1" height="1" fill="#2f5f8c" opacity="0.55"/>
<rect x="645.4" y="299.8" width="1" height="1" fill="#2a7a8d" opacity="0.55"/>
<rect x="666.4" y="333.6" width="1" height="1" fill="#2f5f8c" opacity="0.55"/>
<rect x="630.1" y="320.4" width="1" height="1" fill="#4aab84" opacity="0.55"/>
<rect x="628.1" y="337.6" width="1" height="1" fill="#2f5f8c" opacity="0.55"/>
<rect x="601.2" y="321.2" width="1" height="1" fill="#3a6d8c" opacity="0.55"/>
<rect x="619.4" y="323.3" width="1" height="1" fill="#2a7a8d" opacity="0.55"/>
<rect x="610.1" y="295.4" width="1" height="1" fill="#4aab84" opacity="0.55"/>
<rect x="624.5" y="353.5" width="1" height="1" fill="#2f5f8c" opacity="0.55"/>
<rect x="624.0" y="320.9" width="1" height="1" fill="#3a6d8c" opacity="0.55"/>
<rect x="633.8" y="339.7" width="1" height="1" fill="#3fa08a" opacity="0.55"/>
<rect x="604.0" y="334.1" width="1" height="1" fill="#2f5f8c" opacity="0.55"/>
<rect x="601.3" y="365.5" width="1" height="1" fill="#4aab84" opacity="0.55"/>
<rect x="625.9" y="329.5" width="1" height="1" fill="#3fa08a" opacity="0.55"/>
<rect x="661.8" y="363.6" width="1" height="1" fill="#3a6d8c" opacity="0.55"/>
<rect x="604.1" y="327.8" width="1" height="1" fill="#4aab84" opacity="0.55"/>
<rect x="671.4" y="333.0" width="1" height="1" fill="#3a6d8c" opacity="0.55"/>
<rect x="625.2" y="367.9" width="1" height="1" fill="#2a7a8d" opacity="0.55"/>
<rect x="662.3" y="371.6" width="1" height="1" fill="#2f5f8c" opacity="0.55"/>
<rect x="656.5" y="311.7" width="1" height="1" fill="#2f5f8c" opacity="0.55"/>
<rect x="635.7" y="348.4" width="1" height="1" fill="#4aab84" opacity="0.55"/>
<rect x="600.7" y="355.9" width="1" height="1" fill="#3a6d8c" opacity="0.55"/>
<rect x="656.5" y="312.4" width="1" height="1" fill="#3a6d8c" opacity="0.55"/>
<rect x="645.5" y="318.1" width="1" height="1" fill="#2f5f8c" opacity="0.55"/>
<rect x="644.0" y="336.1" width="1" height="1" fill="#4aab84" opacity="0.55"/>
<rect x="649.8" y="302.8" width="1" height="1" fill="#3a6d8c" opacity="0.55"/>
<rect x="617.9" y="369.3" width="1" height="1" fill="#2f5f8c" opacity="0.55"/>
<rect x="624.9" y="311.7" width="1" height="1" fill="#2a7a8d" opacity="0.55"/>
<rect x="594.0" y="336.8" width="1" height="1" fill="#4aab84" opacity="0.55"/>
<rect x="616.2" y="319.1" width="1" height="1" fill="#2f5f8c" opacity="0.55"/>
<rect x="631.9" y="312.6" width="1" height="1" fill="#2f5f8c" opacity="0.55"/>
<rect x="596.2" y="326.7" width="1" height="1" fill="#3fa08a" opacity="0.55"/>
<rect x="598.3" y="309.3" width="1" height="1" fill="#4aab84" opacity="0.55"/>
<rect x="600.4" y="312.0" width="1" height="1" fill="#4aab84" opacity="0.55"/>
<rect x="667.9" y="311.9" width="1" height="1" fill="#3a6d8c" opacity="0.55"/>
<rect x="649.6" y="351.3" width="1" height="1" fill="#3fa08a" opacity="0.55"/>
<rect x="648.5" y="309.6" width="1" height="1" fill="#3fa08a" opacity="0.55"/>
<rect x="653.0" y="334.2" width="1" height="1" fill="#2f5f8c" opacity="0.55"/>
<rect x="633.6" y="309.8" width="1" height="1" fill="#2f5f8c" opacity="0.55"/>
<rect x="612.4" y="311.5" width="1" height="1" fill="#3fa08a" opacity="0.55"/>
<rect x="602.6" y="343.7" width="1" height="1" fill="#2a7a8d" opacity="0.55"/>
<rect x="608.9" y="311.7" width="1" height="1" fill="#4aab84" opacity="0.55"/>
<rect x="666.7" y="298.3" width="1" height="1" fill="#2a7a8d" opacity="0.55"/>
<rect x="605.6" y="325.3" width="1" height="1" fill="#2f5f8c" opacity="0.55"/>
<rect x="595.8" y="341.5" width="1" height="1" fill="#4aab84" opacity="0.55"/>
<rect x="598.0" y="298.6" width="1" height="1" fill="#4aab84" opacity="0.55"/>
<rect x="629.9" y="350.8" width="1" height="1" fill="#3fa08a" opacity="0.55"/>
<rect x="652.5" y="373.6" width="1" height="1" fill="#2f5f8c" opacity="0.55"/>
<rect x="620.2" y="308.6" width="1" height="1" fill="#2a7a8d" opacity="0.55"/>
<rect x="653.6" y="296.4" width="1" height="1" fill="#4aab84" opacity="0.55"/>
<rect x="661.0" y="372.6" width="1" height="1" fill="#4aab84" opacity="0.55"/>
<rect x="607.4" y="294.0" width="1" height="1" fill="#3fa08a" opacity="0.55"/>
<rect x="600.4" y="327.4" width="1" height="1" fill="#3a6d8c" opacity="0.55"/>
<rect x="638.8" y="354.5" width="1" height="1" fill="#4aab84" opacity="0.55"/>
<rect x="622.4" y="359.5" width="1" height="1" fill="#4aab84" opacity="0.55"/>
<rect x="600.9" y="350.2" width="1" height="1" fill="#2f5f8c" opacity="0.55"/>
<rect x="623.7" y="367.4" width="1" height="1" fill="#2f5f8c" opacity="0.55"/>
<rect x="619.8" y="352.8" width="1" height="1" fill="#4aab84" opacity="0.55"/>
<rect x="596.3" y="326.7" width="1" height="1" fill="#4aab84" opacity="0.55"/>
<rect x="597.2" y="296.6" width="1" height="1" fill="#3a6d8c" opacity="0.55"/>
<rect x="658.2" y="298.8" width="1" height="1" fill="#2f5f8c" opacity="0.55"/>
<rect x="653.7" y="365.7" width="1" height="1" fill="#3fa08a" opacity="0.55"/>
<rect x="622.9" y="320.6" width="1" height="1" fill="#2a7a8d" opacity="0.55"/>
<rect x="597.4" y="353.5" width="1" height="1" fill="#3fa08a" opacity="0.55"/>
<rect x="667.8" y="317.6" width="1" height="1" fill="#2a7a8d" opacity="0.55"/>
<rect x="667.2" y="344.5" width="1" height="1" fill="#3a6d8c" opacity="0.55"/>
<rect x="595.8" y="312.5" width="1" height="1" fill="#4aab84" opacity="0.55"/>
<rect x="651.1" y="331.1" width="1" height="1" fill="#4aab84" opacity="0.55"/>
<rect x="657.1" y="366.9" width="1" height="1" fill="#4aab84" opacity="0.55"/>
<rect x="604.5" y="333.5" width="1" height="1" fill="#3a6d8c" opacity="0.55"/>
<rect x="658.1" y="352.9" width="1" height="1" fill="#2f5f8c" opacity="0.55"/>
<rect x="642.5" y="320.0" width="1" height="1" fill="#3fa08a" opacity="0.55"/>
<rect x="630.8" y="356.5" width="1" height="1" fill="#2a7a8d" opacity="0.55"/>
<rect x="600.2" y="309.6" width="1" height="1" fill="#2f5f8c" opacity="0.55"/>
<rect x="613.7" y="299.0" width="1" height="1" fill="#3a6d8c" opacity="0.55"/>
<rect x="632.4" y="337.4" width="1" height="1" fill="#2f5f8c" opacity="0.55"/>
<rect x="672.3" y="364.5" width="1" height="1" fill="#3a6d8c" opacity="0.55"/>
<rect x="615.1" y="300.5" width="1" height="1" fill="#3a6d8c" opacity="0.55"/>
<rect x="627.6" y="372.9" width="1" height="1" fill="#4aab84" opacity="0.55"/>
<rect x="607.8" y="304.4" width="1" height="1" fill="#4aab84" opacity="0.55"/>
<rect x="643.5" y="347.7" width="1" height="1" fill="#2a7a8d" opacity="0.55"/>
<rect x="661.7" y="347.0" width="1" height="1" fill="#3a6d8c" opacity="0.55"/>
<rect x="656.3" y="317.3" width="1" height="1" fill="#3fa08a" opacity="0.55"/>
<rect x="639.3" y="323.6" width="1" height="1" fill="#3fa08a" opacity="0.55"/>
<rect x="609.8" y="313.6" width="1" height="1" fill="#2f5f8c" opacity="0.55"/>
<rect x="612.7" y="316.3" width="1" height="1" fill="#2a7a8d" opacity="0.55"/>
<rect x="609.0" y="299.0" width="1" height="1" fill="#3fa08a" opacity="0.55"/>
<rect x="673.3" y="334.4" width="1" height="1" fill="#2f5f8c" opacity="0.55"/>
<rect x="645.9" y="301.8" width="1" height="1" fill="#4aab84" opacity="0.55"/>
<rect x="673.2" y="302.0" width="1" height="1" fill="#4aab84" opacity="0.55"/>
<rect x="664.5" y="312.3" width="1" height="1" fill="#4aab84" opacity="0.55"/>
<rect x="667.1" y="297.0" width="1" height="1" fill="#3fa08a" opacity="0.55"/>
<rect x="612.5" y="297.8" width="1" height="1" fill="#2a7a8d" opacity="0.55"/>
<rect x="671.7" y="340.5" width="1" height="1" fill="#3a6d8c" opacity="0.55"/>
<rect x="623.7" y="363.1" width="1" height="1" fill="#4aab84" opacity="0.55"/>
<rect x="642.1" y="355.8" width="1" height="1" fill="#3a6d8c" opacity="0.55"/>
<rect x="602.4" y="341.5" width="1" height="1" fill="#2a7a8d" opacity="0.55"/>
<rect x="621.9" y="296.8" width="1" height="1" fill="#3fa08a" opacity="0.55"/>
<rect x="605.2" y="310.1" width="1" height="1" fill="#3fa08a" opacity="0.55"/>
<rect x="597.0" y="352.4" width="1" height="1" fill="#2f5f8c" opacity="0.55"/>
<rect x="659.1" y="359.3" width="1" height="1" fill="#4aab84" opacity="0.55"/>
<rect x="648.2" y="308.6" width="1" height="1" fill="#3fa08a" opacity="0.55"/>
<rect x="600.1" y="296.3" width="1" height="1" fill="#4aab84" opacity="0.55"/>
<rect x="637.7" y="298.9" width="1" height="1" fill="#3a6d8c" opacity="0.55"/>
<rect x="629.7" y="344.5" width="1.2" height="1.2" fill="#8fd744" opacity="0.89"/>
<rect x="629.6" y="346.5" width="1.2" height="1.2" fill="#8fd744" opacity="0.68"/>
<rect x="631.1" y="348.5" width="1.2" height="1.2" fill="#8fd744" opacity="0.85"/>
<rect x="626.9" y="350.0" width="1.2" height="1.2" fill="#b5de2b" opacity="0.70"/>
<rect x="628.5" y="348.1" width="1.2" height="1.2" fill="#4ec36b" opacity="0.69"/>
<rect x="630.2" y="351.8" width="1.2" height="1.2" fill="#4ec36b" opacity="0.45"/>
<rect x="628.4" y="353.9" width="1.2" height="1.2" fill="#4ec36b" opacity="0.87"/>
<rect x="627.3" y="351.2" width="1.2" height="1.2" fill="#6ccd5a" opacity="0.42"/>
<rect x="629.2" y="353.0" width="1.2" height="1.2" fill="#b5de2b" opacity="0.37"/>
<rect x="627.2" y="352.9" width="1.2" height="1.2" fill="#8fd744" opacity="0.72"/>
<rect x="630.2" y="355.0" width="1.2" height="1.2" fill="#4ec36b" opacity="0.68"/>
<rect x="630.8" y="357.6" width="1.2" height="1.2" fill="#6ccd5a" opacity="0.71"/>
<rect x="628.3" y="355.8" width="1.2" height="1.2" fill="#b5de2b" opacity="0.58"/>
<rect x="627.1" y="357.7" width="1.2" height="1.2" fill="#4ec36b" opacity="0.63"/>
<rect x="630.3" y="360.7" width="1.2" height="1.2" fill="#8fd744" opacity="0.69"/>
<rect x="627.8" y="359.3" width="1.2" height="1.2" fill="#b5de2b" opacity="0.69"/>
<rect x="625.6" y="359.6" width="1.2" height="1.2" fill="#8fd744" opacity="0.35"/>
<rect x="624.8" y="361.6" width="1.2" height="1.2" fill="#8fd744" opacity="0.64"/>
<rect x="623.8" y="363.1" width="1.2" height="1.2" fill="#4ec36b" opacity="0.67"/>
<rect x="626.2" y="364.1" width="1.2" height="1.2" fill="#b5de2b" opacity="0.55"/>
<rect x="625.6" y="362.5" width="1.2" height="1.2" fill="#8fd744" opacity="0.87"/>
<rect x="624.8" y="365.7" width="1.2" height="1.2" fill="#b5de2b" opacity="0.60"/>
<rect x="620.6" y="367.3" width="1.2" height="1.2" fill="#b5de2b" opacity="0.83"/>
<rect x="621.9" y="367.9" width="1.2" height="1.2" fill="#6ccd5a" opacity="0.88"/>
<rect x="619.3" y="367.6" width="1.2" height="1.2" fill="#6ccd5a" opacity="0.68"/>
<rect x="620.9" y="366.1" width="1.2" height="1.2" fill="#4ec36b" opacity="0.49"/>
<rect x="615.7" y="367.4" width="1.2" height="1.2" fill="#8fd744" opacity="0.57"/>
<rect x="615.5" y="366.8" width="1.2" height="1.2" fill="#8fd744" opacity="0.85"/>
<rect x="614.0" y="371.2" width="1.2" height="1.2" fill="#b5de2b" opacity="0.43"/>
<rect x="616.1" y="368.1" width="1.2" height="1.2" fill="#4ec36b" opacity="0.80"/>
<rect x="611.8" y="369.9" width="1.2" height="1.2" fill="#6ccd5a" opacity="0.39"/>
<rect x="612.0" y="371.6" width="1.2" height="1.2" fill="#4ec36b" opacity="0.74"/>
<rect x="612.1" y="371.8" width="1.2" height="1.2" fill="#4ec36b" opacity="0.76"/>
<rect x="613.2" y="370.9" width="1.2" height="1.2" fill="#4ec36b" opacity="0.45"/>
<rect x="609.2" y="370.1" width="1.2" height="1.2" fill="#8fd744" opacity="0.42"/>
<rect x="606.2" y="370.1" width="1.2" height="1.2" fill="#8fd744" opacity="0.50"/>
<rect x="602.7" y="369.4" width="1.2" height="1.2" fill="#4ec36b" opacity="0.73"/>
<rect x="630.0" y="363.1" width="1.2" height="1.2" fill="#6ccd5a" opacity="0.69"/>
<rect x="629.6" y="362.1" width="1.2" height="1.2" fill="#4ec36b" opacity="0.37"/>
<rect x="633.5" y="364.2" width="1.2" height="1.2" fill="#8fd744" opacity="0.54"/>
<rect x="630.8" y="365.4" width="1.2" height="1.2" fill="#b5de2b" opacity="0.74"/>
<rect x="634.7" y="367.3" width="1.2" height="1.2" fill="#6ccd5a" opacity="0.44"/>
<rect x="635.0" y="366.8" width="1.2" height="1.2" fill="#b5de2b" opacity="0.51"/>
<rect x="633.8" y="365.1" width="1.2" height="1.2" fill="#8fd744" opacity="0.35"/>
<rect x="635.9" y="366.8" width="1.2" height="1.2" fill="#4ec36b" opacity="0.73"/>
<rect x="633.9" y="371.2" width="1.2" height="1.2" fill="#6ccd5a" opacity="0.67"/>
<rect x="638.4" y="372.5" width="1.2" height="1.2" fill="#b5de2b" opacity="0.87"/>
<rect x="635.3" y="373.0" width="1.2" height="1.2" fill="#b5de2b" opacity="0.41"/>
<rect x="635.9" y="370.6" width="1.2" height="1.2" fill="#8fd744" opacity="0.62"/>
<rect x="640.1" y="373.9" width="1.2" height="1.2" fill="#8fd744" opacity="0.70"/>
<rect x="641.9" y="374.4" width="1.2" height="1.2" fill="#4ec36b" opacity="0.86"/>
<rect x="644.2" y="375.6" width="1.2" height="1.2" fill="#4ec36b" opacity="0.84"/>
<rect x="641.6" y="375.0" width="1.2" height="1.2" fill="#b5de2b" opacity="0.52"/>
<rect x="644.2" y="372.3" width="1.2" height="1.2" fill="#b5de2b" opacity="0.56"/>
<rect x="644.9" y="373.4" width="1.2" height="1.2" fill="#4ec36b" opacity="0.42"/>
<rect x="645.1" y="375.3" width="1.2" height="1.2" fill="#8fd744" opacity="0.54"/>
<rect x="649.2" y="374.6" width="1.2" height="1.2" fill="#b5de2b" opacity="0.83"/>
<rect x="621.5" y="324.6" width="1.2" height="1.2" fill="#8fd744" opacity="0.58"/>
<rect x="619.9" y="328.0" width="1.2" height="1.2" fill="#4ec36b" opacity="0.87"/>
<rect x="617.7" y="330.2" width="1.2" height="1.2" fill="#4ec36b" opacity="0.60"/>
<rect x="616.8" y="330.5" width="1.2" height="1.2" fill="#8fd744" opacity="0.80"/>
<rect x="618.6" y="338.3" width="1.2" height="1.2" fill="#b5de2b" opacity="0.54"/>
<rect x="623.9" y="343.3" width="1.2" height="1.2" fill="#4ec36b" opacity="0.55"/>
<rect x="628.0" y="343.7" width="1.2" height="1.2" fill="#8fd744" opacity="0.79"/>
<rect x="638.3" y="329.1" width="1.2" height="1.2" fill="#6ccd5a" opacity="0.58"/>
<rect x="641.6" y="330.6" width="1.2" height="1.2" fill="#4ec36b" opacity="0.57"/>
<rect x="641.1" y="334.0" width="1.2" height="1.2" fill="#6ccd5a" opacity="0.89"/>
<rect x="639.2" y="337.8" width="1.2" height="1.2" fill="#8fd744" opacity="0.78"/>
<rect x="640.1" y="339.9" width="1.2" height="1.2" fill="#4ec36b" opacity="0.65"/>
<rect x="641.6" y="341.4" width="1.2" height="1.2" fill="#6ccd5a" opacity="0.41"/>
<rect x="637.8" y="341.8" width="1.2" height="1.2" fill="#4ec36b" opacity="0.68"/>
<rect x="630.6" y="351.2" width="1.2" height="1.2" fill="#b5de2b" opacity="0.78"/>
<rect x="633.7" y="360.6" width="1.2" height="1.2" fill="#4ec36b" opacity="0.65"/>
<rect x="633.9" y="362.2" width="1.2" height="1.2" fill="#4ec36b" opacity="0.47"/>
<rect x="637.2" y="361.7" width="1.2" height="1.2" fill="#8fd744" opacity="0.58"/>
<rect x="634.8" y="363.0" width="1.2" height="1.2" fill="#8fd744" opacity="0.89"/>
<rect x="619.9" y="358.0" width="1.2" height="1.2" fill="#6ccd5a" opacity="0.75"/>
<rect x="620.6" y="357.7" width="1.2" height="1.2" fill="#4ec36b" opacity="0.68"/>
<rect x="621.3" y="356.6" width="1.2" height="1.2" fill="#4ec36b" opacity="0.61"/>
<rect x="621.1" y="359.2" width="1.2" height="1.2" fill="#8fd744" opacity="0.55"/>
<rect x="624.3" y="369.3" width="1" height="1" fill="#5ec962" opacity="0.45"/>
<rect x="640.7" y="348.9" width="1" height="1" fill="#5ec962" opacity="0.45"/>
<rect x="622.4" y="369.6" width="1" height="1" fill="#5ec962" opacity="0.45"/>
<rect x="614.0" y="366.1" width="1" height="1" fill="#5ec962" opacity="0.45"/>
<rect x="628.8" y="344.3" width="1" height="1" fill="#5ec962" opacity="0.45"/>
<rect x="629.6" y="350.7" width="1" height="1" fill="#5ec962" opacity="0.45"/>
<rect x="610.0" y="369.3" width="1" height="1" fill="#5ec962" opacity="0.45"/>
<rect x="617.5" y="335.5" width="1" height="1" fill="#5ec962" opacity="0.45"/>
<rect x="639.9" y="368.5" width="1" height="1" fill="#5ec962" opacity="0.45"/>
<rect x="609.9" y="356.7" width="1" height="1" fill="#5ec962" opacity="0.45"/>
<rect x="625.4" y="366.1" width="1" height="1" fill="#5ec962" opacity="0.45"/>
<rect x="652.1" y="361.2" width="1" height="1" fill="#5ec962" opacity="0.45"/>
<rect x="638.4" y="337.2" width="1" height="1" fill="#5ec962" opacity="0.45"/>
<rect x="623.2" y="355.9" width="1" height="1" fill="#5ec962" opacity="0.45"/>
<rect x="631.3" y="363.8" width="1" height="1" fill="#5ec962" opacity="0.45"/>
<rect x="621.2" y="371.1" width="1" height="1" fill="#5ec962" opacity="0.45"/>
<rect x="630.5" y="360.9" width="1" height="1" fill="#5ec962" opacity="0.45"/>
<rect x="645.2" y="352.4" width="1" height="1" fill="#5ec962" opacity="0.45"/>
<rect x="631.4" y="363.8" width="1" height="1" fill="#5ec962" opacity="0.45"/>
<rect x="637.8" y="365.5" width="1" height="1" fill="#5ec962" opacity="0.45"/>
<rect x="623.9" y="366.1" width="1" height="1" fill="#5ec962" opacity="0.45"/>
<rect x="630.2" y="364.7" width="1" height="1" fill="#5ec962" opacity="0.45"/>
<rect x="630.6" y="369.7" width="1" height="1" fill="#5ec962" opacity="0.45"/>
<rect x="644.6" y="369.2" width="1" height="1" fill="#5ec962" opacity="0.45"/>
<rect x="615.4" y="357.4" width="1" height="1" fill="#5ec962" opacity="0.45"/>
<rect x="627.0" y="341.4" width="1" height="1" fill="#5ec962" opacity="0.45"/>
<rect x="631.6" y="361.8" width="1" height="1" fill="#5ec962" opacity="0.45"/>
<rect x="636.0" y="348.3" width="1" height="1" fill="#5ec962" opacity="0.45"/>
<rect x="617.7" y="354.5" width="1" height="1" fill="#5ec962" opacity="0.45"/>
<rect x="624.1" y="339.8" width="1" height="1" fill="#5ec962" opacity="0.45"/>
<rect x="668.4" y="348.8" width="1" height="1" fill="#5ec962" opacity="0.45"/>
<rect x="640.3" y="338.0" width="1" height="1" fill="#5ec962" opacity="0.45"/>
<rect x="614.7" y="340.0" width="1" height="1" fill="#5ec962" opacity="0.45"/>
<rect x="613.3" y="357.7" width="1" height="1" fill="#5ec962" opacity="0.45"/>
<rect x="620.7" y="334.6" width="1" height="1" fill="#5ec962" opacity="0.45"/>
<rect x="640.9" y="335.1" width="1" height="1" fill="#5ec962" opacity="0.45"/>
<rect x="652.9" y="353.3" width="1" height="1" fill="#5ec962" opacity="0.45"/>
<rect x="627.5" y="356.5" width="1" height="1" fill="#5ec962" opacity="0.45"/>
<rect x="627.4" y="350.8" width="1" height="1" fill="#5ec962" opacity="0.45"/>
<rect x="649.7" y="371.7" width="1" height="1" fill="#5ec962" opacity="0.45"/>
<rect x="631.3" y="372.3" width="1" height="1" fill="#5ec962" opacity="0.45"/>
<rect x="606.8" y="344.0" width="1" height="1" fill="#5ec962" opacity="0.45"/>
<rect x="636.7" y="341.0" width="1" height="1" fill="#5ec962" opacity="0.45"/>
<rect x="630.8" y="337.1" width="1" height="1" fill="#5ec962" opacity="0.45"/>
<rect x="643.4" y="368.6" width="1" height="1" fill="#5ec962" opacity="0.45"/>
<rect x="633.7" y="352.1" width="1" height="1" fill="#5ec962" opacity="0.45"/>
<rect x="653.8" y="336.4" width="1" height="1" fill="#5ec962" opacity="0.45"/>
<rect x="620.3" y="357.7" width="1" height="1" fill="#5ec962" opacity="0.45"/>
<rect x="624.1" y="372.2" width="1" height="1" fill="#5ec962" opacity="0.45"/>
<rect x="632.5" y="344.1" width="1" height="1" fill="#5ec962" opacity="0.45"/>
<rect x="613.1" y="372.1" width="1" height="1" fill="#5ec962" opacity="0.45"/>
<rect x="622.1" y="360.6" width="1" height="1" fill="#5ec962" opacity="0.45"/>
<rect x="618.7" y="340.2" width="1" height="1" fill="#5ec962" opacity="0.45"/>
<rect x="637.0" y="372.4" width="1" height="1" fill="#5ec962" opacity="0.45"/>
<rect x="637.4" y="335.3" width="1" height="1" fill="#5ec962" opacity="0.45"/>
<rect x="628.5" y="344.0" width="1" height="1" fill="#5ec962" opacity="0.45"/>
<rect x="613.4" y="370.0" width="1" height="1" fill="#5ec962" opacity="0.45"/>
<rect x="649.7" y="367.3" width="1" height="1" fill="#5ec962" opacity="0.45"/>
<rect x="649.1" y="362.2" width="1" height="1" fill="#5ec962" opacity="0.45"/>
<rect x="635.0" y="359.7" width="1" height="1" fill="#5ec962" opacity="0.45"/>
<rect x="632.9" y="339.6" width="1" height="1" fill="#5ec962" opacity="0.45"/>
<rect x="628.5" y="364.0" width="1" height="1" fill="#5ec962" opacity="0.45"/>
<rect x="645.6" y="345.8" width="1" height="1" fill="#5ec962" opacity="0.45"/>
<rect x="622.2" y="357.5" width="1" height="1" fill="#5ec962" opacity="0.45"/>
<rect x="629.2" y="346.8" width="1" height="1" fill="#5ec962" opacity="0.45"/>
<rect x="623.2" y="344.1" width="1" height="1" fill="#5ec962" opacity="0.45"/>
<rect x="638.7" y="340.5" width="1" height="1" fill="#5ec962" opacity="0.45"/>
<rect x="638.6" y="343.3" width="1" height="1" fill="#5ec962" opacity="0.45"/>
<rect x="640.1" y="334.3" width="1" height="1" fill="#5ec962" opacity="0.45"/>
<rect x="643.0" y="362.5" width="1" height="1" fill="#5ec962" opacity="0.45"/></g></g>
<text x="722.9" y="289.8" class="tt" textLength="67.5" lengthAdjust="spacingAndGlyphs">G<tspan class="sct">EN</tspan>-MP</text>
<clipPath id="c5"><rect x="715.0" y="293.8" width="82.3" height="81.2"/></clipPath>
<g clip-path="url(#c5)"><rect x="715.0" y="293.8" width="82.3" height="81.2" fill="#287a8c"/><g filter="url(#bl)"><path d="M744.3 320.7L745.9 323.1L744.7 325.1L741.5 326.7L739.2 327.8L739.2 331.0L738.4 334.2L739.2 337.3L740.1 339.4L741.5 340.5L743.1 341.9L745.5 342.8L747.0 343.7L749.4 345.2L750.1 345.6" fill="none" stroke="#3fb47c" stroke-width="1.5" stroke-dasharray="2.2 0.7 1.2 0.9" opacity="0.85"/>
<rect x="744.0" y="321.5" width="1.2" height="1.2" fill="#2fb47c" opacity="0.9"/>
<rect x="744.9" y="323.0" width="1.2" height="1.2" fill="#35b779" opacity="0.9"/>
<rect x="744.5" y="323.9" width="1.2" height="1.2" fill="#2fb47c" opacity="0.9"/>
<rect x="741.5" y="325.0" width="1.2" height="1.2" fill="#5ec962" opacity="0.9"/>
<rect x="741.1" y="326.1" width="1.2" height="1.2" fill="#3fbc73" opacity="0.9"/>
<rect x="738.2" y="328.1" width="1.2" height="1.2" fill="#5ec962" opacity="0.9"/>
<rect x="738.8" y="328.7" width="1.2" height="1.2" fill="#4ec36b" opacity="0.9"/>
<rect x="738.2" y="331.2" width="1.2" height="1.2" fill="#3fbc73" opacity="0.9"/>
<rect x="738.3" y="333.0" width="1.2" height="1.2" fill="#3fbc73" opacity="0.9"/>
<rect x="737.3" y="333.4" width="1.2" height="1.2" fill="#5ec962" opacity="0.9"/>
<rect x="738.4" y="335.4" width="1.2" height="1.2" fill="#3fbc73" opacity="0.9"/>
<rect x="739.3" y="337.8" width="1.2" height="1.2" fill="#4ec36b" opacity="0.9"/>
<rect x="739.9" y="338.8" width="1.2" height="1.2" fill="#7ad151" opacity="0.9"/>
<rect x="741.2" y="340.8" width="1.2" height="1.2" fill="#3fbc73" opacity="0.9"/>
<rect x="743.3" y="341.4" width="1.2" height="1.2" fill="#7ad151" opacity="0.9"/>
<rect x="746.4" y="342.8" width="1.2" height="1.2" fill="#3fbc73" opacity="0.9"/>
<rect x="746.5" y="343.6" width="1.2" height="1.2" fill="#35b779" opacity="0.9"/>
<rect x="748.3" y="345.3" width="1.2" height="1.2" fill="#7ad151" opacity="0.9"/>
<path d="M739.2 327.8L736.5 328.1L734.4 328.6" fill="none" stroke="#3fb47c" stroke-width="1.5" stroke-dasharray="2.2 0.7 1.2 0.9" opacity="0.85"/>
<rect x="738.7" y="328.0" width="1.2" height="1.2" fill="#5ec962" opacity="0.9"/>
<rect x="737.3" y="327.2" width="1.2" height="1.2" fill="#2fb47c" opacity="0.9"/>
<rect x="735.8" y="327.5" width="1.2" height="1.2" fill="#7ad151" opacity="0.9"/>
<path d="M741.5 326.7L740.0 324.8L741.0 322.8" fill="none" stroke="#3fb47c" stroke-width="1.5" stroke-dasharray="2.2 0.7 1.2 0.9" opacity="0.85"/>
<rect x="739.6" y="325.3" width="1.2" height="1.2" fill="#35b779" opacity="0.9"/>
<rect x="738.9" y="323.1" width="1.2" height="1.2" fill="#4ec36b" opacity="0.9"/>
<path d="M756.5 325.9L758.1 328.6L760.5 331.0L761.0 332.8L762.4 334.2L762.5 336.2L762.0 338.1L760.5 341.3L757.8 342.7L755.7 343.2L753.7 343.8L751.8 345.2L750.1 345.6" fill="none" stroke="#3fb47c" stroke-width="1.5" stroke-dasharray="2.2 0.7 1.2 0.9" opacity="0.85"/>
<rect x="755.9" y="326.8" width="1.2" height="1.2" fill="#2fb47c" opacity="0.9"/>
<rect x="758.0" y="327.6" width="1.2" height="1.2" fill="#4ec36b" opacity="0.9"/>
<rect x="758.6" y="329.2" width="1.2" height="1.2" fill="#35b779" opacity="0.9"/>
<rect x="760.2" y="330.2" width="1.2" height="1.2" fill="#2fb47c" opacity="0.9"/>
<rect x="761.8" y="333.1" width="1.2" height="1.2" fill="#2fb47c" opacity="0.9"/>
<rect x="762.2" y="333.9" width="1.2" height="1.2" fill="#35b779" opacity="0.9"/>
<rect x="761.5" y="335.3" width="1.2" height="1.2" fill="#2fb47c" opacity="0.9"/>
<rect x="760.9" y="338.2" width="1.2" height="1.2" fill="#5ec962" opacity="0.9"/>
<rect x="760.2" y="339.1" width="1.2" height="1.2" fill="#2fb47c" opacity="0.9"/>
<rect x="759.6" y="341.3" width="1.2" height="1.2" fill="#5ec962" opacity="0.9"/>
<rect x="757.2" y="342.2" width="1.2" height="1.2" fill="#3fbc73" opacity="0.9"/>
<rect x="756.8" y="342.1" width="1.2" height="1.2" fill="#2fb47c" opacity="0.9"/>
<rect x="754.3" y="342.0" width="1.2" height="1.2" fill="#7ad151" opacity="0.9"/>
<rect x="752.2" y="343.9" width="1.2" height="1.2" fill="#35b779" opacity="0.9"/>
<rect x="750.7" y="345.3" width="1.2" height="1.2" fill="#2fb47c" opacity="0.9"/>
<path d="M749.8 337.3L749.9 339.2L749.8 342.0" fill="none" stroke="#3fb47c" stroke-width="1.5" stroke-dasharray="2.2 0.7 1.2 0.9" opacity="0.85"/>
<rect x="749.9" y="337.8" width="1.2" height="1.2" fill="#3fbc73" opacity="0.9"/>
<rect x="750.0" y="339.7" width="1.2" height="1.2" fill="#4ec36b" opacity="0.9"/>
<path d="M750.1 345.6L750.1 348.1L749.8 350.2L749.9 351.8L750.3 353.8L750.1 356.3L750.3 357.7L750.1 359.9" fill="none" stroke="#3fb47c" stroke-width="1.5" stroke-dasharray="2.2 0.7 1.2 0.9" opacity="0.85"/>
<rect x="749.0" y="345.7" width="1.2" height="1.2" fill="#4ec36b" opacity="0.9"/>
<rect x="750.0" y="347.8" width="1.2" height="1.2" fill="#2fb47c" opacity="0.9"/>
<rect x="749.5" y="350.0" width="1.2" height="1.2" fill="#3fbc73" opacity="0.9"/>
<rect x="750.0" y="352.1" width="1.2" height="1.2" fill="#3fbc73" opacity="0.9"/>
<rect x="749.5" y="353.3" width="1.2" height="1.2" fill="#3fbc73" opacity="0.9"/>
<rect x="749.4" y="354.8" width="1.2" height="1.2" fill="#2fb47c" opacity="0.9"/>
<rect x="749.1" y="356.0" width="1.2" height="1.2" fill="#3fbc73" opacity="0.9"/>
<rect x="749.1" y="358.1" width="1.2" height="1.2" fill="#3fbc73" opacity="0.9"/>
<path d="M746.3 349.2L746.3 351.5L745.4 353.6" fill="none" stroke="#3fb47c" stroke-width="1.5" stroke-dasharray="2.2 0.7 1.2 0.9" opacity="0.85"/>
<rect x="745.2" y="348.5" width="1.2" height="1.2" fill="#2fb47c" opacity="0.9"/>
<rect x="745.1" y="350.9" width="1.2" height="1.2" fill="#2fb47c" opacity="0.9"/>
<path d="M738.3 354.5L740.1 355.9L741.5 357.8L742.7 359.0L744.5 360.8" fill="none" stroke="#3fb47c" stroke-width="1.5" stroke-dasharray="2.2 0.7 1.2 0.9" opacity="0.85"/>
<rect x="738.2" y="354.6" width="1.2" height="1.2" fill="#3fbc73" opacity="0.9"/>
<rect x="740.6" y="356.6" width="1.2" height="1.2" fill="#2fb47c" opacity="0.9"/>
<rect x="740.9" y="357.3" width="1.2" height="1.2" fill="#4ec36b" opacity="0.9"/>
<rect x="742.1" y="359.1" width="1.2" height="1.2" fill="#5ec962" opacity="0.9"/>
<path d="M753.5 351.0L753.5 354.5" fill="none" stroke="#3fb47c" stroke-width="1.5" stroke-dasharray="2.2 0.7 1.2 0.9" opacity="0.85"/>
<rect x="753.5" y="351.2" width="1.2" height="1.2" fill="#5ec962" opacity="0.9"/>
<rect x="752.2" y="353.1" width="1.2" height="1.2" fill="#35b779" opacity="0.9"/>
<path d="M757.1 358.1L757.1 360.4L756.1 361.4L756.2 363.5" fill="none" stroke="#3fb47c" stroke-width="1.5" stroke-dasharray="2.2 0.7 1.2 0.9" opacity="0.85"/>
<rect x="757.0" y="357.1" width="1.2" height="1.2" fill="#7ad151" opacity="0.9"/>
<rect x="756.8" y="359.3" width="1.2" height="1.2" fill="#5ec962" opacity="0.9"/>
<rect x="756.4" y="362.1" width="1.2" height="1.2" fill="#5ec962" opacity="0.9"/>
<path d="M750.1 359.9L748.4 361.0L747.0 362.6L745.6 363.5L743.4 364.4L741.9 365.5L740.3 367.0L738.7 367.8L736.7 369.3L734.2 369.8L732.7 370.6L730.4 370.7L728.4 370.6L726.6 371.1L724.1 371.0" fill="none" stroke="#3fb47c" stroke-width="1.5" stroke-dasharray="2.2 0.7 1.2 0.9" opacity="0.85"/>
<rect x="749.2" y="360.3" width="1.2" height="1.2" fill="#3fbc73" opacity="0.9"/>
<rect x="747.9" y="360.5" width="1.2" height="1.2" fill="#7ad151" opacity="0.9"/>
<rect x="746.1" y="361.4" width="1.2" height="1.2" fill="#35b779" opacity="0.9"/>
<rect x="743.6" y="364.0" width="1.2" height="1.2" fill="#4ec36b" opacity="0.9"/>
<rect x="742.9" y="364.3" width="1.2" height="1.2" fill="#2fb47c" opacity="0.9"/>
<rect x="740.8" y="366.4" width="1.2" height="1.2" fill="#5ec962" opacity="0.9"/>
<rect x="739.2" y="367.7" width="1.2" height="1.2" fill="#35b779" opacity="0.9"/>
<rect x="737.2" y="368.4" width="1.2" height="1.2" fill="#4ec36b" opacity="0.9"/>
<rect x="735.4" y="369.1" width="1.2" height="1.2" fill="#4ec36b" opacity="0.9"/>
<rect x="733.6" y="369.7" width="1.2" height="1.2" fill="#5ec962" opacity="0.9"/>
<rect x="733.3" y="369.5" width="1.2" height="1.2" fill="#7ad151" opacity="0.9"/>
<rect x="730.3" y="369.5" width="1.2" height="1.2" fill="#2fb47c" opacity="0.9"/>
<rect x="729.7" y="370.6" width="1.2" height="1.2" fill="#5ec962" opacity="0.9"/>
<rect x="726.4" y="370.1" width="1.2" height="1.2" fill="#7ad151" opacity="0.9"/>
<rect x="725.4" y="371.0" width="1.2" height="1.2" fill="#2fb47c" opacity="0.9"/>
<path d="M751.7 360.8L752.9 363.1L753.9 364.4L754.2 367.1L755.3 368.8L756.2 370.7L758.0 372.4L759.9 373.4L761.4 373.8L763.3 373.8L765.6 373.9L767.2 373.8L769.6 374.2" fill="none" stroke="#3fb47c" stroke-width="1.5" stroke-dasharray="2.2 0.7 1.2 0.9" opacity="0.85"/>
<rect x="751.1" y="360.3" width="1.2" height="1.2" fill="#7ad151" opacity="0.9"/>
<rect x="752.4" y="362.9" width="1.2" height="1.2" fill="#2fb47c" opacity="0.9"/>
<rect x="752.7" y="364.2" width="1.2" height="1.2" fill="#7ad151" opacity="0.9"/>
<rect x="754.0" y="366.2" width="1.2" height="1.2" fill="#5ec962" opacity="0.9"/>
<rect x="754.6" y="368.2" width="1.2" height="1.2" fill="#2fb47c" opacity="0.9"/>
<rect x="756.1" y="370.7" width="1.2" height="1.2" fill="#2fb47c" opacity="0.9"/>
<rect x="758.5" y="372.4" width="1.2" height="1.2" fill="#35b779" opacity="0.9"/>
<rect x="759.3" y="372.9" width="1.2" height="1.2" fill="#2fb47c" opacity="0.9"/>
<rect x="761.8" y="372.7" width="1.2" height="1.2" fill="#5ec962" opacity="0.9"/>
<rect x="763.4" y="373.5" width="1.2" height="1.2" fill="#5ec962" opacity="0.9"/>
<rect x="765.3" y="373.7" width="1.2" height="1.2" fill="#2fb47c" opacity="0.9"/>
<rect x="767.4" y="373.4" width="1.2" height="1.2" fill="#4ec36b" opacity="0.9"/>
<rect x="759.6" y="342.2" width="1.2" height="1.2" fill="#3aa69a" opacity="0.8"/>
<rect x="761.3" y="340.6" width="1.2" height="1.2" fill="#2d3f78" opacity="0.8"/>
<rect x="763.2" y="339.5" width="1.2" height="1.2" fill="#26456f" opacity="0.8"/>
<rect x="765.1" y="339.2" width="1.2" height="1.2" fill="#3aa69a" opacity="0.8"/>
<rect x="767.7" y="339.2" width="1.2" height="1.2" fill="#2d3f78" opacity="0.8"/>
<rect x="769.3" y="338.0" width="1.2" height="1.2" fill="#4a6fa0" opacity="0.8"/>
<rect x="770.8" y="336.9" width="1.2" height="1.2" fill="#26456f" opacity="0.8"/>
<rect x="772.8" y="336.5" width="1.2" height="1.2" fill="#3aa69a" opacity="0.8"/>
<rect x="774.8" y="334.7" width="1.2" height="1.2" fill="#26456f" opacity="0.8"/>
<rect x="776.6" y="335.1" width="1.2" height="1.2" fill="#2d3f78" opacity="0.8"/>
<rect x="779.7" y="334.2" width="1.2" height="1.2" fill="#3aa69a" opacity="0.8"/>
<rect x="780.2" y="332.3" width="1.2" height="1.2" fill="#4a6fa0" opacity="0.8"/>
<rect x="721.4" y="325.8" width="1.2" height="1.2" fill="#26456f" opacity="0.8"/>
<rect x="723.9" y="326.0" width="1.2" height="1.2" fill="#2d3f78" opacity="0.8"/>
<rect x="725.8" y="326.4" width="1.2" height="1.2" fill="#3aa69a" opacity="0.8"/>
<rect x="728.3" y="327.0" width="1.2" height="1.2" fill="#2d3f78" opacity="0.8"/>
<rect x="731.6" y="327.4" width="1.2" height="1.2" fill="#2d3f78" opacity="0.8"/>
<rect x="733.5" y="327.1" width="1.2" height="1.2" fill="#3aa69a" opacity="0.8"/>
<rect x="749.7" y="345.9" width="1.3" height="1.3" fill="#a0da39" opacity="0.7"/>
<rect x="749.9" y="348.6" width="1.3" height="1.3" fill="#a0da39" opacity="0.7"/>
<rect x="748.9" y="351.1" width="1.3" height="1.3" fill="#a0da39" opacity="0.7"/>
<rect x="749.6" y="356.2" width="1.3" height="1.3" fill="#a0da39" opacity="0.7"/>
<rect x="749.9" y="360.3" width="1.3" height="1.3" fill="#a0da39" opacity="0.7"/>
<rect x="736.0" y="368.4" width="1.3" height="1.3" fill="#b0dd2f" opacity="0.8"/>
<rect x="732.7" y="369.9" width="1.3" height="1.3" fill="#b0dd2f" opacity="0.8"/>
<rect x="728.2" y="370.5" width="1.3" height="1.3" fill="#b0dd2f" opacity="0.8"/>
<rect x="726.3" y="370.7" width="1.3" height="1.3" fill="#b0dd2f" opacity="0.8"/>
<circle cx="724.5" cy="371.0" r="1.4" fill="#b8de29"/>
<rect x="762.3" y="345.0" width="1.2" height="1.2" fill="#2d3f78" opacity="0.75"/>
<rect x="759.3" y="347.1" width="1.2" height="1.2" fill="#2d3f78" opacity="0.75"/>
<rect x="757.1" y="367.8" width="1.2" height="1.2" fill="#2d3f78" opacity="0.75"/>
<rect x="775.9" y="332.2" width="1.2" height="1.2" fill="#2d3f78" opacity="0.75"/>
<rect x="766.2" y="370.9" width="1.2" height="1.2" fill="#2d3f78" opacity="0.75"/>
<rect x="759.7" y="347.8" width="1.2" height="1.2" fill="#2d3f78" opacity="0.75"/>
<rect x="749.4" y="347.0" width="1.2" height="1.2" fill="#2d3f78" opacity="0.75"/>
<rect x="758.5" y="353.6" width="1.2" height="1.2" fill="#2d3f78" opacity="0.75"/>
<rect x="738.0" y="373.7" width="1.2" height="1.2" fill="#2d3f78" opacity="0.75"/>
<rect x="745.1" y="350.3" width="1.2" height="1.2" fill="#2d3f78" opacity="0.75"/>
<rect x="741.7" y="354.6" width="1.2" height="1.2" fill="#2d3f78" opacity="0.75"/>
<rect x="736.3" y="339.2" width="1.2" height="1.2" fill="#2d3f78" opacity="0.75"/>
<rect x="749.9" y="338.1" width="1.2" height="1.2" fill="#2d3f78" opacity="0.75"/>
<rect x="754.4" y="330.0" width="1.2" height="1.2" fill="#2d3f78" opacity="0.75"/>
<rect x="754.6" y="363.2" width="1.2" height="1.2" fill="#2d3f78" opacity="0.75"/>
<rect x="760.7" y="372.2" width="1.2" height="1.2" fill="#2d3f78" opacity="0.75"/></g></g>
<rect x="715.2" y="293.9" width="82.1" height="81.2" fill="none" stroke="#111" stroke-width="1"/>
</svg>
</body></html>
